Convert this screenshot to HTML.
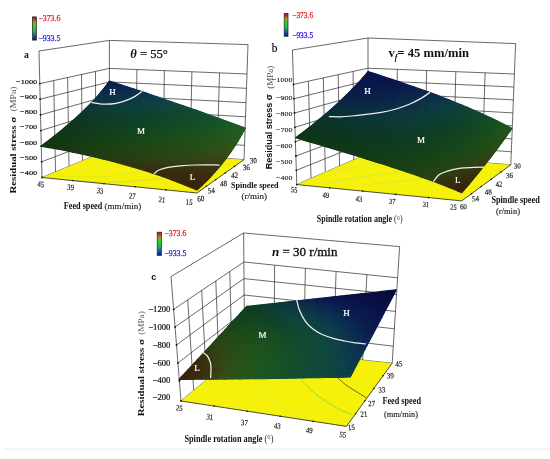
<!DOCTYPE html>
<html lang="en"><head><meta charset="utf-8"><title>Residual stress response surfaces</title>
<style>html,body{margin:0;padding:0;background:#fff}svg{display:block}text{font-family:'Liberation Serif','Noto Serif CJK SC',serif}</style>
</head><body>
<svg width="550" height="459" viewBox="0 0 550 459">
<rect width="550" height="459" fill="#fff"/>
<rect x="3.6" y="448.4" width="546.4" height="1.6" fill="#f2f2f2"/>
<g id="plot-a">
<polygon points="39,51 109.4,40.4 248,44.6 244,159.7 109.4,149.6 42,177.5" fill="#fff" stroke="none"/>
<line x1="39" y1="51" x2="109.4" y2="40.4" stroke="#2a2a2a" stroke-width="0.7"/>
<line x1="109.4" y1="40.4" x2="248" y2="44.6" stroke="#2a2a2a" stroke-width="0.7"/>
<line x1="39" y1="51" x2="42" y2="177.5" stroke="#2a2a2a" stroke-width="0.7"/>
<line x1="109.4" y1="40.4" x2="109.4" y2="149.6" stroke="#2a2a2a" stroke-width="0.7"/>
<line x1="248" y1="44.6" x2="244" y2="159.7" stroke="#2a2a2a" stroke-width="0.7"/>
<line x1="39.8" y1="83.6" x2="109.4" y2="68.4" stroke="#2a2a2a" stroke-width="0.7"/>
<line x1="109.4" y1="68.4" x2="247" y2="74" stroke="#2a2a2a" stroke-width="0.7"/>
<line x1="40.1" y1="99.2" x2="109.4" y2="81.9" stroke="#2a2a2a" stroke-width="0.7"/>
<line x1="109.4" y1="81.9" x2="246.5" y2="88.3" stroke="#2a2a2a" stroke-width="0.7"/>
<line x1="40.5" y1="114.9" x2="109.4" y2="95.5" stroke="#2a2a2a" stroke-width="0.7"/>
<line x1="109.4" y1="95.5" x2="246" y2="102.6" stroke="#2a2a2a" stroke-width="0.7"/>
<line x1="40.9" y1="130.6" x2="109.4" y2="109" stroke="#2a2a2a" stroke-width="0.7"/>
<line x1="109.4" y1="109" x2="245.5" y2="116.8" stroke="#2a2a2a" stroke-width="0.7"/>
<line x1="41.3" y1="146.2" x2="109.4" y2="122.5" stroke="#2a2a2a" stroke-width="0.7"/>
<line x1="109.4" y1="122.5" x2="245" y2="131.1" stroke="#2a2a2a" stroke-width="0.7"/>
<line x1="41.6" y1="161.8" x2="109.4" y2="136.1" stroke="#2a2a2a" stroke-width="0.7"/>
<line x1="109.4" y1="136.1" x2="244.5" y2="145.4" stroke="#2a2a2a" stroke-width="0.7"/>
<line x1="42" y1="177.5" x2="109.4" y2="149.6" stroke="#2a2a2a" stroke-width="0.7"/>
<line x1="109.4" y1="149.6" x2="244" y2="159.7" stroke="#2a2a2a" stroke-width="0.7"/>
<line x1="53.7" y1="80.6" x2="55.5" y2="171.9" stroke="#2a2a2a" stroke-width="0.7"/>
<line x1="136.9" y1="69.5" x2="136.3" y2="151.6" stroke="#2a2a2a" stroke-width="0.7"/>
<line x1="67.6" y1="77.5" x2="69" y2="166.3" stroke="#2a2a2a" stroke-width="0.7"/>
<line x1="164.4" y1="70.6" x2="163.2" y2="153.6" stroke="#2a2a2a" stroke-width="0.7"/>
<line x1="81.5" y1="74.5" x2="82.4" y2="160.8" stroke="#2a2a2a" stroke-width="0.7"/>
<line x1="191.9" y1="71.8" x2="190.2" y2="155.7" stroke="#2a2a2a" stroke-width="0.7"/>
<line x1="95.5" y1="71.4" x2="95.9" y2="155.2" stroke="#2a2a2a" stroke-width="0.7"/>
<line x1="219.5" y1="72.9" x2="217.1" y2="157.7" stroke="#2a2a2a" stroke-width="0.7"/>
<polygon points="42,177.5 197,193 244,159.7 109.4,149.6" fill="#f5f10a"/>
<path d="M60,176 C66.7,176.2 86.7,177.7 100,177 C113.3,176.3 128.3,173.8 140,172 C151.7,170.2 165,167 170,166" fill="none" stroke="#d8ea30" stroke-width="0.8" stroke-linecap="round"/>
<path d="M75,181 C82.5,181.2 105,182.5 120,182 C135,181.5 157.5,178.7 165,178" fill="none" stroke="#c6e23a" stroke-width="0.8" stroke-linecap="round"/>
<line x1="42" y1="177.5" x2="197" y2="193" stroke="#222" stroke-width="0.8"/>
<line x1="197" y1="193" x2="244" y2="159.7" stroke="#222" stroke-width="0.8"/>
<polygon points="109.4,81 115.5,83 121.7,85 127.9,87 134,89 140.2,91.1 146.3,93.1 152.5,95.2 158.7,97.3 164.8,99.4 171,101.5 177.2,103.7 183.4,105.8 189.6,108 195.8,110.1 202,112.3 208.2,114.5 214.4,116.7 220.6,118.9 226.8,121.2 233,123.4 239.2,125.7 245.4,128 243.7,131.2 241.9,134.4 240.1,137.5 238.3,140.6 236.4,143.6 234.4,146.7 232.4,149.6 230.4,152.6 228.3,155.5 226.2,158.4 224,161.2 221.8,164 219.5,166.8 217.2,169.5 214.8,172.2 212.4,174.8 210,177.5 207.5,180 204.9,182.6 202.3,185.1 199.7,187.6 197,190 190.8,187.4 184.6,184.9 178.2,182.4 171.8,180 165.3,177.6 158.7,175.3 152,173 145.2,170.8 138.4,168.7 131.4,166.6 124.3,164.6 117.2,162.6 110,160.7 102.7,158.9 95.3,157.1 87.8,155.4 80.2,153.7 72.5,152.1 64.8,150.5 57,149 49,147.6 41,146.2 45.2,143 49.3,139.9 53.3,136.8 57.2,133.7 61,130.6 64.7,127.5 68.3,124.5 71.8,121.5 75.2,118.5 78.4,115.5 81.6,112.5 84.7,109.5 87.6,106.6 90.5,103.7 93.2,100.8 95.8,97.9 98.4,95 100.8,92.2 103.1,89.4 105.3,86.6 107.4,83.8" fill="#17481e"/>
<g stroke-width="1.1" stroke-linejoin="round">
<polygon points="109.4,81 115.5,83 113.6,85.8 107.4,83.8" fill="#0c1e4f" stroke="#0c1e4f"/>
<polygon points="115.5,83 121.7,85 119.8,87.8 113.6,85.8" fill="#0c2250" stroke="#0c2250"/>
<polygon points="121.7,85 127.9,87 126,89.8 119.8,87.8" fill="#0c2550" stroke="#0c2550"/>
<polygon points="127.9,87 134,89 132.2,91.8 126,89.8" fill="#0c2951" stroke="#0c2951"/>
<polygon points="134,89 140.2,91.1 138.4,93.9 132.2,91.8" fill="#0d2e50" stroke="#0d2e50"/>
<polygon points="140.2,91.1 146.3,93.1 144.6,95.9 138.4,93.9" fill="#0d334e" stroke="#0d334e"/>
<polygon points="146.3,93.1 152.5,95.2 150.8,98 144.6,95.9" fill="#0e374d" stroke="#0e374d"/>
<polygon points="152.5,95.2 158.7,97.3 157,100.1 150.8,98" fill="#0e3b4b" stroke="#0e3b4b"/>
<polygon points="158.7,97.3 164.8,99.4 163.2,102.2 157,100.1" fill="#0f404a" stroke="#0f404a"/>
<polygon points="164.8,99.4 171,101.5 169.4,104.4 163.2,102.2" fill="#0f4246" stroke="#0f4246"/>
<polygon points="171,101.5 177.2,103.7 175.6,106.5 169.4,104.4" fill="#104542" stroke="#104542"/>
<polygon points="177.2,103.7 183.4,105.8 181.8,108.7 175.6,106.5" fill="#10483d" stroke="#10483d"/>
<polygon points="183.4,105.8 189.6,108 188,110.9 181.8,108.7" fill="#11493a" stroke="#11493a"/>
<polygon points="189.6,108 195.8,110.1 194.2,113.1 188,110.9" fill="#124b37" stroke="#124b37"/>
<polygon points="195.8,110.1 202,112.3 200.4,115.3 194.2,113.1" fill="#124c33" stroke="#124c33"/>
<polygon points="202,112.3 208.2,114.5 206.6,117.5 200.4,115.3" fill="#134d30" stroke="#134d30"/>
<polygon points="208.2,114.5 214.4,116.7 212.7,119.7 206.6,117.5" fill="#15502d" stroke="#15502d"/>
<polygon points="214.4,116.7 220.6,118.9 218.9,122 212.7,119.7" fill="#17532b" stroke="#17532b"/>
<polygon points="220.6,118.9 226.8,121.2 225.1,124.3 218.9,122" fill="#195629" stroke="#195629"/>
<polygon points="226.8,121.2 233,123.4 231.3,126.6 225.1,124.3" fill="#1b5926" stroke="#1b5926"/>
<polygon points="233,123.4 239.2,125.7 237.5,128.9 231.3,126.6" fill="#1d5b25" stroke="#1d5b25"/>
<polygon points="239.2,125.7 245.4,128 243.7,131.2 237.5,128.9" fill="#205d23" stroke="#205d23"/>
<polygon points="107.4,83.8 113.6,85.8 111.6,88.5 105.3,86.6" fill="#0c214f" stroke="#0c214f"/>
<polygon points="113.6,85.8 119.8,87.8 117.8,90.5 111.6,88.5" fill="#0c254f" stroke="#0c254f"/>
<polygon points="119.8,87.8 126,89.8 124.1,92.6 117.8,90.5" fill="#0c294f" stroke="#0c294f"/>
<polygon points="126,89.8 132.2,91.8 130.3,94.6 124.1,92.6" fill="#0c2d4e" stroke="#0c2d4e"/>
<polygon points="132.2,91.8 138.4,93.9 136.6,96.7 130.3,94.6" fill="#0d324d" stroke="#0d324d"/>
<polygon points="138.4,93.9 144.6,95.9 142.8,98.7 136.6,96.7" fill="#0d364c" stroke="#0d364c"/>
<polygon points="144.6,95.9 150.8,98 149,100.8 142.8,98.7" fill="#0e3a4a" stroke="#0e3a4a"/>
<polygon points="150.8,98 157,100.1 155.3,102.9 149,100.8" fill="#0e3e48" stroke="#0e3e48"/>
<polygon points="157,100.1 163.2,102.2 161.5,105.1 155.3,102.9" fill="#0f4145" stroke="#0f4145"/>
<polygon points="163.2,102.2 169.4,104.4 167.7,107.2 161.5,105.1" fill="#0f4441" stroke="#0f4441"/>
<polygon points="169.4,104.4 175.6,106.5 173.9,109.4 167.7,107.2" fill="#10463d" stroke="#10463d"/>
<polygon points="175.6,106.5 181.8,108.7 180.1,111.6 173.9,109.4" fill="#104839" stroke="#104839"/>
<polygon points="181.8,108.7 188,110.9 186.3,113.8 180.1,111.6" fill="#114936" stroke="#114936"/>
<polygon points="188,110.9 194.2,113.1 192.5,116 186.3,113.8" fill="#124a33" stroke="#124a33"/>
<polygon points="194.2,113.1 200.4,115.3 198.7,118.2 192.5,116" fill="#134b2f" stroke="#134b2f"/>
<polygon points="200.4,115.3 206.6,117.5 204.9,120.5 198.7,118.2" fill="#144e2d" stroke="#144e2d"/>
<polygon points="206.6,117.5 212.7,119.7 211.1,122.7 204.9,120.5" fill="#16502a" stroke="#16502a"/>
<polygon points="212.7,119.7 218.9,122 217.3,125 211.1,122.7" fill="#185328" stroke="#185328"/>
<polygon points="218.9,122 225.1,124.3 223.4,127.3 217.3,125" fill="#1a5626" stroke="#1a5626"/>
<polygon points="225.1,124.3 231.3,126.6 229.6,129.7 223.4,127.3" fill="#1c5824" stroke="#1c5824"/>
<polygon points="231.3,126.6 237.5,128.9 235.8,132 229.6,129.7" fill="#1f5a23" stroke="#1f5a23"/>
<polygon points="237.5,128.9 243.7,131.2 241.9,134.4 235.8,132" fill="#225c21" stroke="#225c21"/>
<polygon points="105.3,86.6 111.6,88.5 109.4,91.3 103.1,89.4" fill="#0c254e" stroke="#0c254e"/>
<polygon points="111.6,88.5 117.8,90.5 115.7,93.3 109.4,91.3" fill="#0c294e" stroke="#0c294e"/>
<polygon points="117.8,90.5 124.1,92.6 122,95.4 115.7,93.3" fill="#0c2d4d" stroke="#0c2d4d"/>
<polygon points="124.1,92.6 130.3,94.6 128.3,97.4 122,95.4" fill="#0d314c" stroke="#0d314c"/>
<polygon points="130.3,94.6 136.6,96.7 134.6,99.5 128.3,97.4" fill="#0d354a" stroke="#0d354a"/>
<polygon points="136.6,96.7 142.8,98.7 140.9,101.5 134.6,99.5" fill="#0e3949" stroke="#0e3949"/>
<polygon points="142.8,98.7 149,100.8 147.2,103.6 140.9,101.5" fill="#0e3d47" stroke="#0e3d47"/>
<polygon points="149,100.8 155.3,102.9 153.4,105.7 147.2,103.6" fill="#0f4043" stroke="#0f4043"/>
<polygon points="155.3,102.9 161.5,105.1 159.7,107.9 153.4,105.7" fill="#0f4240" stroke="#0f4240"/>
<polygon points="161.5,105.1 167.7,107.2 165.9,110 159.7,107.9" fill="#0f453c" stroke="#0f453c"/>
<polygon points="167.7,107.2 173.9,109.4 172.2,112.2 165.9,110" fill="#104638" stroke="#104638"/>
<polygon points="173.9,109.4 180.1,111.6 178.4,114.4 172.2,112.2" fill="#114735" stroke="#114735"/>
<polygon points="180.1,111.6 186.3,113.8 184.6,116.6 178.4,114.4" fill="#114832" stroke="#114832"/>
<polygon points="186.3,113.8 192.5,116 190.8,118.9 184.6,116.6" fill="#124a2f" stroke="#124a2f"/>
<polygon points="192.5,116 198.7,118.2 197,121.1 190.8,118.9" fill="#144c2c" stroke="#144c2c"/>
<polygon points="198.7,118.2 204.9,120.5 203.2,123.4 197,121.1" fill="#154e2a" stroke="#154e2a"/>
<polygon points="204.9,120.5 211.1,122.7 209.4,125.7 203.2,123.4" fill="#175127" stroke="#175127"/>
<polygon points="211.1,122.7 217.3,125 215.5,128 209.4,125.7" fill="#195425" stroke="#195425"/>
<polygon points="217.3,125 223.4,127.3 221.7,130.4 215.5,128" fill="#1b5624" stroke="#1b5624"/>
<polygon points="223.4,127.3 229.6,129.7 227.8,132.7 221.7,130.4" fill="#1e5822" stroke="#1e5822"/>
<polygon points="229.6,129.7 235.8,132 234,135.1 227.8,132.7" fill="#215921" stroke="#215921"/>
<polygon points="235.8,132 241.9,134.4 240.1,137.5 234,135.1" fill="#245b1f" stroke="#245b1f"/>
<polygon points="103.1,89.4 109.4,91.3 107.2,94.2 100.8,92.2" fill="#0c284c" stroke="#0c284c"/>
<polygon points="109.4,91.3 115.7,93.3 113.5,96.2 107.2,94.2" fill="#0c2c4b" stroke="#0c2c4b"/>
<polygon points="115.7,93.3 122,95.4 119.9,98.2 113.5,96.2" fill="#0d314a" stroke="#0d314a"/>
<polygon points="122,95.4 128.3,97.4 126.3,100.2 119.9,98.2" fill="#0d3449" stroke="#0d3449"/>
<polygon points="128.3,97.4 134.6,99.5 132.6,102.3 126.3,100.2" fill="#0d3847" stroke="#0d3847"/>
<polygon points="134.6,99.5 140.9,101.5 138.9,104.3 132.6,102.3" fill="#0e3c46" stroke="#0e3c46"/>
<polygon points="140.9,101.5 147.2,103.6 145.2,106.4 138.9,104.3" fill="#0e3f42" stroke="#0e3f42"/>
<polygon points="147.2,103.6 153.4,105.7 151.5,108.6 145.2,106.4" fill="#0f413e" stroke="#0f413e"/>
<polygon points="153.4,105.7 159.7,107.9 157.8,110.7 151.5,108.6" fill="#0f433b" stroke="#0f433b"/>
<polygon points="159.7,107.9 165.9,110 164.1,112.9 157.8,110.7" fill="#104537" stroke="#104537"/>
<polygon points="165.9,110 172.2,112.2 170.3,115.1 164.1,112.9" fill="#104634" stroke="#104634"/>
<polygon points="172.2,112.2 178.4,114.4 176.6,117.3 170.3,115.1" fill="#114731" stroke="#114731"/>
<polygon points="178.4,114.4 184.6,116.6 182.8,119.5 176.6,117.3" fill="#12482e" stroke="#12482e"/>
<polygon points="184.6,116.6 190.8,118.9 189,121.8 182.8,119.5" fill="#134a2b" stroke="#134a2b"/>
<polygon points="190.8,118.9 197,121.1 195.2,124 189,121.8" fill="#154c29" stroke="#154c29"/>
<polygon points="197,121.1 203.2,123.4 201.4,126.3 195.2,124" fill="#164f27" stroke="#164f27"/>
<polygon points="203.2,123.4 209.4,125.7 207.6,128.7 201.4,126.3" fill="#185225" stroke="#185225"/>
<polygon points="209.4,125.7 215.5,128 213.7,131 207.6,128.7" fill="#1a5423" stroke="#1a5423"/>
<polygon points="215.5,128 221.7,130.4 219.9,133.4 213.7,131" fill="#1d5522" stroke="#1d5522"/>
<polygon points="221.7,130.4 227.8,132.7 226,135.7 219.9,133.4" fill="#205720" stroke="#205720"/>
<polygon points="227.8,132.7 234,135.1 232.2,138.2 226,135.7" fill="#22591f" stroke="#22591f"/>
<polygon points="234,135.1 240.1,137.5 238.3,140.6 232.2,138.2" fill="#265a1e" stroke="#265a1e"/>
<polygon points="100.8,92.2 107.2,94.2 104.8,97 98.4,95" fill="#0c2c4a" stroke="#0c2c4a"/>
<polygon points="107.2,94.2 113.5,96.2 111.2,99 104.8,97" fill="#0c3049" stroke="#0c3049"/>
<polygon points="113.5,96.2 119.9,98.2 117.7,101 111.2,99" fill="#0d3447" stroke="#0d3447"/>
<polygon points="119.9,98.2 126.3,100.2 124.1,103 117.7,101" fill="#0d3746" stroke="#0d3746"/>
<polygon points="126.3,100.2 132.6,102.3 130.5,105.1 124.1,103" fill="#0e3b44" stroke="#0e3b44"/>
<polygon points="132.6,102.3 138.9,104.3 136.8,107.1 130.5,105.1" fill="#0e3d41" stroke="#0e3d41"/>
<polygon points="138.9,104.3 145.2,106.4 143.2,109.2 136.8,107.1" fill="#0e403d" stroke="#0e403d"/>
<polygon points="145.2,106.4 151.5,108.6 149.5,111.4 143.2,109.2" fill="#0f4239" stroke="#0f4239"/>
<polygon points="151.5,108.6 157.8,110.7 155.8,113.5 149.5,111.4" fill="#0f4436" stroke="#0f4436"/>
<polygon points="157.8,110.7 164.1,112.9 162.1,115.7 155.8,113.5" fill="#104533" stroke="#104533"/>
<polygon points="164.1,112.9 170.3,115.1 168.4,117.9 162.1,115.7" fill="#114530" stroke="#114530"/>
<polygon points="170.3,115.1 176.6,117.3 174.7,120.1 168.4,117.9" fill="#11462d" stroke="#11462d"/>
<polygon points="176.6,117.3 182.8,119.5 180.9,122.4 174.7,120.1" fill="#13482b" stroke="#13482b"/>
<polygon points="182.8,119.5 189,121.8 187.2,124.6 180.9,122.4" fill="#144b29" stroke="#144b29"/>
<polygon points="189,121.8 195.2,124 193.4,126.9 187.2,124.6" fill="#164d26" stroke="#164d26"/>
<polygon points="195.2,124 201.4,126.3 199.6,129.2 193.4,126.9" fill="#175024" stroke="#175024"/>
<polygon points="201.4,126.3 207.6,128.7 205.7,131.6 199.6,129.2" fill="#195222" stroke="#195222"/>
<polygon points="207.6,128.7 213.7,131 211.9,133.9 205.7,131.6" fill="#1c5321" stroke="#1c5321"/>
<polygon points="213.7,131 219.9,133.4 218,136.3 211.9,133.9" fill="#1f5520" stroke="#1f5520"/>
<polygon points="219.9,133.4 226,135.7 224.2,138.7 218,136.3" fill="#21571f" stroke="#21571f"/>
<polygon points="226,135.7 232.2,138.2 230.3,141.2 224.2,138.7" fill="#25581d" stroke="#25581d"/>
<polygon points="232.2,138.2 238.3,140.6 236.4,143.6 230.3,141.2" fill="#29581c" stroke="#29581c"/>
<polygon points="98.4,95 104.8,97 102.4,99.9 95.8,97.9" fill="#0c3047" stroke="#0c3047"/>
<polygon points="104.8,97 111.2,99 108.9,101.8 102.4,99.9" fill="#0d3345" stroke="#0d3345"/>
<polygon points="111.2,99 117.7,101 115.3,103.8 108.9,101.8" fill="#0d3744" stroke="#0d3744"/>
<polygon points="117.7,101 124.1,103 121.8,105.8 115.3,103.8" fill="#0d3a43" stroke="#0d3a43"/>
<polygon points="124.1,103 130.5,105.1 128.2,107.9 121.8,105.8" fill="#0e3c3f" stroke="#0e3c3f"/>
<polygon points="130.5,105.1 136.8,107.1 134.7,110 128.2,107.9" fill="#0e3f3c" stroke="#0e3f3c"/>
<polygon points="136.8,107.1 143.2,109.2 141.1,112.1 134.7,110" fill="#0f4138" stroke="#0f4138"/>
<polygon points="143.2,109.2 149.5,111.4 147.4,114.2 141.1,112.1" fill="#0f4235" stroke="#0f4235"/>
<polygon points="149.5,111.4 155.8,113.5 153.8,116.3 147.4,114.2" fill="#104332" stroke="#104332"/>
<polygon points="155.8,113.5 162.1,115.7 160.1,118.5 153.8,116.3" fill="#10442f" stroke="#10442f"/>
<polygon points="162.1,115.7 168.4,117.9 166.4,120.7 160.1,118.5" fill="#11452d" stroke="#11452d"/>
<polygon points="168.4,117.9 174.7,120.1 172.7,122.9 166.4,120.7" fill="#12472a" stroke="#12472a"/>
<polygon points="174.7,120.1 180.9,122.4 179,125.2 172.7,122.9" fill="#144928" stroke="#144928"/>
<polygon points="180.9,122.4 187.2,124.6 185.2,127.5 179,125.2" fill="#154b26" stroke="#154b26"/>
<polygon points="187.2,124.6 193.4,126.9 191.5,129.8 185.2,127.5" fill="#174e24" stroke="#174e24"/>
<polygon points="193.4,126.9 199.6,129.2 197.7,132.1 191.5,129.8" fill="#195022" stroke="#195022"/>
<polygon points="199.6,129.2 205.7,131.6 203.8,134.5 197.7,132.1" fill="#1b5121" stroke="#1b5121"/>
<polygon points="205.7,131.6 211.9,133.9 210,136.9 203.8,134.5" fill="#1d531f" stroke="#1d531f"/>
<polygon points="211.9,133.9 218,136.3 216.1,139.3 210,136.9" fill="#20541e" stroke="#20541e"/>
<polygon points="218,136.3 224.2,138.7 222.3,141.7 216.1,139.3" fill="#23561d" stroke="#23561d"/>
<polygon points="224.2,138.7 230.3,141.2 228.3,144.2 222.3,141.7" fill="#27561c" stroke="#27561c"/>
<polygon points="230.3,141.2 236.4,143.6 234.4,146.7 228.3,144.2" fill="#2c561b" stroke="#2c561b"/>
<polygon points="95.8,97.9 102.4,99.9 99.8,102.7 93.2,100.8" fill="#0c3344" stroke="#0c3344"/>
<polygon points="102.4,99.9 108.9,101.8 106.4,104.7 99.8,102.7" fill="#0d3642" stroke="#0d3642"/>
<polygon points="108.9,101.8 115.3,103.8 112.9,106.7 106.4,104.7" fill="#0d3941" stroke="#0d3941"/>
<polygon points="115.3,103.8 121.8,105.8 119.4,108.7 112.9,106.7" fill="#0e3b3d" stroke="#0e3b3d"/>
<polygon points="121.8,105.8 128.2,107.9 125.9,110.7 119.4,108.7" fill="#0e3e3a" stroke="#0e3e3a"/>
<polygon points="128.2,107.9 134.7,110 132.4,112.8 125.9,110.7" fill="#0e4037" stroke="#0e4037"/>
<polygon points="134.7,110 141.1,112.1 138.9,114.9 132.4,112.8" fill="#0f4134" stroke="#0f4134"/>
<polygon points="141.1,112.1 147.4,114.2 145.3,117 138.9,114.9" fill="#0f4231" stroke="#0f4231"/>
<polygon points="147.4,114.2 153.8,116.3 151.7,119.1 145.3,117" fill="#10432e" stroke="#10432e"/>
<polygon points="153.8,116.3 160.1,118.5 158,121.3 151.7,119.1" fill="#11442c" stroke="#11442c"/>
<polygon points="160.1,118.5 166.4,120.7 164.4,123.5 158,121.3" fill="#124529" stroke="#124529"/>
<polygon points="166.4,120.7 172.7,122.9 170.7,125.8 164.4,123.5" fill="#134727" stroke="#134727"/>
<polygon points="172.7,122.9 179,125.2 177,128 170.7,125.8" fill="#154a25" stroke="#154a25"/>
<polygon points="179,125.2 185.2,127.5 183.2,130.3 177,128" fill="#164c23" stroke="#164c23"/>
<polygon points="185.2,127.5 191.5,129.8 189.5,132.6 183.2,130.3" fill="#184e21" stroke="#184e21"/>
<polygon points="191.5,129.8 197.7,132.1 195.7,135 189.5,132.6" fill="#1a5020" stroke="#1a5020"/>
<polygon points="197.7,132.1 203.8,134.5 201.9,137.3 195.7,135" fill="#1d511f" stroke="#1d511f"/>
<polygon points="203.8,134.5 210,136.9 208,139.7 201.9,137.3" fill="#1f531e" stroke="#1f531e"/>
<polygon points="210,136.9 216.1,139.3 214.2,142.2 208,139.7" fill="#22541c" stroke="#22541c"/>
<polygon points="216.1,139.3 222.3,141.7 220.3,144.6 214.2,142.2" fill="#26541b" stroke="#26541b"/>
<polygon points="222.3,141.7 228.3,144.2 226.4,147.1 220.3,144.6" fill="#2a551a" stroke="#2a551a"/>
<polygon points="228.3,144.2 234.4,146.7 232.4,149.6 226.4,147.1" fill="#2e5519" stroke="#2e5519"/>
<polygon points="93.2,100.8 99.8,102.7 97.1,105.6 90.5,103.7" fill="#0d3640" stroke="#0d3640"/>
<polygon points="99.8,102.7 106.4,104.7 103.8,107.5 97.1,105.6" fill="#0d383e" stroke="#0d383e"/>
<polygon points="106.4,104.7 112.9,106.7 110.4,109.5 103.8,107.5" fill="#0d3a3b" stroke="#0d3a3b"/>
<polygon points="112.9,106.7 119.4,108.7 117,111.5 110.4,109.5" fill="#0e3c38" stroke="#0e3c38"/>
<polygon points="119.4,108.7 125.9,110.7 123.5,113.5 117,111.5" fill="#0e3f35" stroke="#0e3f35"/>
<polygon points="125.9,110.7 132.4,112.8 130.1,115.6 123.5,113.5" fill="#0f4033" stroke="#0f4033"/>
<polygon points="132.4,112.8 138.9,114.9 136.6,117.7 130.1,115.6" fill="#0f4130" stroke="#0f4130"/>
<polygon points="138.9,114.9 145.3,117 143,119.8 136.6,117.7" fill="#10412d" stroke="#10412d"/>
<polygon points="145.3,117 151.7,119.1 149.5,121.9 143,119.8" fill="#10422b" stroke="#10422b"/>
<polygon points="151.7,119.1 158,121.3 155.9,124.1 149.5,121.9" fill="#114428" stroke="#114428"/>
<polygon points="158,121.3 164.4,123.5 162.2,126.3 155.9,124.1" fill="#134626" stroke="#134626"/>
<polygon points="164.4,123.5 170.7,125.8 168.6,128.6 162.2,126.3" fill="#144825" stroke="#144825"/>
<polygon points="170.7,125.8 177,128 174.9,130.8 168.6,128.6" fill="#154a23" stroke="#154a23"/>
<polygon points="177,128 183.2,130.3 181.2,133.1 174.9,130.8" fill="#174c21" stroke="#174c21"/>
<polygon points="183.2,130.3 189.5,132.6 187.4,135.5 181.2,133.1" fill="#194e20" stroke="#194e20"/>
<polygon points="189.5,132.6 195.7,135 193.7,137.8 187.4,135.5" fill="#1c4f1e" stroke="#1c4f1e"/>
<polygon points="195.7,135 201.9,137.3 199.9,140.2 193.7,137.8" fill="#1e511d" stroke="#1e511d"/>
<polygon points="201.9,137.3 208,139.7 206,142.6 199.9,140.2" fill="#21521c" stroke="#21521c"/>
<polygon points="208,139.7 214.2,142.2 212.2,145.1 206,142.6" fill="#24521b" stroke="#24521b"/>
<polygon points="214.2,142.2 220.3,144.6 218.3,147.5 212.2,145.1" fill="#28531a" stroke="#28531a"/>
<polygon points="220.3,144.6 226.4,147.1 224.3,150 218.3,147.5" fill="#2c5319" stroke="#2c5319"/>
<polygon points="226.4,147.1 232.4,149.6 230.4,152.6 224.3,150" fill="#315119" stroke="#315119"/>
<polygon points="90.5,103.7 97.1,105.6 94.4,108.5 87.6,106.6" fill="#0d373c" stroke="#0d373c"/>
<polygon points="97.1,105.6 103.8,107.5 101.1,110.4 94.4,108.5" fill="#0d3939" stroke="#0d3939"/>
<polygon points="103.8,107.5 110.4,109.5 107.8,112.4 101.1,110.4" fill="#0d3b36" stroke="#0d3b36"/>
<polygon points="110.4,109.5 117,111.5 114.4,114.3 107.8,112.4" fill="#0e3d33" stroke="#0e3d33"/>
<polygon points="117,111.5 123.5,113.5 121,116.4 114.4,114.3" fill="#0e3e31" stroke="#0e3e31"/>
<polygon points="123.5,113.5 130.1,115.6 127.6,118.4 121,116.4" fill="#0f3f2f" stroke="#0f3f2f"/>
<polygon points="130.1,115.6 136.6,117.7 134.2,120.5 127.6,118.4" fill="#0f402c" stroke="#0f402c"/>
<polygon points="136.6,117.7 143,119.8 140.7,122.6 134.2,120.5" fill="#10412a" stroke="#10412a"/>
<polygon points="143,119.8 149.5,121.9 147.2,124.7 140.7,122.6" fill="#114227" stroke="#114227"/>
<polygon points="149.5,121.9 155.9,124.1 153.6,126.9 147.2,124.7" fill="#124426" stroke="#124426"/>
<polygon points="155.9,124.1 162.2,126.3 160,129.1 153.6,126.9" fill="#144724" stroke="#144724"/>
<polygon points="162.2,126.3 168.6,128.6 166.4,131.4 160,129.1" fill="#154922" stroke="#154922"/>
<polygon points="168.6,128.6 174.9,130.8 172.8,133.6 166.4,131.4" fill="#174b20" stroke="#174b20"/>
<polygon points="174.9,130.8 181.2,133.1 179.1,135.9 172.8,133.6" fill="#194c1f" stroke="#194c1f"/>
<polygon points="181.2,133.1 187.4,135.5 185.3,138.3 179.1,135.9" fill="#1b4e1e" stroke="#1b4e1e"/>
<polygon points="187.4,135.5 193.7,137.8 191.6,140.6 185.3,138.3" fill="#1d4f1d" stroke="#1d4f1d"/>
<polygon points="193.7,137.8 199.9,140.2 197.8,143 191.6,140.6" fill="#20501c" stroke="#20501c"/>
<polygon points="199.9,140.2 206,142.6 204,145.5 197.8,143" fill="#23511b" stroke="#23511b"/>
<polygon points="206,142.6 212.2,145.1 210.1,147.9 204,145.5" fill="#27511a" stroke="#27511a"/>
<polygon points="212.2,145.1 218.3,147.5 216.2,150.4 210.1,147.9" fill="#2b5119" stroke="#2b5119"/>
<polygon points="218.3,147.5 224.3,150 222.3,152.9 216.2,150.4" fill="#2f5018" stroke="#2f5018"/>
<polygon points="224.3,150 230.4,152.6 228.3,155.5 222.3,152.9" fill="#334e19" stroke="#334e19"/>
<polygon points="87.6,106.6 94.4,108.5 91.5,111.4 84.7,109.5" fill="#0d3837" stroke="#0d3837"/>
<polygon points="94.4,108.5 101.1,110.4 98.3,113.3 91.5,111.4" fill="#0d3a34" stroke="#0d3a34"/>
<polygon points="101.1,110.4 107.8,112.4 105,115.2 98.3,113.3" fill="#0e3c32" stroke="#0e3c32"/>
<polygon points="107.8,112.4 114.4,114.3 111.8,117.2 105,115.2" fill="#0e3d2f" stroke="#0e3d2f"/>
<polygon points="114.4,114.3 121,116.4 118.5,119.2 111.8,117.2" fill="#0f3e2d" stroke="#0f3e2d"/>
<polygon points="121,116.4 127.6,118.4 125.1,121.2 118.5,119.2" fill="#0f3f2b" stroke="#0f3f2b"/>
<polygon points="127.6,118.4 134.2,120.5 131.7,123.3 125.1,121.2" fill="#104028" stroke="#104028"/>
<polygon points="134.2,120.5 140.7,122.6 138.3,125.4 131.7,123.3" fill="#114126" stroke="#114126"/>
<polygon points="140.7,122.6 147.2,124.7 144.8,127.5 138.3,125.4" fill="#124325" stroke="#124325"/>
<polygon points="147.2,124.7 153.6,126.9 151.3,129.7 144.8,127.5" fill="#134523" stroke="#134523"/>
<polygon points="153.6,126.9 160,129.1 157.7,131.9 151.3,129.7" fill="#154721" stroke="#154721"/>
<polygon points="160,129.1 166.4,131.4 164.2,134.1 157.7,131.9" fill="#16491f" stroke="#16491f"/>
<polygon points="166.4,131.4 172.8,133.6 170.5,136.4 164.2,134.1" fill="#184b1e" stroke="#184b1e"/>
<polygon points="172.8,133.6 179.1,135.9 176.9,138.7 170.5,136.4" fill="#1a4c1d" stroke="#1a4c1d"/>
<polygon points="179.1,135.9 185.3,138.3 183.2,141 176.9,138.7" fill="#1c4d1c" stroke="#1c4d1c"/>
<polygon points="185.3,138.3 191.6,140.6 189.4,143.4 183.2,141" fill="#1f4f1b" stroke="#1f4f1b"/>
<polygon points="191.6,140.6 197.8,143 195.6,145.8 189.4,143.4" fill="#224f1a" stroke="#224f1a"/>
<polygon points="197.8,143 204,145.5 201.8,148.3 195.6,145.8" fill="#254f19" stroke="#254f19"/>
<polygon points="204,145.5 210.1,147.9 208,150.7 201.8,148.3" fill="#295018" stroke="#295018"/>
<polygon points="210.1,147.9 216.2,150.4 214.1,153.2 208,150.7" fill="#2d4f18" stroke="#2d4f18"/>
<polygon points="216.2,150.4 222.3,152.9 220.1,155.8 214.1,153.2" fill="#314d18" stroke="#314d18"/>
<polygon points="222.3,152.9 228.3,155.5 226.2,158.4 220.1,155.8" fill="#364b18" stroke="#364b18"/>
<polygon points="84.7,109.5 91.5,111.4 88.5,114.3 81.6,112.5" fill="#0d3932" stroke="#0d3932"/>
<polygon points="91.5,111.4 98.3,113.3 95.4,116.2 88.5,114.3" fill="#0d3b30" stroke="#0d3b30"/>
<polygon points="98.3,113.3 105,115.2 102.2,118.1 95.4,116.2" fill="#0e3b2e" stroke="#0e3b2e"/>
<polygon points="105,115.2 111.8,117.2 109,120.1 102.2,118.1" fill="#0e3c2b" stroke="#0e3c2b"/>
<polygon points="111.8,117.2 118.5,119.2 115.8,122 109,120.1" fill="#0f3d29" stroke="#0f3d29"/>
<polygon points="118.5,119.2 125.1,121.2 122.5,124.1 115.8,122" fill="#0f3e27" stroke="#0f3e27"/>
<polygon points="125.1,121.2 131.7,123.3 129.1,126.1 122.5,124.1" fill="#104025" stroke="#104025"/>
<polygon points="131.7,123.3 138.3,125.4 135.8,128.2 129.1,126.1" fill="#124224" stroke="#124224"/>
<polygon points="138.3,125.4 144.8,127.5 142.3,130.3 135.8,128.2" fill="#134422" stroke="#134422"/>
<polygon points="144.8,127.5 151.3,129.7 148.9,132.5 142.3,130.3" fill="#144620" stroke="#144620"/>
<polygon points="151.3,129.7 157.7,131.9 155.4,134.7 148.9,132.5" fill="#16481f" stroke="#16481f"/>
<polygon points="157.7,131.9 164.2,134.1 161.8,136.9 155.4,134.7" fill="#18491e" stroke="#18491e"/>
<polygon points="164.2,134.1 170.5,136.4 168.2,139.2 161.8,136.9" fill="#1a4a1d" stroke="#1a4a1d"/>
<polygon points="170.5,136.4 176.9,138.7 174.6,141.5 168.2,139.2" fill="#1c4c1c" stroke="#1c4c1c"/>
<polygon points="176.9,138.7 183.2,141 180.9,143.8 174.6,141.5" fill="#1e4d1b" stroke="#1e4d1b"/>
<polygon points="183.2,141 189.4,143.4 187.2,146.2 180.9,143.8" fill="#214e1a" stroke="#214e1a"/>
<polygon points="189.4,143.4 195.6,145.8 193.4,148.6 187.2,146.2" fill="#244e19" stroke="#244e19"/>
<polygon points="195.6,145.8 201.8,148.3 199.6,151.1 193.4,148.6" fill="#284e18" stroke="#284e18"/>
<polygon points="201.8,148.3 208,150.7 205.8,153.5 199.6,151.1" fill="#2c4e17" stroke="#2c4e17"/>
<polygon points="208,150.7 214.1,153.2 211.9,156.1 205.8,153.5" fill="#304c18" stroke="#304c18"/>
<polygon points="214.1,153.2 220.1,155.8 218,158.6 211.9,156.1" fill="#344a18" stroke="#344a18"/>
<polygon points="220.1,155.8 226.2,158.4 224,161.2 218,158.6" fill="#384618" stroke="#384618"/>
<polygon points="81.6,112.5 88.5,114.3 85.4,117.3 78.4,115.5" fill="#0d392d" stroke="#0d392d"/>
<polygon points="88.5,114.3 95.4,116.2 92.4,119.1 85.4,117.3" fill="#0e3a2c" stroke="#0e3a2c"/>
<polygon points="95.4,116.2 102.2,118.1 99.3,121 92.4,119.1" fill="#0e3b2a" stroke="#0e3b2a"/>
<polygon points="102.2,118.1 109,120.1 106.2,122.9 99.3,121" fill="#0f3c28" stroke="#0f3c28"/>
<polygon points="109,120.1 115.8,122 113,124.9 106.2,122.9" fill="#0f3d26" stroke="#0f3d26"/>
<polygon points="115.8,122 122.5,124.1 119.8,126.9 113,124.9" fill="#103e24" stroke="#103e24"/>
<polygon points="122.5,124.1 129.1,126.1 126.5,128.9 119.8,126.9" fill="#114023" stroke="#114023"/>
<polygon points="129.1,126.1 135.8,128.2 133.2,131 126.5,128.9" fill="#134221" stroke="#134221"/>
<polygon points="135.8,128.2 142.3,130.3 139.8,133.1 133.2,131" fill="#144420" stroke="#144420"/>
<polygon points="142.3,130.3 148.9,132.5 146.4,135.3 139.8,133.1" fill="#15461e" stroke="#15461e"/>
<polygon points="148.9,132.5 155.4,134.7 152.9,137.4 146.4,135.3" fill="#17481d" stroke="#17481d"/>
<polygon points="155.4,134.7 161.8,136.9 159.4,139.7 152.9,137.4" fill="#19491c" stroke="#19491c"/>
<polygon points="161.8,136.9 168.2,139.2 165.9,141.9 159.4,139.7" fill="#1b4a1b" stroke="#1b4a1b"/>
<polygon points="168.2,139.2 174.6,141.5 172.3,144.2 165.9,141.9" fill="#1d4b1a" stroke="#1d4b1a"/>
<polygon points="174.6,141.5 180.9,143.8 178.6,146.6 172.3,144.2" fill="#204c19" stroke="#204c19"/>
<polygon points="180.9,143.8 187.2,146.2 184.9,148.9 178.6,146.6" fill="#234c19" stroke="#234c19"/>
<polygon points="187.2,146.2 193.4,148.6 191.2,151.4 184.9,148.9" fill="#274d18" stroke="#274d18"/>
<polygon points="193.4,148.6 199.6,151.1 197.4,153.8 191.2,151.4" fill="#2a4d17" stroke="#2a4d17"/>
<polygon points="199.6,151.1 205.8,153.5 203.6,156.3 197.4,153.8" fill="#2e4b17" stroke="#2e4b17"/>
<polygon points="205.8,153.5 211.9,156.1 209.7,158.8 203.6,156.3" fill="#324917" stroke="#324917"/>
<polygon points="211.9,156.1 218,158.6 215.8,161.4 209.7,158.8" fill="#364617" stroke="#364617"/>
<polygon points="218,158.6 224,161.2 221.8,164 215.8,161.4" fill="#394116" stroke="#394116"/>
<polygon points="78.4,115.5 85.4,117.3 82.3,120.2 75.2,118.5" fill="#0d3829" stroke="#0d3829"/>
<polygon points="85.4,117.3 92.4,119.1 89.3,122.1 82.3,120.2" fill="#0e3928" stroke="#0e3928"/>
<polygon points="92.4,119.1 99.3,121 96.3,123.9 89.3,122.1" fill="#0e3a26" stroke="#0e3a26"/>
<polygon points="99.3,121 106.2,122.9 103.2,125.8 96.3,123.9" fill="#0f3b24" stroke="#0f3b24"/>
<polygon points="106.2,122.9 113,124.9 110.1,127.7 103.2,125.8" fill="#103d23" stroke="#103d23"/>
<polygon points="113,124.9 119.8,126.9 117,129.7 110.1,127.7" fill="#113f21" stroke="#113f21"/>
<polygon points="119.8,126.9 126.5,128.9 123.8,131.7 117,129.7" fill="#124120" stroke="#124120"/>
<polygon points="126.5,128.9 133.2,131 130.5,133.8 123.8,131.7" fill="#14431f" stroke="#14431f"/>
<polygon points="133.2,131 139.8,133.1 137.2,135.9 130.5,133.8" fill="#15451d" stroke="#15451d"/>
<polygon points="139.8,133.1 146.4,135.3 143.8,138 137.2,135.9" fill="#17461c" stroke="#17461c"/>
<polygon points="146.4,135.3 152.9,137.4 150.4,140.2 143.8,138" fill="#19471c" stroke="#19471c"/>
<polygon points="152.9,137.4 159.4,139.7 157,142.4 150.4,140.2" fill="#1b491b" stroke="#1b491b"/>
<polygon points="159.4,139.7 165.9,141.9 163.4,144.7 157,142.4" fill="#1d4a1a" stroke="#1d4a1a"/>
<polygon points="165.9,141.9 172.3,144.2 169.9,147 163.4,144.7" fill="#1f4b19" stroke="#1f4b19"/>
<polygon points="172.3,144.2 178.6,146.6 176.3,149.3 169.9,147" fill="#224b18" stroke="#224b18"/>
<polygon points="178.6,146.6 184.9,148.9 182.6,151.7 176.3,149.3" fill="#264b17" stroke="#264b17"/>
<polygon points="184.9,148.9 191.2,151.4 188.9,154.1 182.6,151.7" fill="#294b16" stroke="#294b16"/>
<polygon points="191.2,151.4 197.4,153.8 195.1,156.5 188.9,154.1" fill="#2d4a17" stroke="#2d4a17"/>
<polygon points="197.4,153.8 203.6,156.3 201.3,159 195.1,156.5" fill="#314817" stroke="#314817"/>
<polygon points="203.6,156.3 209.7,158.8 207.4,161.6 201.3,159" fill="#354617" stroke="#354617"/>
<polygon points="209.7,158.8 215.8,161.4 213.5,164.1 207.4,161.6" fill="#384116" stroke="#384116"/>
<polygon points="215.8,161.4 221.8,164 219.5,166.8 213.5,164.1" fill="#3b3c14" stroke="#3b3c14"/>
<polygon points="75.2,118.5 82.3,120.2 79,123.2 71.8,121.5" fill="#0d3725" stroke="#0d3725"/>
<polygon points="82.3,120.2 89.3,122.1 86.1,125 79,123.2" fill="#0e3824" stroke="#0e3824"/>
<polygon points="89.3,122.1 96.3,123.9 93.2,126.8 86.1,125" fill="#0f3a22" stroke="#0f3a22"/>
<polygon points="96.3,123.9 103.2,125.8 100.2,128.7 93.2,126.8" fill="#103c21" stroke="#103c21"/>
<polygon points="103.2,125.8 110.1,127.7 107.2,130.6 100.2,128.7" fill="#113e20" stroke="#113e20"/>
<polygon points="110.1,127.7 117,129.7 114.1,132.6 107.2,130.6" fill="#12401f" stroke="#12401f"/>
<polygon points="117,129.7 123.8,131.7 121,134.6 114.1,132.6" fill="#13421d" stroke="#13421d"/>
<polygon points="123.8,131.7 130.5,133.8 127.8,136.6 121,134.6" fill="#15431c" stroke="#15431c"/>
<polygon points="130.5,133.8 137.2,135.9 134.5,138.7 127.8,136.6" fill="#16441c" stroke="#16441c"/>
<polygon points="137.2,135.9 143.8,138 141.2,140.8 134.5,138.7" fill="#18461b" stroke="#18461b"/>
<polygon points="143.8,138 150.4,140.2 147.8,142.9 141.2,140.8" fill="#1a471a" stroke="#1a471a"/>
<polygon points="150.4,140.2 157,142.4 154.4,145.1 147.8,142.9" fill="#1c4819" stroke="#1c4819"/>
<polygon points="157,142.4 163.4,144.7 160.9,147.4 154.4,145.1" fill="#1f4918" stroke="#1f4918"/>
<polygon points="163.4,144.7 169.9,147 167.4,149.7 160.9,147.4" fill="#224918" stroke="#224918"/>
<polygon points="169.9,147 176.3,149.3 173.8,152 167.4,149.7" fill="#254a17" stroke="#254a17"/>
<polygon points="176.3,149.3 182.6,151.7 180.2,154.4 173.8,152" fill="#284a16" stroke="#284a16"/>
<polygon points="182.6,151.7 188.9,154.1 186.5,156.8 180.2,154.4" fill="#2b4816" stroke="#2b4816"/>
<polygon points="188.9,154.1 195.1,156.5 192.7,159.3 186.5,156.8" fill="#2f4717" stroke="#2f4717"/>
<polygon points="195.1,156.5 201.3,159 198.9,161.7 192.7,159.3" fill="#334517" stroke="#334517"/>
<polygon points="201.3,159 207.4,161.6 205.1,164.3 198.9,161.7" fill="#364116" stroke="#364116"/>
<polygon points="207.4,161.6 213.5,164.1 211.2,166.9 205.1,164.3" fill="#393c14" stroke="#393c14"/>
<polygon points="213.5,164.1 219.5,166.8 217.2,169.5 211.2,166.9" fill="#3c3713" stroke="#3c3713"/>
<polygon points="71.8,121.5 79,123.2 75.6,126.2 68.3,124.5" fill="#0e3722" stroke="#0e3722"/>
<polygon points="79,123.2 86.1,125 82.8,128 75.6,126.2" fill="#0f3821" stroke="#0f3821"/>
<polygon points="86.1,125 93.2,126.8 90,129.8 82.8,128" fill="#103a20" stroke="#103a20"/>
<polygon points="93.2,126.8 100.2,128.7 97.1,131.6 90,129.8" fill="#113c1f" stroke="#113c1f"/>
<polygon points="100.2,128.7 107.2,130.6 104.1,133.5 97.1,131.6" fill="#123e1d" stroke="#123e1d"/>
<polygon points="107.2,130.6 114.1,132.6 111.1,135.4 104.1,133.5" fill="#13401c" stroke="#13401c"/>
<polygon points="114.1,132.6 121,134.6 118,137.4 111.1,135.4" fill="#14421b" stroke="#14421b"/>
<polygon points="121,134.6 127.8,136.6 124.9,139.4 118,137.4" fill="#16431b" stroke="#16431b"/>
<polygon points="127.8,136.6 134.5,138.7 131.7,141.4 124.9,139.4" fill="#18441a" stroke="#18441a"/>
<polygon points="134.5,138.7 141.2,140.8 138.5,143.5 131.7,141.4" fill="#1a4519" stroke="#1a4519"/>
<polygon points="141.2,140.8 147.8,142.9 145.2,145.7 138.5,143.5" fill="#1c4719" stroke="#1c4719"/>
<polygon points="147.8,142.9 154.4,145.1 151.8,147.9 145.2,145.7" fill="#1e4718" stroke="#1e4718"/>
<polygon points="154.4,145.1 160.9,147.4 158.4,150.1 151.8,147.9" fill="#214817" stroke="#214817"/>
<polygon points="160.9,147.4 167.4,149.7 164.9,152.4 158.4,150.1" fill="#244816" stroke="#244816"/>
<polygon points="167.4,149.7 173.8,152 171.3,154.7 164.9,152.4" fill="#274916" stroke="#274916"/>
<polygon points="173.8,152 180.2,154.4 177.7,157.1 171.3,154.7" fill="#2a4716" stroke="#2a4716"/>
<polygon points="180.2,154.4 186.5,156.8 184,159.5 177.7,157.1" fill="#2e4616" stroke="#2e4616"/>
<polygon points="186.5,156.8 192.7,159.3 190.3,161.9 184,159.5" fill="#324416" stroke="#324416"/>
<polygon points="192.7,159.3 198.9,161.7 196.5,164.4 190.3,161.9" fill="#354016" stroke="#354016"/>
<polygon points="198.9,161.7 205.1,164.3 202.7,167 196.5,164.4" fill="#383c14" stroke="#383c14"/>
<polygon points="205.1,164.3 211.2,166.9 208.8,169.6 202.7,167" fill="#3b3713" stroke="#3b3713"/>
<polygon points="211.2,166.9 217.2,169.5 214.8,172.2 208.8,169.6" fill="#3c3312" stroke="#3c3312"/>
<polygon points="68.3,124.5 75.6,126.2 72.1,129.2 64.7,127.5" fill="#0e371f" stroke="#0e371f"/>
<polygon points="75.6,126.2 82.8,128 79.4,130.9 72.1,129.2" fill="#0f391e" stroke="#0f391e"/>
<polygon points="82.8,128 90,129.8 86.7,132.7 79.4,130.9" fill="#103b1d" stroke="#103b1d"/>
<polygon points="90,129.8 97.1,131.6 93.9,134.5 86.7,132.7" fill="#123d1c" stroke="#123d1c"/>
<polygon points="97.1,131.6 104.1,133.5 101,136.3 93.9,134.5" fill="#133e1b" stroke="#133e1b"/>
<polygon points="104.1,133.5 111.1,135.4 108.1,138.2 101,136.3" fill="#14401a" stroke="#14401a"/>
<polygon points="111.1,135.4 118,137.4 115.1,140.2 108.1,138.2" fill="#16411a" stroke="#16411a"/>
<polygon points="118,137.4 124.9,139.4 122,142.2 115.1,140.2" fill="#184319" stroke="#184319"/>
<polygon points="124.9,139.4 131.7,141.4 128.9,144.2 122,142.2" fill="#194419" stroke="#194419"/>
<polygon points="131.7,141.4 138.5,143.5 135.7,146.3 128.9,144.2" fill="#1b4518" stroke="#1b4518"/>
<polygon points="138.5,143.5 145.2,145.7 142.4,148.4 135.7,146.3" fill="#1e4617" stroke="#1e4617"/>
<polygon points="145.2,145.7 151.8,147.9 149.1,150.6 142.4,148.4" fill="#204617" stroke="#204617"/>
<polygon points="151.8,147.9 158.4,150.1 155.7,152.8 149.1,150.6" fill="#234716" stroke="#234716"/>
<polygon points="158.4,150.1 164.9,152.4 162.3,155.1 155.7,152.8" fill="#264715" stroke="#264715"/>
<polygon points="164.9,152.4 171.3,154.7 168.8,157.4 162.3,155.1" fill="#2a4615" stroke="#2a4615"/>
<polygon points="171.3,154.7 177.7,157.1 175.2,159.7 168.8,157.4" fill="#2d4416" stroke="#2d4416"/>
<polygon points="177.7,157.1 184,159.5 181.6,162.1 175.2,159.7" fill="#304316" stroke="#304316"/>
<polygon points="184,159.5 190.3,161.9 187.9,164.6 181.6,162.1" fill="#344015" stroke="#344015"/>
<polygon points="190.3,161.9 196.5,164.4 194.1,167.1 187.9,164.6" fill="#363b14" stroke="#363b14"/>
<polygon points="196.5,164.4 202.7,167 200.3,169.6 194.1,167.1" fill="#393713" stroke="#393713"/>
<polygon points="202.7,167 208.8,169.6 206.4,172.2 200.3,169.6" fill="#3b3312" stroke="#3b3312"/>
<polygon points="208.8,169.6 214.8,172.2 212.4,174.8 206.4,172.2" fill="#3c3011" stroke="#3c3011"/>
<polygon points="64.7,127.5 72.1,129.2 68.5,132.2 61,130.6" fill="#0f371c" stroke="#0f371c"/>
<polygon points="72.1,129.2 79.4,130.9 75.9,133.9 68.5,132.2" fill="#10391b" stroke="#10391b"/>
<polygon points="79.4,130.9 86.7,132.7 83.3,135.6 75.9,133.9" fill="#113b1a" stroke="#113b1a"/>
<polygon points="86.7,132.7 93.9,134.5 90.6,137.4 83.3,135.6" fill="#133d1a" stroke="#133d1a"/>
<polygon points="93.9,134.5 101,136.3 97.8,139.2 90.6,137.4" fill="#143e19" stroke="#143e19"/>
<polygon points="101,136.3 108.1,138.2 104.9,141.1 97.8,139.2" fill="#163f19" stroke="#163f19"/>
<polygon points="108.1,138.2 115.1,140.2 112,143 104.9,141.1" fill="#174118" stroke="#174118"/>
<polygon points="115.1,140.2 122,142.2 119,145 112,143" fill="#194218" stroke="#194218"/>
<polygon points="122,142.2 128.9,144.2 125.9,147 119,145" fill="#1b4417" stroke="#1b4417"/>
<polygon points="128.9,144.2 135.7,146.3 132.8,149 125.9,147" fill="#1d4417" stroke="#1d4417"/>
<polygon points="135.7,146.3 142.4,148.4 139.6,151.1 132.8,149" fill="#204516" stroke="#204516"/>
<polygon points="142.4,148.4 149.1,150.6 146.3,153.3 139.6,151.1" fill="#234515" stroke="#234515"/>
<polygon points="149.1,150.6 155.7,152.8 153,155.5 146.3,153.3" fill="#264615" stroke="#264615"/>
<polygon points="155.7,152.8 162.3,155.1 159.6,157.7 153,155.5" fill="#294515" stroke="#294515"/>
<polygon points="162.3,155.1 168.8,157.4 166.1,160 159.6,157.7" fill="#2c4315" stroke="#2c4315"/>
<polygon points="168.8,157.4 175.2,159.7 172.6,162.4 166.1,160" fill="#2f4215" stroke="#2f4215"/>
<polygon points="175.2,159.7 181.6,162.1 179,164.8 172.6,162.4" fill="#323f15" stroke="#323f15"/>
<polygon points="181.6,162.1 187.9,164.6 185.3,167.2 179,164.8" fill="#353b14" stroke="#353b14"/>
<polygon points="187.9,164.6 194.1,167.1 191.6,169.7 185.3,167.2" fill="#383613" stroke="#383613"/>
<polygon points="194.1,167.1 200.3,169.6 197.8,172.2 191.6,169.7" fill="#3a3312" stroke="#3a3312"/>
<polygon points="200.3,169.6 206.4,172.2 203.9,174.8 197.8,172.2" fill="#3b3011" stroke="#3b3011"/>
<polygon points="206.4,172.2 212.4,174.8 210,177.5 203.9,174.8" fill="#3c2d10" stroke="#3c2d10"/>
<polygon points="61,130.6 68.5,132.2 64.8,135.3 57.2,133.7" fill="#103719" stroke="#103719"/>
<polygon points="68.5,132.2 75.9,133.9 72.3,136.9 64.8,135.3" fill="#113919" stroke="#113919"/>
<polygon points="75.9,133.9 83.3,135.6 79.8,138.6 72.3,136.9" fill="#123a18" stroke="#123a18"/>
<polygon points="83.3,135.6 90.6,137.4 87.1,140.3 79.8,138.6" fill="#143c18" stroke="#143c18"/>
<polygon points="90.6,137.4 97.8,139.2 94.4,142.1 87.1,140.3" fill="#153d18" stroke="#153d18"/>
<polygon points="97.8,139.2 104.9,141.1 101.7,143.9 94.4,142.1" fill="#173f17" stroke="#173f17"/>
<polygon points="104.9,141.1 112,143 108.8,145.8 101.7,143.9" fill="#194017" stroke="#194017"/>
<polygon points="112,143 119,145 115.9,147.8 108.8,145.8" fill="#1b4216" stroke="#1b4216"/>
<polygon points="119,145 125.9,147 122.9,149.7 115.9,147.8" fill="#1d4216" stroke="#1d4216"/>
<polygon points="125.9,147 132.8,149 129.8,151.8 122.9,149.7" fill="#204315" stroke="#204315"/>
<polygon points="132.8,149 139.6,151.1 136.7,153.8 129.8,151.8" fill="#224415" stroke="#224415"/>
<polygon points="139.6,151.1 146.3,153.3 143.5,156 136.7,153.8" fill="#254414" stroke="#254414"/>
<polygon points="146.3,153.3 153,155.5 150.2,158.2 143.5,156" fill="#284315" stroke="#284315"/>
<polygon points="153,155.5 159.6,157.7 156.9,160.4 150.2,158.2" fill="#2b4215" stroke="#2b4215"/>
<polygon points="159.6,157.7 166.1,160 163.4,162.7 156.9,160.4" fill="#2e4015" stroke="#2e4015"/>
<polygon points="166.1,160 172.6,162.4 169.9,165 163.4,162.7" fill="#313e15" stroke="#313e15"/>
<polygon points="172.6,162.4 179,164.8 176.4,167.4 169.9,165" fill="#343a14" stroke="#343a14"/>
<polygon points="179,164.8 185.3,167.2 182.7,169.8 176.4,167.4" fill="#373613" stroke="#373613"/>
<polygon points="185.3,167.2 191.6,169.7 189,172.3 182.7,169.8" fill="#393212" stroke="#393212"/>
<polygon points="191.6,169.7 197.8,172.2 195.2,174.8 189,172.3" fill="#3a3011" stroke="#3a3011"/>
<polygon points="197.8,172.2 203.9,174.8 201.4,177.4 195.2,174.8" fill="#3b2d10" stroke="#3b2d10"/>
<polygon points="203.9,174.8 210,177.5 207.5,180 201.4,177.4" fill="#3c2b0f" stroke="#3c2b0f"/>
<polygon points="57.2,133.7 64.8,135.3 61,138.3 53.3,136.8" fill="#113717" stroke="#113717"/>
<polygon points="64.8,135.3 72.3,136.9 68.6,139.9 61,138.3" fill="#123817" stroke="#123817"/>
<polygon points="72.3,136.9 79.8,138.6 76.2,141.6 68.6,139.9" fill="#143a17" stroke="#143a17"/>
<polygon points="79.8,138.6 87.1,140.3 83.6,143.2 76.2,141.6" fill="#153b16" stroke="#153b16"/>
<polygon points="87.1,140.3 94.4,142.1 91,145 83.6,143.2" fill="#173d16" stroke="#173d16"/>
<polygon points="94.4,142.1 101.7,143.9 98.3,146.8 91,145" fill="#183e16" stroke="#183e16"/>
<polygon points="101.7,143.9 108.8,145.8 105.6,148.6 98.3,146.8" fill="#1b4015" stroke="#1b4015"/>
<polygon points="108.8,145.8 115.9,147.8 112.7,150.5 105.6,148.6" fill="#1d4015" stroke="#1d4015"/>
<polygon points="115.9,147.8 122.9,149.7 119.8,152.5 112.7,150.5" fill="#1f4115" stroke="#1f4115"/>
<polygon points="122.9,149.7 129.8,151.8 126.8,154.5 119.8,152.5" fill="#224214" stroke="#224214"/>
<polygon points="129.8,151.8 136.7,153.8 133.7,156.5 126.8,154.5" fill="#254214" stroke="#254214"/>
<polygon points="136.7,153.8 143.5,156 140.6,158.7 133.7,156.5" fill="#284114" stroke="#284114"/>
<polygon points="143.5,156 150.2,158.2 147.4,160.8 140.6,158.7" fill="#2b4014" stroke="#2b4014"/>
<polygon points="150.2,158.2 156.9,160.4 154.1,163 147.4,160.8" fill="#2e3f15" stroke="#2e3f15"/>
<polygon points="156.9,160.4 163.4,162.7 160.7,165.3 154.1,163" fill="#303d14" stroke="#303d14"/>
<polygon points="163.4,162.7 169.9,165 167.2,167.6 160.7,165.3" fill="#333913" stroke="#333913"/>
<polygon points="169.9,165 176.4,167.4 173.7,170 167.2,167.6" fill="#353512" stroke="#353512"/>
<polygon points="176.4,167.4 182.7,169.8 180.1,172.4 173.7,170" fill="#373211" stroke="#373211"/>
<polygon points="182.7,169.8 189,172.3 186.4,174.9 180.1,172.4" fill="#392f11" stroke="#392f11"/>
<polygon points="189,172.3 195.2,174.8 192.7,177.4 186.4,174.9" fill="#3a2c10" stroke="#3a2c10"/>
<polygon points="195.2,174.8 201.4,177.4 198.8,180 192.7,177.4" fill="#3b2b0f" stroke="#3b2b0f"/>
<polygon points="201.4,177.4 207.5,180 204.9,182.6 198.8,180" fill="#3b290e" stroke="#3b290e"/>
<polygon points="53.3,136.8 61,138.3 57.1,141.4 49.3,139.9" fill="#123615" stroke="#123615"/>
<polygon points="61,138.3 68.6,139.9 64.8,142.9 57.1,141.4" fill="#133715" stroke="#133715"/>
<polygon points="68.6,139.9 76.2,141.6 72.5,144.5 64.8,142.9" fill="#153915" stroke="#153915"/>
<polygon points="76.2,141.6 83.6,143.2 80,146.2 72.5,144.5" fill="#163b15" stroke="#163b15"/>
<polygon points="83.6,143.2 91,145 87.5,147.9 80,146.2" fill="#183c15" stroke="#183c15"/>
<polygon points="91,145 98.3,146.8 94.9,149.6 87.5,147.9" fill="#1a3d14" stroke="#1a3d14"/>
<polygon points="98.3,146.8 105.6,148.6 102.2,151.5 94.9,149.6" fill="#1d3e14" stroke="#1d3e14"/>
<polygon points="105.6,148.6 112.7,150.5 109.5,153.3 102.2,151.5" fill="#1f3f14" stroke="#1f3f14"/>
<polygon points="112.7,150.5 119.8,152.5 116.6,155.2 109.5,153.3" fill="#224013" stroke="#224013"/>
<polygon points="119.8,152.5 126.8,154.5 123.7,157.2 116.6,155.2" fill="#244013" stroke="#244013"/>
<polygon points="126.8,154.5 133.7,156.5 130.7,159.2 123.7,157.2" fill="#273f14" stroke="#273f14"/>
<polygon points="133.7,156.5 140.6,158.7 137.6,161.3 130.7,159.2" fill="#2a3e14" stroke="#2a3e14"/>
<polygon points="140.6,158.7 147.4,160.8 144.4,163.5 137.6,161.3" fill="#2d3d14" stroke="#2d3d14"/>
<polygon points="147.4,160.8 154.1,163 151.2,165.6 144.4,163.5" fill="#303b14" stroke="#303b14"/>
<polygon points="154.1,163 160.7,165.3 157.9,167.9 151.2,165.6" fill="#323813" stroke="#323813"/>
<polygon points="160.7,165.3 167.2,167.6 164.4,170.2 157.9,167.9" fill="#343412" stroke="#343412"/>
<polygon points="167.2,167.6 173.7,170 171,172.5 164.4,170.2" fill="#363111" stroke="#363111"/>
<polygon points="173.7,170 180.1,172.4 177.4,174.9 171,172.5" fill="#382f11" stroke="#382f11"/>
<polygon points="180.1,172.4 186.4,174.9 183.7,177.4 177.4,174.9" fill="#392c10" stroke="#392c10"/>
<polygon points="186.4,174.9 192.7,177.4 190,179.9 183.7,177.4" fill="#3a2a0f" stroke="#3a2a0f"/>
<polygon points="192.7,177.4 198.8,180 196.2,182.5 190,179.9" fill="#3a290e" stroke="#3a290e"/>
<polygon points="198.8,180 204.9,182.6 202.3,185.1 196.2,182.5" fill="#3b270d" stroke="#3b270d"/>
<polygon points="49.3,139.9 57.1,141.4 53.1,144.5 45.2,143" fill="#133514" stroke="#133514"/>
<polygon points="57.1,141.4 64.8,142.9 60.9,146 53.1,144.5" fill="#153714" stroke="#153714"/>
<polygon points="64.8,142.9 72.5,144.5 68.7,147.5 60.9,146" fill="#163813" stroke="#163813"/>
<polygon points="72.5,144.5 80,146.2 76.3,149.1 68.7,147.5" fill="#183a13" stroke="#183a13"/>
<polygon points="80,146.2 87.5,147.9 83.9,150.8 76.3,149.1" fill="#1a3b13" stroke="#1a3b13"/>
<polygon points="87.5,147.9 94.9,149.6 91.4,152.5 83.9,150.8" fill="#1c3c13" stroke="#1c3c13"/>
<polygon points="94.9,149.6 102.2,151.5 98.8,154.3 91.4,152.5" fill="#1f3d13" stroke="#1f3d13"/>
<polygon points="102.2,151.5 109.5,153.3 106.1,156.1 98.8,154.3" fill="#213e12" stroke="#213e12"/>
<polygon points="109.5,153.3 116.6,155.2 113.3,158 106.1,156.1" fill="#243e13" stroke="#243e13"/>
<polygon points="116.6,155.2 123.7,157.2 120.5,159.9 113.3,158" fill="#273d13" stroke="#273d13"/>
<polygon points="123.7,157.2 130.7,159.2 127.6,161.9 120.5,159.9" fill="#2a3c13" stroke="#2a3c13"/>
<polygon points="130.7,159.2 137.6,161.3 134.5,164 127.6,161.9" fill="#2c3c14" stroke="#2c3c14"/>
<polygon points="137.6,161.3 144.4,163.5 141.4,166.1 134.5,164" fill="#2f3913" stroke="#2f3913"/>
<polygon points="144.4,163.5 151.2,165.6 148.2,168.2 141.4,166.1" fill="#313612" stroke="#313612"/>
<polygon points="151.2,165.6 157.9,167.9 155,170.5 148.2,168.2" fill="#343312" stroke="#343312"/>
<polygon points="157.9,167.9 164.4,170.2 161.6,172.7 155,170.5" fill="#363011" stroke="#363011"/>
<polygon points="164.4,170.2 171,172.5 168.2,175.1 161.6,172.7" fill="#372e10" stroke="#372e10"/>
<polygon points="171,172.5 177.4,174.9 174.6,177.5 168.2,175.1" fill="#382c10" stroke="#382c10"/>
<polygon points="177.4,174.9 183.7,177.4 181,179.9 174.6,177.5" fill="#392a0f" stroke="#392a0f"/>
<polygon points="183.7,177.4 190,179.9 187.3,182.4 181,179.9" fill="#39280e" stroke="#39280e"/>
<polygon points="190,179.9 196.2,182.5 193.5,185 187.3,182.4" fill="#3a270d" stroke="#3a270d"/>
<polygon points="196.2,182.5 202.3,185.1 199.7,187.6 193.5,185" fill="#3a250d" stroke="#3a250d"/>
<polygon points="45.2,143 53.1,144.5 49,147.6 41,146.2" fill="#143412" stroke="#143412"/>
<polygon points="53.1,144.5 60.9,146 57,149 49,147.6" fill="#163512" stroke="#163512"/>
<polygon points="60.9,146 68.7,147.5 64.8,150.5 57,149" fill="#183712" stroke="#183712"/>
<polygon points="68.7,147.5 76.3,149.1 72.5,152.1 64.8,150.5" fill="#1a3812" stroke="#1a3812"/>
<polygon points="76.3,149.1 83.9,150.8 80.2,153.7 72.5,152.1" fill="#1c3912" stroke="#1c3912"/>
<polygon points="83.9,150.8 91.4,152.5 87.8,155.4 80.2,153.7" fill="#1f3b12" stroke="#1f3b12"/>
<polygon points="91.4,152.5 98.8,154.3 95.3,157.1 87.8,155.4" fill="#213b12" stroke="#213b12"/>
<polygon points="98.8,154.3 106.1,156.1 102.7,158.9 95.3,157.1" fill="#243b12" stroke="#243b12"/>
<polygon points="106.1,156.1 113.3,158 110,160.7 102.7,158.9" fill="#263b13" stroke="#263b13"/>
<polygon points="113.3,158 120.5,159.9 117.2,162.6 110,160.7" fill="#293a13" stroke="#293a13"/>
<polygon points="120.5,159.9 127.6,161.9 124.3,164.6 117.2,162.6" fill="#2c3a13" stroke="#2c3a13"/>
<polygon points="127.6,161.9 134.5,164 131.4,166.6 124.3,164.6" fill="#2e3713" stroke="#2e3713"/>
<polygon points="134.5,164 141.4,166.1 138.4,168.7 131.4,166.6" fill="#303412" stroke="#303412"/>
<polygon points="141.4,166.1 148.2,168.2 145.2,170.8 138.4,168.7" fill="#333211" stroke="#333211"/>
<polygon points="148.2,168.2 155,170.5 152,173 145.2,170.8" fill="#352f10" stroke="#352f10"/>
<polygon points="155,170.5 161.6,172.7 158.7,175.3 152,173" fill="#362d10" stroke="#362d10"/>
<polygon points="161.6,172.7 168.2,175.1 165.3,177.6 158.7,175.3" fill="#372b0f" stroke="#372b0f"/>
<polygon points="168.2,175.1 174.6,177.5 171.8,180 165.3,177.6" fill="#38290f" stroke="#38290f"/>
<polygon points="174.6,177.5 181,179.9 178.2,182.4 171.8,180" fill="#39280e" stroke="#39280e"/>
<polygon points="181,179.9 187.3,182.4 184.6,184.9 178.2,182.4" fill="#39260d" stroke="#39260d"/>
<polygon points="187.3,182.4 193.5,185 190.8,187.4 184.6,184.9" fill="#3a250c" stroke="#3a250c"/>
<polygon points="193.5,185 199.7,187.6 197,190 190.8,187.4" fill="#3a240c" stroke="#3a240c"/>
</g>
<path d="M92,102.6 C94,102.9 100,104.1 104,104.2 C108,104.3 112.2,104.1 116,103.4 C119.8,102.7 123.8,101.4 127,100.2 C130.2,99 132.6,97.8 135,96.4 C137.4,95 140.4,92.6 141.5,91.8" fill="none" stroke="#f0f0ea" stroke-width="1.25" stroke-linecap="round"/>
<path d="M154.4,173.4 C155.2,172.8 156.7,171 159,170 C161.3,169 164.5,168.1 168,167.4 C171.5,166.7 175.3,166.2 180,165.8 C184.7,165.4 189.5,165.1 196,165 C202.5,164.9 215.2,165 219,165" fill="none" stroke="#f0f0ea" stroke-width="1.25" stroke-linecap="round"/>
<text x="112.5" y="94.5" font-size="9" text-anchor="middle" font-weight="normal" font-style="normal" fill="#fff" stroke="#fff" stroke-width="0.2">H</text>
<text x="141" y="134" font-size="9" text-anchor="middle" font-weight="normal" font-style="normal" fill="#fff" stroke="#fff" stroke-width="0.2">M</text>
<text x="192.6" y="180" font-size="9" text-anchor="middle" font-weight="normal" font-style="normal" fill="#fff" stroke="#fff" stroke-width="0.2">L</text>
<circle cx="39.8" cy="83.6" r="0.9" fill="#111"/>
<circle cx="40.1" cy="99.2" r="0.9" fill="#111"/>
<circle cx="40.5" cy="114.9" r="0.9" fill="#111"/>
<circle cx="40.9" cy="130.6" r="0.9" fill="#111"/>
<circle cx="41.3" cy="146.2" r="0.9" fill="#111"/>
<circle cx="41.6" cy="161.8" r="0.9" fill="#111"/>
<circle cx="42" cy="177.5" r="0.9" fill="#111"/>
<text x="37.2" y="83.7" font-size="6.9" text-anchor="end" font-weight="normal" font-style="normal" fill="#111" textLength="21.2" lengthAdjust="spacingAndGlyphs" stroke="#111" stroke-width="0.2">&#8722;1000</text>
<text x="37.2" y="98.9" font-size="6.9" text-anchor="end" font-weight="normal" font-style="normal" fill="#111" textLength="17.1" lengthAdjust="spacingAndGlyphs" stroke="#111" stroke-width="0.2">&#8722;900</text>
<text x="37.2" y="114.2" font-size="6.9" text-anchor="end" font-weight="normal" font-style="normal" fill="#111" textLength="17.1" lengthAdjust="spacingAndGlyphs" stroke="#111" stroke-width="0.2">&#8722;800</text>
<text x="37.2" y="129.4" font-size="6.9" text-anchor="end" font-weight="normal" font-style="normal" fill="#111" textLength="17.1" lengthAdjust="spacingAndGlyphs" stroke="#111" stroke-width="0.2">&#8722;700</text>
<text x="37.2" y="144.7" font-size="6.9" text-anchor="end" font-weight="normal" font-style="normal" fill="#111" textLength="17.1" lengthAdjust="spacingAndGlyphs" stroke="#111" stroke-width="0.2">&#8722;600</text>
<text x="37.2" y="159.9" font-size="6.9" text-anchor="end" font-weight="normal" font-style="normal" fill="#111" textLength="17.1" lengthAdjust="spacingAndGlyphs" stroke="#111" stroke-width="0.2">&#8722;500</text>
<text x="37.2" y="175.2" font-size="6.9" text-anchor="end" font-weight="normal" font-style="normal" fill="#111" textLength="17.1" lengthAdjust="spacingAndGlyphs" stroke="#111" stroke-width="0.2">&#8722;400</text>
<circle cx="73" cy="180.6" r="0.8" fill="#111"/>
<circle cx="206.4" cy="186.3" r="0.8" fill="#111"/>
<circle cx="104" cy="183.7" r="0.8" fill="#111"/>
<circle cx="215.8" cy="179.7" r="0.8" fill="#111"/>
<circle cx="135" cy="186.8" r="0.8" fill="#111"/>
<circle cx="225.2" cy="173" r="0.8" fill="#111"/>
<circle cx="166" cy="189.9" r="0.8" fill="#111"/>
<circle cx="234.6" cy="166.4" r="0.8" fill="#111"/>
<text x="40.5" y="186.9" font-size="8.2" text-anchor="middle" font-weight="normal" font-style="normal" fill="#111" transform="rotate(5 40.5 186.9)" textLength="6.7" lengthAdjust="spacingAndGlyphs" stroke="#111" stroke-width="0.15">45</text>
<text x="70.4" y="189.9" font-size="8.2" text-anchor="middle" font-weight="normal" font-style="normal" fill="#111" transform="rotate(5 70.4 189.9)" textLength="6.7" lengthAdjust="spacingAndGlyphs" stroke="#111" stroke-width="0.15">39</text>
<text x="99.8" y="193.4" font-size="8.2" text-anchor="middle" font-weight="normal" font-style="normal" fill="#111" transform="rotate(5 99.8 193.4)" textLength="6.7" lengthAdjust="spacingAndGlyphs" stroke="#111" stroke-width="0.15">33</text>
<text x="132.1" y="198.7" font-size="8.2" text-anchor="middle" font-weight="normal" font-style="normal" fill="#111" transform="rotate(5 132.1 198.7)" textLength="6.7" lengthAdjust="spacingAndGlyphs" stroke="#111" stroke-width="0.15">27</text>
<text x="161.8" y="202.4" font-size="8.2" text-anchor="middle" font-weight="normal" font-style="normal" fill="#111" transform="rotate(5 161.8 202.4)" textLength="6.7" lengthAdjust="spacingAndGlyphs" stroke="#111" stroke-width="0.15">21</text>
<text x="188.9" y="204.8" font-size="8.2" text-anchor="middle" font-weight="normal" font-style="normal" fill="#111" transform="rotate(5 188.9 204.8)" textLength="6.7" lengthAdjust="spacingAndGlyphs" stroke="#111" stroke-width="0.15">15</text>
<text x="200.9" y="201.2" font-size="8" text-anchor="middle" font-weight="normal" font-style="normal" fill="#111" transform="rotate(-4 200.9 201.2)" textLength="7" lengthAdjust="spacingAndGlyphs" stroke="#111" stroke-width="0.15">60</text>
<text x="211.6" y="193.3" font-size="8" text-anchor="middle" font-weight="normal" font-style="normal" fill="#111" transform="rotate(-4 211.6 193.3)" textLength="7" lengthAdjust="spacingAndGlyphs" stroke="#111" stroke-width="0.15">54</text>
<text x="223.8" y="186.2" font-size="8" text-anchor="middle" font-weight="normal" font-style="normal" fill="#111" transform="rotate(-4 223.8 186.2)" textLength="7" lengthAdjust="spacingAndGlyphs" stroke="#111" stroke-width="0.15">48</text>
<text x="234.8" y="178.1" font-size="8" text-anchor="middle" font-weight="normal" font-style="normal" fill="#111" transform="rotate(-4 234.8 178.1)" textLength="7" lengthAdjust="spacingAndGlyphs" stroke="#111" stroke-width="0.15">42</text>
<text x="246.6" y="169.9" font-size="8" text-anchor="middle" font-weight="normal" font-style="normal" fill="#111" transform="rotate(-4 246.6 169.9)" textLength="7" lengthAdjust="spacingAndGlyphs" stroke="#111" stroke-width="0.15">36</text>
<text x="253.6" y="163.2" font-size="8" text-anchor="middle" font-weight="normal" font-style="normal" fill="#111" transform="rotate(-4 253.6 163.2)" textLength="7" lengthAdjust="spacingAndGlyphs" stroke="#111" stroke-width="0.15">30</text>
<text x="63.8" y="209" font-size="9.4" text-anchor="start" font-weight="bold" font-style="normal" fill="#111" textLength="38.4" lengthAdjust="spacingAndGlyphs">Feed speed</text>
<text x="104.6" y="209" font-size="9.2" text-anchor="start" font-weight="normal" font-style="normal" fill="#222" textLength="36.6" lengthAdjust="spacingAndGlyphs" stroke="#222" stroke-width="0.15">(mm/min)</text>
<text x="231" y="188.4" font-size="8.8" text-anchor="start" font-weight="bold" font-style="normal" fill="#111" textLength="47.6" lengthAdjust="spacingAndGlyphs">Spindle speed</text>
<text x="241.6" y="199.4" font-size="8.6" text-anchor="start" font-weight="normal" font-style="normal" fill="#222" textLength="25.4" lengthAdjust="spacingAndGlyphs" stroke="#222" stroke-width="0.15">(r/min)</text>
<text x="16.4" y="193.5" font-size="9.1" text-anchor="start" font-weight="bold" font-style="normal" fill="#111" transform="rotate(-90 16.4 193.5)" textLength="76.7" lengthAdjust="spacingAndGlyphs">Residual stress &#963;</text>
<text x="16.2" y="111.6" font-size="7.6" text-anchor="start" font-weight="normal" font-style="normal" fill="#555" transform="rotate(-90 16.2 111.6)" textLength="25.2" lengthAdjust="spacingAndGlyphs">(MPa)</text>
<text x="130.2" y="58.2" font-size="12.6" text-anchor="start" font-weight="normal" font-style="normal" fill="#111" stroke="#111" stroke-width="0.25"><tspan font-style="italic" font-weight="bold" stroke="none">&#952;</tspan> = 55&#176;</text>
<text x="24" y="57.6" font-size="9.6" text-anchor="start" font-weight="bold" font-style="normal" fill="#111">a</text>
<defs><linearGradient id="cba" x1="0" y1="0" x2="0" y2="1"><stop offset="0" stop-color="#8a1408"/><stop offset="0.1" stop-color="#d02c10"/><stop offset="0.24" stop-color="#8aa820"/><stop offset="0.4" stop-color="#28d028"/><stop offset="0.6" stop-color="#1cbc40"/><stop offset="0.78" stop-color="#106a98"/><stop offset="0.9" stop-color="#0e2cb8"/><stop offset="1" stop-color="#0c1670"/></linearGradient></defs>
<rect x="32.4" y="16.9" width="4" height="23.2" fill="url(#cba)" stroke="#333" stroke-width="0.8"/>
<text x="38.4" y="21.2" font-size="7.4" text-anchor="start" font-weight="normal" font-style="normal" fill="#e8202a" textLength="22" lengthAdjust="spacingAndGlyphs" stroke="#e8202a" stroke-width="0.25">&#8722;373.6</text>
<text x="38.4" y="41.3" font-size="7.4" text-anchor="start" font-weight="normal" font-style="normal" fill="#2a1ce0" textLength="22" lengthAdjust="spacingAndGlyphs" stroke="#2a1ce0" stroke-width="0.25">&#8722;933.5</text>
</g>
<g id="plot-b">
<polygon points="292.4,50 368,38 515.6,43.6 510.8,164.8 368,153.7 296.8,184.6" fill="#fff" stroke="none"/>
<line x1="292.4" y1="50" x2="368" y2="38" stroke="#2a2a2a" stroke-width="0.7"/>
<line x1="368" y1="38" x2="515.6" y2="43.6" stroke="#2a2a2a" stroke-width="0.7"/>
<line x1="292.4" y1="50" x2="296.8" y2="184.6" stroke="#2a2a2a" stroke-width="0.7"/>
<line x1="368" y1="38" x2="368" y2="153.7" stroke="#2a2a2a" stroke-width="0.7"/>
<line x1="515.6" y1="43.6" x2="510.8" y2="164.8" stroke="#2a2a2a" stroke-width="0.7"/>
<line x1="293.5" y1="84.4" x2="368" y2="68.2" stroke="#2a2a2a" stroke-width="0.7"/>
<line x1="368" y1="68.2" x2="514.4" y2="74" stroke="#2a2a2a" stroke-width="0.7"/>
<line x1="294" y1="98.7" x2="368" y2="80.4" stroke="#2a2a2a" stroke-width="0.7"/>
<line x1="368" y1="80.4" x2="513.9" y2="87" stroke="#2a2a2a" stroke-width="0.7"/>
<line x1="294.5" y1="113" x2="368" y2="92.6" stroke="#2a2a2a" stroke-width="0.7"/>
<line x1="368" y1="92.6" x2="513.4" y2="99.9" stroke="#2a2a2a" stroke-width="0.7"/>
<line x1="294.9" y1="127.3" x2="368" y2="104.8" stroke="#2a2a2a" stroke-width="0.7"/>
<line x1="368" y1="104.8" x2="512.9" y2="112.9" stroke="#2a2a2a" stroke-width="0.7"/>
<line x1="295.4" y1="141.7" x2="368" y2="117.1" stroke="#2a2a2a" stroke-width="0.7"/>
<line x1="368" y1="117.1" x2="512.3" y2="125.9" stroke="#2a2a2a" stroke-width="0.7"/>
<line x1="295.9" y1="156" x2="368" y2="129.3" stroke="#2a2a2a" stroke-width="0.7"/>
<line x1="368" y1="129.3" x2="511.8" y2="138.9" stroke="#2a2a2a" stroke-width="0.7"/>
<line x1="296.3" y1="170.3" x2="368" y2="141.5" stroke="#2a2a2a" stroke-width="0.7"/>
<line x1="368" y1="141.5" x2="511.3" y2="151.8" stroke="#2a2a2a" stroke-width="0.7"/>
<line x1="296.8" y1="184.6" x2="368" y2="153.7" stroke="#2a2a2a" stroke-width="0.7"/>
<line x1="368" y1="153.7" x2="510.8" y2="164.8" stroke="#2a2a2a" stroke-width="0.7"/>
<line x1="308.4" y1="81.2" x2="311" y2="178.4" stroke="#2a2a2a" stroke-width="0.7"/>
<line x1="397.3" y1="69.4" x2="396.6" y2="155.9" stroke="#2a2a2a" stroke-width="0.7"/>
<line x1="323.3" y1="77.9" x2="325.3" y2="172.2" stroke="#2a2a2a" stroke-width="0.7"/>
<line x1="426.6" y1="70.5" x2="425.1" y2="158.1" stroke="#2a2a2a" stroke-width="0.7"/>
<line x1="338.2" y1="74.7" x2="339.5" y2="166.1" stroke="#2a2a2a" stroke-width="0.7"/>
<line x1="455.8" y1="71.7" x2="453.7" y2="160.4" stroke="#2a2a2a" stroke-width="0.7"/>
<line x1="353.1" y1="71.4" x2="353.8" y2="159.9" stroke="#2a2a2a" stroke-width="0.7"/>
<line x1="485.1" y1="72.8" x2="482.2" y2="162.6" stroke="#2a2a2a" stroke-width="0.7"/>
<polygon points="296.8,184.6 461.7,200.9 510.8,164.8 368,153.7" fill="#f5f10a"/>
<path d="M322.7,172.5 C327.6,171.8 342.2,169.6 352,168 C361.8,166.4 376.7,163.6 381.6,162.7" fill="none" stroke="#d6ea40" stroke-width="0.8" stroke-linecap="round"/>
<path d="M330,182.4 C333.2,181.8 342,180.1 349,179 C356,177.9 363.8,176.8 372,175.6 C380.2,174.4 393.7,172.5 398,171.9" fill="none" stroke="#cfe63e" stroke-width="0.8" stroke-linecap="round"/>
<path d="M371.8,184 C375.8,183.6 387.8,182.4 396,181.6 C404.2,180.8 416.8,179.4 421,179" fill="none" stroke="#cfe63e" stroke-width="0.8" stroke-linecap="round"/>
<line x1="296.8" y1="184.6" x2="461.7" y2="200.9" stroke="#222" stroke-width="0.8"/>
<line x1="461.7" y1="200.9" x2="510.8" y2="164.8" stroke="#222" stroke-width="0.8"/>
<polygon points="368,71.6 376.1,74.1 384.1,76.7 391.9,79.3 399.5,81.8 407,84.4 414.4,86.9 421.6,89.5 428.7,92.1 435.6,94.6 442.4,97.2 449,99.8 455.5,102.4 461.8,105 468,107.6 474,110.2 479.9,112.8 485.6,115.4 491.2,118 496.6,120.6 501.9,123.2 507,125.8 512,128.4 509.9,131.4 507.7,134.5 505.6,137.5 503.4,140.5 501.2,143.5 499,146.4 496.8,149.4 494.5,152.4 492.3,155.3 490,158.3 487.7,161.2 485.4,164.1 483.1,167 480.8,169.9 478.5,172.8 476.1,175.7 473.7,178.6 471.4,181.4 469,184.3 466.6,187.1 464.1,190 461.7,192.8 457.8,191.1 453.6,189.3 449,187.4 444.1,185.4 438.9,183.4 433.2,181.3 427.3,179.2 420.9,176.9 414.3,174.6 407.2,172.2 399.9,169.8 392.1,167.2 384.1,164.6 375.6,161.9 366.9,159.2 357.7,156.3 348.3,153.4 338.4,150.4 328.2,147.4 317.7,144.3 306.8,141.1 295.6,137.8 299.7,134.7 303.7,131.7 307.6,128.6 311.5,125.6 315.3,122.5 319,119.5 322.6,116.4 326.2,113.4 329.7,110.4 333.1,107.4 336.4,104.3 339.7,101.3 342.8,98.3 345.9,95.3 349,92.4 351.9,89.4 354.8,86.4 357.6,83.4 360.3,80.5 362.9,77.5 365.5,74.5" fill="#0f3d26"/>
<g stroke-width="1.1" stroke-linejoin="round">
<polygon points="368,71.6 376.1,74.1 373.7,77.1 365.5,74.5" fill="#0a1349" stroke="#0a1349"/>
<polygon points="376.1,74.1 384.1,76.7 381.8,79.7 373.7,77.1" fill="#0a144b" stroke="#0a144b"/>
<polygon points="384.1,76.7 391.9,79.3 389.7,82.3 381.8,79.7" fill="#0b164c" stroke="#0b164c"/>
<polygon points="391.9,79.3 399.5,81.8 397.4,84.9 389.7,82.3" fill="#0b184d" stroke="#0b184d"/>
<polygon points="399.5,81.8 407,84.4 405,87.5 397.4,84.9" fill="#0b1b4d" stroke="#0b1b4d"/>
<polygon points="407,84.4 414.4,86.9 412.5,90.1 405,87.5" fill="#0c1e4e" stroke="#0c1e4e"/>
<polygon points="414.4,86.9 421.6,89.5 419.7,92.7 412.5,90.1" fill="#0c224e" stroke="#0c224e"/>
<polygon points="421.6,89.5 428.7,92.1 426.8,95.2 419.7,92.7" fill="#0c264e" stroke="#0c264e"/>
<polygon points="428.7,92.1 435.6,94.6 433.8,97.8 426.8,95.2" fill="#0c2b4d" stroke="#0c2b4d"/>
<polygon points="435.6,94.6 442.4,97.2 440.6,100.4 433.8,97.8" fill="#0d304c" stroke="#0d304c"/>
<polygon points="442.4,97.2 449,99.8 447.2,103 440.6,100.4" fill="#0d3649" stroke="#0d3649"/>
<polygon points="449,99.8 455.5,102.4 453.7,105.6 447.2,103" fill="#0e3b47" stroke="#0e3b47"/>
<polygon points="455.5,102.4 461.8,105 460,108.2 453.7,105.6" fill="#0e3f42" stroke="#0e3f42"/>
<polygon points="461.8,105 468,107.6 466.2,110.8 460,108.2" fill="#0f423d" stroke="#0f423d"/>
<polygon points="468,107.6 474,110.2 472.2,113.3 466.2,110.8" fill="#104537" stroke="#104537"/>
<polygon points="474,110.2 479.9,112.8 478.1,115.9 472.2,113.3" fill="#114632" stroke="#114632"/>
<polygon points="479.9,112.8 485.6,115.4 483.8,118.5 478.1,115.9" fill="#12472d" stroke="#12472d"/>
<polygon points="485.6,115.4 491.2,118 489.3,121.1 483.8,118.5" fill="#144a29" stroke="#144a29"/>
<polygon points="491.2,118 496.6,120.6 494.7,123.7 489.3,121.1" fill="#164e25" stroke="#164e25"/>
<polygon points="496.6,120.6 501.9,123.2 499.9,126.3 494.7,123.7" fill="#195122" stroke="#195122"/>
<polygon points="501.9,123.2 507,125.8 505,128.8 499.9,126.3" fill="#1e5420" stroke="#1e5420"/>
<polygon points="507,125.8 512,128.4 509.9,131.4 505,128.8" fill="#22561d" stroke="#22561d"/>
<polygon points="365.5,74.5 373.7,77.1 371.3,80.1 362.9,77.5" fill="#0a144a" stroke="#0a144a"/>
<polygon points="373.7,77.1 381.8,79.7 379.4,82.8 371.3,80.1" fill="#0b154b" stroke="#0b154b"/>
<polygon points="381.8,79.7 389.7,82.3 387.4,85.4 379.4,82.8" fill="#0b174c" stroke="#0b174c"/>
<polygon points="389.7,82.3 397.4,84.9 395.3,88 387.4,85.4" fill="#0b1a4c" stroke="#0b1a4c"/>
<polygon points="397.4,84.9 405,87.5 402.9,90.6 395.3,88" fill="#0b1c4d" stroke="#0b1c4d"/>
<polygon points="405,87.5 412.5,90.1 410.4,93.2 402.9,90.6" fill="#0c204d" stroke="#0c204d"/>
<polygon points="412.5,90.1 419.7,92.7 417.8,95.8 410.4,93.2" fill="#0c244d" stroke="#0c244d"/>
<polygon points="419.7,92.7 426.8,95.2 424.9,98.4 417.8,95.8" fill="#0c294d" stroke="#0c294d"/>
<polygon points="426.8,95.2 433.8,97.8 431.9,101 424.9,98.4" fill="#0c2e4b" stroke="#0c2e4b"/>
<polygon points="433.8,97.8 440.6,100.4 438.8,103.6 431.9,101" fill="#0d3349" stroke="#0d3349"/>
<polygon points="440.6,100.4 447.2,103 445.4,106.2 438.8,103.6" fill="#0d3847" stroke="#0d3847"/>
<polygon points="447.2,103 453.7,105.6 451.9,108.8 445.4,106.2" fill="#0e3d44" stroke="#0e3d44"/>
<polygon points="453.7,105.6 460,108.2 458.3,111.4 451.9,108.8" fill="#0e403e" stroke="#0e403e"/>
<polygon points="460,108.2 466.2,110.8 464.4,113.9 458.3,111.4" fill="#0f4339" stroke="#0f4339"/>
<polygon points="466.2,110.8 472.2,113.3 470.4,116.5 464.4,113.9" fill="#104434" stroke="#104434"/>
<polygon points="472.2,113.3 478.1,115.9 476.3,119.1 470.4,116.5" fill="#11452f" stroke="#11452f"/>
<polygon points="478.1,115.9 483.8,118.5 481.9,121.7 476.3,119.1" fill="#12472a" stroke="#12472a"/>
<polygon points="483.8,118.5 489.3,121.1 487.4,124.2 481.9,121.7" fill="#144a27" stroke="#144a27"/>
<polygon points="489.3,121.1 494.7,123.7 492.7,126.8 487.4,124.2" fill="#174e23" stroke="#174e23"/>
<polygon points="494.7,123.7 499.9,126.3 497.9,129.3 492.7,126.8" fill="#1a5021" stroke="#1a5021"/>
<polygon points="499.9,126.3 505,128.8 502.9,131.9 497.9,129.3" fill="#1e521e" stroke="#1e521e"/>
<polygon points="505,128.8 509.9,131.4 507.7,134.5 502.9,131.9" fill="#23541c" stroke="#23541c"/>
<polygon points="362.9,77.5 371.3,80.1 368.7,83.1 360.3,80.5" fill="#0a154a" stroke="#0a154a"/>
<polygon points="371.3,80.1 379.4,82.8 377,85.8 368.7,83.1" fill="#0b164b" stroke="#0b164b"/>
<polygon points="379.4,82.8 387.4,85.4 385.1,88.4 377,85.8" fill="#0b194b" stroke="#0b194b"/>
<polygon points="387.4,85.4 395.3,88 393.1,91.1 385.1,88.4" fill="#0b1b4c" stroke="#0b1b4c"/>
<polygon points="395.3,88 402.9,90.6 400.8,93.7 393.1,91.1" fill="#0b1e4c" stroke="#0b1e4c"/>
<polygon points="402.9,90.6 410.4,93.2 408.4,96.4 400.8,93.7" fill="#0b224c" stroke="#0b224c"/>
<polygon points="410.4,93.2 417.8,95.8 415.8,99 408.4,96.4" fill="#0b274c" stroke="#0b274c"/>
<polygon points="417.8,95.8 424.9,98.4 423,101.6 415.8,99" fill="#0c2b4b" stroke="#0c2b4b"/>
<polygon points="424.9,98.4 431.9,101 430,104.2 423,101.6" fill="#0c3149" stroke="#0c3149"/>
<polygon points="431.9,101 438.8,103.6 436.9,106.8 430,104.2" fill="#0d3547" stroke="#0d3547"/>
<polygon points="438.8,103.6 445.4,106.2 443.6,109.4 436.9,106.8" fill="#0d3a44" stroke="#0d3a44"/>
<polygon points="445.4,106.2 451.9,108.8 450.1,112 443.6,109.4" fill="#0e3e40" stroke="#0e3e40"/>
<polygon points="451.9,108.8 458.3,111.4 456.4,114.6 450.1,112" fill="#0f413a" stroke="#0f413a"/>
<polygon points="458.3,111.4 464.4,113.9 462.6,117.1 456.4,114.6" fill="#0f4335" stroke="#0f4335"/>
<polygon points="464.4,113.9 470.4,116.5 468.6,119.7 462.6,117.1" fill="#104431" stroke="#104431"/>
<polygon points="470.4,116.5 476.3,119.1 474.4,122.3 468.6,119.7" fill="#11452c" stroke="#11452c"/>
<polygon points="476.3,119.1 481.9,121.7 480,124.8 474.4,122.3" fill="#134728" stroke="#134728"/>
<polygon points="481.9,121.7 487.4,124.2 485.5,127.4 480,124.8" fill="#154a25" stroke="#154a25"/>
<polygon points="487.4,124.2 492.7,126.8 490.8,129.9 485.5,127.4" fill="#174e21" stroke="#174e21"/>
<polygon points="492.7,126.8 497.9,129.3 495.9,132.4 490.8,129.9" fill="#1b501f" stroke="#1b501f"/>
<polygon points="497.9,129.3 502.9,131.9 500.8,134.9 495.9,132.4" fill="#1f521d" stroke="#1f521d"/>
<polygon points="502.9,131.9 507.7,134.5 505.6,137.5 500.8,134.9" fill="#24531b" stroke="#24531b"/>
<polygon points="360.3,80.5 368.7,83.1 366.1,86.1 357.6,83.4" fill="#0a164a" stroke="#0a164a"/>
<polygon points="368.7,83.1 377,85.8 374.5,88.8 366.1,86.1" fill="#0b184a" stroke="#0b184a"/>
<polygon points="377,85.8 385.1,88.4 382.7,91.5 374.5,88.8" fill="#0b1a4b" stroke="#0b1a4b"/>
<polygon points="385.1,88.4 393.1,91.1 390.8,94.2 382.7,91.5" fill="#0b1d4b" stroke="#0b1d4b"/>
<polygon points="393.1,91.1 400.8,93.7 398.6,96.8 390.8,94.2" fill="#0b214b" stroke="#0b214b"/>
<polygon points="400.8,93.7 408.4,96.4 406.2,99.5 398.6,96.8" fill="#0b254b" stroke="#0b254b"/>
<polygon points="408.4,96.4 415.8,99 413.7,102.1 406.2,99.5" fill="#0c294b" stroke="#0c294b"/>
<polygon points="415.8,99 423,101.6 421,104.8 413.7,102.1" fill="#0c2e49" stroke="#0c2e49"/>
<polygon points="423,101.6 430,104.2 428.1,107.4 421,104.8" fill="#0d3347" stroke="#0d3347"/>
<polygon points="430,104.2 436.9,106.8 435,110 428.1,107.4" fill="#0d3844" stroke="#0d3844"/>
<polygon points="436.9,106.8 443.6,109.4 441.7,112.6 435,110" fill="#0e3c41" stroke="#0e3c41"/>
<polygon points="443.6,109.4 450.1,112 448.2,115.2 441.7,112.6" fill="#0e3e3c" stroke="#0e3e3c"/>
<polygon points="450.1,112 456.4,114.6 454.6,117.8 448.2,115.2" fill="#0f4136" stroke="#0f4136"/>
<polygon points="456.4,114.6 462.6,117.1 460.7,120.3 454.6,117.8" fill="#0f4232" stroke="#0f4232"/>
<polygon points="462.6,117.1 468.6,119.7 466.7,122.9 460.7,120.3" fill="#10432e" stroke="#10432e"/>
<polygon points="468.6,119.7 474.4,122.3 472.5,125.4 466.7,122.9" fill="#114429" stroke="#114429"/>
<polygon points="474.4,122.3 480,124.8 478.1,128 472.5,125.4" fill="#134726" stroke="#134726"/>
<polygon points="480,124.8 485.5,127.4 483.5,130.5 478.1,128" fill="#154a23" stroke="#154a23"/>
<polygon points="485.5,127.4 490.8,129.9 488.8,133 483.5,130.5" fill="#184d20" stroke="#184d20"/>
<polygon points="490.8,129.9 495.9,132.4 493.8,135.5 488.8,133" fill="#1c4f1e" stroke="#1c4f1e"/>
<polygon points="495.9,132.4 500.8,134.9 498.7,138 493.8,135.5" fill="#1f511c" stroke="#1f511c"/>
<polygon points="500.8,134.9 505.6,137.5 503.4,140.5 498.7,138" fill="#25511a" stroke="#25511a"/>
<polygon points="357.6,83.4 366.1,86.1 363.5,89.1 354.8,86.4" fill="#0b174a" stroke="#0b174a"/>
<polygon points="366.1,86.1 374.5,88.8 372,91.9 363.5,89.1" fill="#0b1a4a" stroke="#0b1a4a"/>
<polygon points="374.5,88.8 382.7,91.5 380.3,94.6 372,91.9" fill="#0b1c4a" stroke="#0b1c4a"/>
<polygon points="382.7,91.5 390.8,94.2 388.4,97.3 380.3,94.6" fill="#0b204b" stroke="#0b204b"/>
<polygon points="390.8,94.2 398.6,96.8 396.3,100 388.4,97.3" fill="#0b234b" stroke="#0b234b"/>
<polygon points="398.6,96.8 406.2,99.5 404.1,102.6 396.3,100" fill="#0b284a" stroke="#0b284a"/>
<polygon points="406.2,99.5 413.7,102.1 411.6,105.3 404.1,102.6" fill="#0c2c48" stroke="#0c2c48"/>
<polygon points="413.7,102.1 421,104.8 418.9,107.9 411.6,105.3" fill="#0c3147" stroke="#0c3147"/>
<polygon points="421,104.8 428.1,107.4 426.1,110.6 418.9,107.9" fill="#0d3544" stroke="#0d3544"/>
<polygon points="428.1,107.4 435,110 433,113.2 426.1,110.6" fill="#0d3a42" stroke="#0d3a42"/>
<polygon points="435,110 441.7,112.6 439.8,115.8 433,113.2" fill="#0e3c3d" stroke="#0e3c3d"/>
<polygon points="441.7,112.6 448.2,115.2 446.3,118.4 439.8,115.8" fill="#0e3f38" stroke="#0e3f38"/>
<polygon points="448.2,115.2 454.6,117.8 452.7,120.9 446.3,118.4" fill="#0f4133" stroke="#0f4133"/>
<polygon points="454.6,117.8 460.7,120.3 458.8,123.5 452.7,120.9" fill="#10422f" stroke="#10422f"/>
<polygon points="460.7,120.3 466.7,122.9 464.8,126 458.8,123.5" fill="#10422b" stroke="#10422b"/>
<polygon points="466.7,122.9 472.5,125.4 470.6,128.6 464.8,126" fill="#124527" stroke="#124527"/>
<polygon points="472.5,125.4 478.1,128 476.2,131.1 470.6,128.6" fill="#144724" stroke="#144724"/>
<polygon points="478.1,128 483.5,130.5 481.6,133.6 476.2,131.1" fill="#164a21" stroke="#164a21"/>
<polygon points="483.5,130.5 488.8,133 486.8,136.1 481.6,133.6" fill="#194c1f" stroke="#194c1f"/>
<polygon points="488.8,133 493.8,135.5 491.8,138.6 486.8,136.1" fill="#1c4e1d" stroke="#1c4e1d"/>
<polygon points="493.8,135.5 498.7,138 496.6,141 491.8,138.6" fill="#204f1b" stroke="#204f1b"/>
<polygon points="498.7,138 503.4,140.5 501.2,143.5 496.6,141" fill="#265019" stroke="#265019"/>
<polygon points="354.8,86.4 363.5,89.1 360.7,92.2 351.9,89.4" fill="#0b1949" stroke="#0b1949"/>
<polygon points="363.5,89.1 372,91.9 369.4,94.9 360.7,92.2" fill="#0b1b49" stroke="#0b1b49"/>
<polygon points="372,91.9 380.3,94.6 377.8,97.7 369.4,94.9" fill="#0b1f4a" stroke="#0b1f4a"/>
<polygon points="380.3,94.6 388.4,97.3 386,100.4 377.8,97.7" fill="#0b224a" stroke="#0b224a"/>
<polygon points="388.4,97.3 396.3,100 394,103.1 386,100.4" fill="#0b264a" stroke="#0b264a"/>
<polygon points="396.3,100 404.1,102.6 401.8,105.8 394,103.1" fill="#0c2b48" stroke="#0c2b48"/>
<polygon points="404.1,102.6 411.6,105.3 409.4,108.5 401.8,105.8" fill="#0c2f46" stroke="#0c2f46"/>
<polygon points="411.6,105.3 418.9,107.9 416.8,111.1 409.4,108.5" fill="#0c3344" stroke="#0c3344"/>
<polygon points="418.9,107.9 426.1,110.6 424,113.8 416.8,111.1" fill="#0d3842" stroke="#0d3842"/>
<polygon points="426.1,110.6 433,113.2 431,116.4 424,113.8" fill="#0d3b3e" stroke="#0d3b3e"/>
<polygon points="433,113.2 439.8,115.8 437.8,119 431,116.4" fill="#0e3d39" stroke="#0e3d39"/>
<polygon points="439.8,115.8 446.3,118.4 444.4,121.6 437.8,119" fill="#0e3f34" stroke="#0e3f34"/>
<polygon points="446.3,118.4 452.7,120.9 450.7,124.1 444.4,121.6" fill="#0f4030" stroke="#0f4030"/>
<polygon points="452.7,120.9 458.8,123.5 456.9,126.7 450.7,124.1" fill="#10412c" stroke="#10412c"/>
<polygon points="458.8,123.5 464.8,126 462.9,129.2 456.9,126.7" fill="#114228" stroke="#114228"/>
<polygon points="464.8,126 470.6,128.6 468.7,131.7 462.9,129.2" fill="#134525" stroke="#134525"/>
<polygon points="470.6,128.6 476.2,131.1 474.2,134.2 468.7,131.7" fill="#154822" stroke="#154822"/>
<polygon points="476.2,131.1 481.6,133.6 479.6,136.7 474.2,134.2" fill="#174a1f" stroke="#174a1f"/>
<polygon points="481.6,133.6 486.8,136.1 484.7,139.2 479.6,136.7" fill="#1a4c1d" stroke="#1a4c1d"/>
<polygon points="486.8,136.1 491.8,138.6 489.7,141.6 484.7,139.2" fill="#1d4d1c" stroke="#1d4d1c"/>
<polygon points="491.8,138.6 496.6,141 494.4,144 489.7,141.6" fill="#224e1a" stroke="#224e1a"/>
<polygon points="496.6,141 501.2,143.5 499,146.4 494.4,144" fill="#274e18" stroke="#274e18"/>
<polygon points="351.9,89.4 360.7,92.2 357.9,95.2 349,92.4" fill="#0b1b49" stroke="#0b1b49"/>
<polygon points="360.7,92.2 369.4,94.9 366.7,98 357.9,95.2" fill="#0b1e49" stroke="#0b1e49"/>
<polygon points="369.4,94.9 377.8,97.7 375.2,100.7 366.7,98" fill="#0b2149" stroke="#0b2149"/>
<polygon points="377.8,97.7 386,100.4 383.5,103.5 375.2,100.7" fill="#0b2549" stroke="#0b2549"/>
<polygon points="386,100.4 394,103.1 391.6,106.2 383.5,103.5" fill="#0b2947" stroke="#0b2947"/>
<polygon points="394,103.1 401.8,105.8 399.5,108.9 391.6,106.2" fill="#0c2e46" stroke="#0c2e46"/>
<polygon points="401.8,105.8 409.4,108.5 407.2,111.6 399.5,108.9" fill="#0c3244" stroke="#0c3244"/>
<polygon points="409.4,108.5 416.8,111.1 414.6,114.3 407.2,111.6" fill="#0d3642" stroke="#0d3642"/>
<polygon points="416.8,111.1 424,113.8 421.9,116.9 414.6,114.3" fill="#0d393f" stroke="#0d393f"/>
<polygon points="424,113.8 431,116.4 428.9,119.6 421.9,116.9" fill="#0d3c3a" stroke="#0d3c3a"/>
<polygon points="431,116.4 437.8,119 435.7,122.2 428.9,119.6" fill="#0e3e35" stroke="#0e3e35"/>
<polygon points="437.8,119 444.4,121.6 442.4,124.7 435.7,122.2" fill="#0f3f31" stroke="#0f3f31"/>
<polygon points="444.4,121.6 450.7,124.1 448.8,127.3 442.4,124.7" fill="#0f402d" stroke="#0f402d"/>
<polygon points="450.7,124.1 456.9,126.7 454.9,129.8 448.8,127.3" fill="#104129" stroke="#104129"/>
<polygon points="456.9,126.7 462.9,129.2 460.9,132.4 454.9,129.8" fill="#114326" stroke="#114326"/>
<polygon points="462.9,129.2 468.7,131.7 466.7,134.9 460.9,132.4" fill="#134523" stroke="#134523"/>
<polygon points="468.7,131.7 474.2,134.2 472.2,137.3 466.7,134.9" fill="#154820" stroke="#154820"/>
<polygon points="474.2,134.2 479.6,136.7 477.6,139.8 472.2,137.3" fill="#184a1e" stroke="#184a1e"/>
<polygon points="479.6,136.7 484.7,139.2 482.7,142.2 477.6,139.8" fill="#1b4b1c" stroke="#1b4b1c"/>
<polygon points="484.7,139.2 489.7,141.6 487.6,144.6 482.7,142.2" fill="#1e4d1a" stroke="#1e4d1a"/>
<polygon points="489.7,141.6 494.4,144 492.3,147 487.6,144.6" fill="#234d19" stroke="#234d19"/>
<polygon points="494.4,144 499,146.4 496.8,149.4 492.3,147" fill="#284d17" stroke="#284d17"/>
<polygon points="349,92.4 357.9,95.2 355,98.2 345.9,95.3" fill="#0b1d48" stroke="#0b1d48"/>
<polygon points="357.9,95.2 366.7,98 363.9,101 355,98.2" fill="#0b2148" stroke="#0b2148"/>
<polygon points="366.7,98 375.2,100.7 372.5,103.8 363.9,101" fill="#0b2448" stroke="#0b2448"/>
<polygon points="375.2,100.7 383.5,103.5 380.9,106.6 372.5,103.8" fill="#0b2847" stroke="#0b2847"/>
<polygon points="383.5,103.5 391.6,106.2 389.1,109.4 380.9,106.6" fill="#0c2c45" stroke="#0c2c45"/>
<polygon points="391.6,106.2 399.5,108.9 397.1,112.1 389.1,109.4" fill="#0c3043" stroke="#0c3043"/>
<polygon points="399.5,108.9 407.2,111.6 404.9,114.8 397.1,112.1" fill="#0c3441" stroke="#0c3441"/>
<polygon points="407.2,111.6 414.6,114.3 412.4,117.5 404.9,114.8" fill="#0d383f" stroke="#0d383f"/>
<polygon points="414.6,114.3 421.9,116.9 419.7,120.1 412.4,117.5" fill="#0d3a3b" stroke="#0d3a3b"/>
<polygon points="421.9,116.9 428.9,119.6 426.8,122.7 419.7,120.1" fill="#0e3c36" stroke="#0e3c36"/>
<polygon points="428.9,119.6 435.7,122.2 433.7,125.4 426.8,122.7" fill="#0e3e32" stroke="#0e3e32"/>
<polygon points="435.7,122.2 442.4,124.7 440.3,127.9 433.7,125.4" fill="#0f3f2e" stroke="#0f3f2e"/>
<polygon points="442.4,124.7 448.8,127.3 446.7,130.5 440.3,127.9" fill="#0f3f2a" stroke="#0f3f2a"/>
<polygon points="448.8,127.3 454.9,129.8 452.9,133 446.7,130.5" fill="#104127" stroke="#104127"/>
<polygon points="454.9,129.8 460.9,132.4 458.9,135.5 452.9,133" fill="#124324" stroke="#124324"/>
<polygon points="460.9,132.4 466.7,134.9 464.7,138 458.9,135.5" fill="#144621" stroke="#144621"/>
<polygon points="466.7,134.9 472.2,137.3 470.2,140.5 464.7,138" fill="#16481e" stroke="#16481e"/>
<polygon points="472.2,137.3 477.6,139.8 475.5,142.9 470.2,140.5" fill="#19491d" stroke="#19491d"/>
<polygon points="477.6,139.8 482.7,142.2 480.6,145.3 475.5,142.9" fill="#1c4b1b" stroke="#1c4b1b"/>
<polygon points="482.7,142.2 487.6,144.6 485.5,147.7 480.6,145.3" fill="#204c19" stroke="#204c19"/>
<polygon points="487.6,144.6 492.3,147 490.1,150 485.5,147.7" fill="#254c18" stroke="#254c18"/>
<polygon points="492.3,147 496.8,149.4 494.5,152.4 490.1,150" fill="#2a4b17" stroke="#2a4b17"/>
<polygon points="345.9,95.3 355,98.2 352.1,101.2 342.8,98.3" fill="#0b2047" stroke="#0b2047"/>
<polygon points="355,98.2 363.9,101 361,104.1 352.1,101.2" fill="#0b2347" stroke="#0b2347"/>
<polygon points="363.9,101 372.5,103.8 369.8,106.9 361,104.1" fill="#0b2746" stroke="#0b2746"/>
<polygon points="372.5,103.8 380.9,106.6 378.3,109.7 369.8,106.9" fill="#0b2b44" stroke="#0b2b44"/>
<polygon points="380.9,106.6 389.1,109.4 386.6,112.5 378.3,109.7" fill="#0c2f43" stroke="#0c2f43"/>
<polygon points="389.1,109.4 397.1,112.1 394.7,115.2 386.6,112.5" fill="#0c3341" stroke="#0c3341"/>
<polygon points="397.1,112.1 404.9,114.8 402.5,118 394.7,115.2" fill="#0d363f" stroke="#0d363f"/>
<polygon points="404.9,114.8 412.4,117.5 410.1,120.6 402.5,118" fill="#0d393b" stroke="#0d393b"/>
<polygon points="412.4,117.5 419.7,120.1 417.5,123.3 410.1,120.6" fill="#0d3b37" stroke="#0d3b37"/>
<polygon points="419.7,120.1 426.8,122.7 424.6,125.9 417.5,123.3" fill="#0e3d32" stroke="#0e3d32"/>
<polygon points="426.8,122.7 433.7,125.4 431.6,128.5 424.6,125.9" fill="#0e3e2f" stroke="#0e3e2f"/>
<polygon points="433.7,125.4 440.3,127.9 438.2,131.1 431.6,128.5" fill="#0f3e2b" stroke="#0f3e2b"/>
<polygon points="440.3,127.9 446.7,130.5 444.7,133.7 438.2,131.1" fill="#103f27" stroke="#103f27"/>
<polygon points="446.7,130.5 452.9,133 450.9,136.2 444.7,133.7" fill="#114125" stroke="#114125"/>
<polygon points="452.9,133 458.9,135.5 456.9,138.7 450.9,136.2" fill="#134422" stroke="#134422"/>
<polygon points="458.9,135.5 464.7,138 462.6,141.1 456.9,138.7" fill="#15461f" stroke="#15461f"/>
<polygon points="464.7,138 470.2,140.5 468.1,143.6 462.6,141.1" fill="#17481d" stroke="#17481d"/>
<polygon points="470.2,140.5 475.5,142.9 473.4,146 468.1,143.6" fill="#1a491c" stroke="#1a491c"/>
<polygon points="475.5,142.9 480.6,145.3 478.5,148.4 473.4,146" fill="#1d4a1a" stroke="#1d4a1a"/>
<polygon points="480.6,145.3 485.5,147.7 483.3,150.7 478.5,148.4" fill="#214b18" stroke="#214b18"/>
<polygon points="485.5,147.7 490.1,150 487.9,153 483.3,150.7" fill="#264b17" stroke="#264b17"/>
<polygon points="490.1,150 494.5,152.4 492.3,155.3 487.9,153" fill="#2c4916" stroke="#2c4916"/>
<polygon points="342.8,98.3 352.1,101.2 349,104.3 339.7,101.3" fill="#0a2346" stroke="#0a2346"/>
<polygon points="352.1,101.2 361,104.1 358.1,107.2 349,104.3" fill="#0b2745" stroke="#0b2745"/>
<polygon points="361,104.1 369.8,106.9 367,110 358.1,107.2" fill="#0b2a43" stroke="#0b2a43"/>
<polygon points="369.8,106.9 378.3,109.7 375.7,112.8 367,110" fill="#0c2e42" stroke="#0c2e42"/>
<polygon points="378.3,109.7 386.6,112.5 384,115.6 375.7,112.8" fill="#0c3240" stroke="#0c3240"/>
<polygon points="386.6,112.5 394.7,115.2 392.2,118.4 384,115.6" fill="#0c353e" stroke="#0c353e"/>
<polygon points="394.7,115.2 402.5,118 400.1,121.1 392.2,118.4" fill="#0d373b" stroke="#0d373b"/>
<polygon points="402.5,118 410.1,120.6 407.8,123.8 400.1,121.1" fill="#0d3a37" stroke="#0d3a37"/>
<polygon points="410.1,120.6 417.5,123.3 415.2,126.5 407.8,123.8" fill="#0d3c33" stroke="#0d3c33"/>
<polygon points="417.5,123.3 424.6,125.9 422.4,129.1 415.2,126.5" fill="#0e3d2f" stroke="#0e3d2f"/>
<polygon points="424.6,125.9 431.6,128.5 429.4,131.7 422.4,129.1" fill="#0f3d2c" stroke="#0f3d2c"/>
<polygon points="431.6,128.5 438.2,131.1 436.1,134.3 429.4,131.7" fill="#0f3e28" stroke="#0f3e28"/>
<polygon points="438.2,131.1 444.7,133.7 442.6,136.8 436.1,134.3" fill="#103f25" stroke="#103f25"/>
<polygon points="444.7,133.7 450.9,136.2 448.8,139.3 442.6,136.8" fill="#124223" stroke="#124223"/>
<polygon points="450.9,136.2 456.9,138.7 454.8,141.8 448.8,139.3" fill="#144420" stroke="#144420"/>
<polygon points="456.9,138.7 462.6,141.1 460.5,144.3 454.8,141.8" fill="#16461e" stroke="#16461e"/>
<polygon points="462.6,141.1 468.1,143.6 466.1,146.7 460.5,144.3" fill="#18471c" stroke="#18471c"/>
<polygon points="468.1,143.6 473.4,146 471.3,149.1 466.1,146.7" fill="#1b491a" stroke="#1b491a"/>
<polygon points="473.4,146 478.5,148.4 476.4,151.4 471.3,149.1" fill="#1f4a19" stroke="#1f4a19"/>
<polygon points="478.5,148.4 483.3,150.7 481.1,153.7 476.4,151.4" fill="#234a17" stroke="#234a17"/>
<polygon points="483.3,150.7 487.9,153 485.7,156 481.1,153.7" fill="#284916" stroke="#284916"/>
<polygon points="487.9,153 492.3,155.3 490,158.3 485.7,156" fill="#2e4616" stroke="#2e4616"/>
<polygon points="339.7,101.3 349,104.3 345.9,107.3 336.4,104.3" fill="#0b2743" stroke="#0b2743"/>
<polygon points="349,104.3 358.1,107.2 355.2,110.2 345.9,107.3" fill="#0b2a42" stroke="#0b2a42"/>
<polygon points="358.1,107.2 367,110 364.2,113.1 355.2,110.2" fill="#0b2e41" stroke="#0b2e41"/>
<polygon points="367,110 375.7,112.8 372.9,116 364.2,113.1" fill="#0c313f" stroke="#0c313f"/>
<polygon points="375.7,112.8 384,115.6 381.4,118.8 372.9,116" fill="#0c343d" stroke="#0c343d"/>
<polygon points="384,115.6 392.2,118.4 389.7,121.5 381.4,118.8" fill="#0c363a" stroke="#0c363a"/>
<polygon points="392.2,118.4 400.1,121.1 397.7,124.3 389.7,121.5" fill="#0d3837" stroke="#0d3837"/>
<polygon points="400.1,121.1 407.8,123.8 405.4,127 397.7,124.3" fill="#0d3b33" stroke="#0d3b33"/>
<polygon points="407.8,123.8 415.2,126.5 412.9,129.7 405.4,127" fill="#0e3c2f" stroke="#0e3c2f"/>
<polygon points="415.2,126.5 422.4,129.1 420.2,132.3 412.9,129.7" fill="#0e3c2c" stroke="#0e3c2c"/>
<polygon points="422.4,129.1 429.4,131.7 427.2,134.9 420.2,132.3" fill="#0f3d29" stroke="#0f3d29"/>
<polygon points="429.4,131.7 436.1,134.3 433.9,137.5 427.2,134.9" fill="#103e26" stroke="#103e26"/>
<polygon points="436.1,134.3 442.6,136.8 440.4,140 433.9,137.5" fill="#114023" stroke="#114023"/>
<polygon points="442.6,136.8 448.8,139.3 446.7,142.5 440.4,140" fill="#134221" stroke="#134221"/>
<polygon points="448.8,139.3 454.8,141.8 452.7,145 446.7,142.5" fill="#14451e" stroke="#14451e"/>
<polygon points="454.8,141.8 460.5,144.3 458.4,147.4 452.7,145" fill="#17461c" stroke="#17461c"/>
<polygon points="460.5,144.3 466.1,146.7 463.9,149.8 458.4,147.4" fill="#19471b" stroke="#19471b"/>
<polygon points="466.1,146.7 471.3,149.1 469.2,152.1 463.9,149.8" fill="#1c4919" stroke="#1c4919"/>
<polygon points="471.3,149.1 476.4,151.4 474.2,154.4 469.2,152.1" fill="#204918" stroke="#204918"/>
<polygon points="476.4,151.4 481.1,153.7 479,156.7 474.2,154.4" fill="#254916" stroke="#254916"/>
<polygon points="481.1,153.7 485.7,156 483.5,159 479,156.7" fill="#2a4716" stroke="#2a4716"/>
<polygon points="485.7,156 490,158.3 487.7,161.2 483.5,159" fill="#304416" stroke="#304416"/>
<polygon points="336.4,104.3 345.9,107.3 342.7,110.3 333.1,107.4" fill="#0b2b40" stroke="#0b2b40"/>
<polygon points="345.9,107.3 355.2,110.2 352.1,113.3 342.7,110.3" fill="#0b2d3f" stroke="#0b2d3f"/>
<polygon points="355.2,110.2 364.2,113.1 361.2,116.2 352.1,113.3" fill="#0c303e" stroke="#0c303e"/>
<polygon points="364.2,113.1 372.9,116 370.1,119.1 361.2,116.2" fill="#0c333c" stroke="#0c333c"/>
<polygon points="372.9,116 381.4,118.8 378.7,121.9 370.1,119.1" fill="#0c3639" stroke="#0c3639"/>
<polygon points="381.4,118.8 389.7,121.5 387.1,124.7 378.7,121.9" fill="#0d3736" stroke="#0d3736"/>
<polygon points="389.7,121.5 397.7,124.3 395.1,127.4 387.1,124.7" fill="#0d3933" stroke="#0d3933"/>
<polygon points="397.7,124.3 405.4,127 403,130.2 395.1,127.4" fill="#0d3b2f" stroke="#0d3b2f"/>
<polygon points="405.4,127 412.9,129.7 410.6,132.8 403,130.2" fill="#0e3b2c" stroke="#0e3b2c"/>
<polygon points="412.9,129.7 420.2,132.3 417.9,135.5 410.6,132.8" fill="#0e3c29" stroke="#0e3c29"/>
<polygon points="420.2,132.3 427.2,134.9 424.9,138.1 417.9,135.5" fill="#0f3d26" stroke="#0f3d26"/>
<polygon points="427.2,134.9 433.9,137.5 431.7,140.6 424.9,138.1" fill="#103f24" stroke="#103f24"/>
<polygon points="433.9,137.5 440.4,140 438.3,143.2 431.7,140.6" fill="#124121" stroke="#124121"/>
<polygon points="440.4,140 446.7,142.5 444.5,145.6 438.3,143.2" fill="#13431f" stroke="#13431f"/>
<polygon points="446.7,142.5 452.7,145 450.5,148.1 444.5,145.6" fill="#15451d" stroke="#15451d"/>
<polygon points="452.7,145 458.4,147.4 456.3,150.5 450.5,148.1" fill="#18461b" stroke="#18461b"/>
<polygon points="458.4,147.4 463.9,149.8 461.8,152.9 456.3,150.5" fill="#1b471a" stroke="#1b471a"/>
<polygon points="463.9,149.8 469.2,152.1 467.1,155.2 461.8,152.9" fill="#1e4818" stroke="#1e4818"/>
<polygon points="469.2,152.1 474.2,154.4 472,157.5 467.1,155.2" fill="#224817" stroke="#224817"/>
<polygon points="474.2,154.4 479,156.7 476.8,159.7 472,157.5" fill="#274815" stroke="#274815"/>
<polygon points="479,156.7 483.5,159 481.2,161.9 476.8,159.7" fill="#2c4516" stroke="#2c4516"/>
<polygon points="483.5,159 487.7,161.2 485.4,164.1 481.2,161.9" fill="#324116" stroke="#324116"/>
<polygon points="333.1,107.4 342.7,110.3 339.5,113.4 329.7,110.4" fill="#0b2e3d" stroke="#0b2e3d"/>
<polygon points="342.7,110.3 352.1,113.3 349,116.4 339.5,113.4" fill="#0b303c" stroke="#0b303c"/>
<polygon points="352.1,113.3 361.2,116.2 358.2,119.3 349,116.4" fill="#0c333b" stroke="#0c333b"/>
<polygon points="361.2,116.2 370.1,119.1 367.2,122.2 358.2,119.3" fill="#0c3538" stroke="#0c3538"/>
<polygon points="370.1,119.1 378.7,121.9 375.9,125 367.2,122.2" fill="#0c3735" stroke="#0c3735"/>
<polygon points="378.7,121.9 387.1,124.7 384.4,127.9 375.9,125" fill="#0d3832" stroke="#0d3832"/>
<polygon points="387.1,124.7 395.1,127.4 392.6,130.6 384.4,127.9" fill="#0d3a2f" stroke="#0d3a2f"/>
<polygon points="395.1,127.4 403,130.2 400.5,133.3 392.6,130.6" fill="#0e3a2c" stroke="#0e3a2c"/>
<polygon points="403,130.2 410.6,132.8 408.1,136 400.5,133.3" fill="#0e3b29" stroke="#0e3b29"/>
<polygon points="410.6,132.8 417.9,135.5 415.5,138.7 408.1,136" fill="#0f3c26" stroke="#0f3c26"/>
<polygon points="417.9,135.5 424.9,138.1 422.6,141.3 415.5,138.7" fill="#103d24" stroke="#103d24"/>
<polygon points="424.9,138.1 431.7,140.6 429.5,143.8 422.6,141.3" fill="#113f22" stroke="#113f22"/>
<polygon points="431.7,140.6 438.3,143.2 436,146.3 429.5,143.8" fill="#13411f" stroke="#13411f"/>
<polygon points="438.3,143.2 444.5,145.6 442.3,148.8 436,146.3" fill="#14431d" stroke="#14431d"/>
<polygon points="444.5,145.6 450.5,148.1 448.4,151.2 442.3,148.8" fill="#17451c" stroke="#17451c"/>
<polygon points="450.5,148.1 456.3,150.5 454.1,153.6 448.4,151.2" fill="#19461a" stroke="#19461a"/>
<polygon points="456.3,150.5 461.8,152.9 459.6,155.9 454.1,153.6" fill="#1c4719" stroke="#1c4719"/>
<polygon points="461.8,152.9 467.1,155.2 464.9,158.2 459.6,155.9" fill="#204717" stroke="#204717"/>
<polygon points="467.1,155.2 472,157.5 469.8,160.5 464.9,158.2" fill="#244716" stroke="#244716"/>
<polygon points="472,157.5 476.8,159.7 474.5,162.7 469.8,160.5" fill="#294515" stroke="#294515"/>
<polygon points="476.8,159.7 481.2,161.9 479,164.9 474.5,162.7" fill="#2e4215" stroke="#2e4215"/>
<polygon points="481.2,161.9 485.4,164.1 483.1,167 479,164.9" fill="#333d14" stroke="#333d14"/>
<polygon points="329.7,110.4 339.5,113.4 336.1,116.5 326.2,113.4" fill="#0b313a" stroke="#0b313a"/>
<polygon points="339.5,113.4 349,116.4 345.8,119.5 336.1,116.5" fill="#0c3338" stroke="#0c3338"/>
<polygon points="349,116.4 358.2,119.3 355.2,122.4 345.8,119.5" fill="#0c3436" stroke="#0c3436"/>
<polygon points="358.2,119.3 367.2,122.2 364.3,125.3 355.2,122.4" fill="#0c3633" stroke="#0c3633"/>
<polygon points="367.2,122.2 375.9,125 373.1,128.2 364.3,125.3" fill="#0c3830" stroke="#0c3830"/>
<polygon points="375.9,125 384.4,127.9 381.7,131 373.1,128.2" fill="#0d392e" stroke="#0d392e"/>
<polygon points="384.4,127.9 392.6,130.6 389.9,133.8 381.7,131" fill="#0d392b" stroke="#0d392b"/>
<polygon points="392.6,130.6 400.5,133.3 397.9,136.5 389.9,133.8" fill="#0e3a29" stroke="#0e3a29"/>
<polygon points="400.5,133.3 408.1,136 405.7,139.2 397.9,136.5" fill="#0e3b26" stroke="#0e3b26"/>
<polygon points="408.1,136 415.5,138.7 413.1,141.8 405.7,139.2" fill="#0f3c24" stroke="#0f3c24"/>
<polygon points="415.5,138.7 422.6,141.3 420.3,144.4 413.1,141.8" fill="#113e22" stroke="#113e22"/>
<polygon points="422.6,141.3 429.5,143.8 427.2,147 420.3,144.4" fill="#124020" stroke="#124020"/>
<polygon points="429.5,143.8 436,146.3 433.8,149.5 427.2,147" fill="#13421d" stroke="#13421d"/>
<polygon points="436,146.3 442.3,148.8 440.1,151.9 433.8,149.5" fill="#15431c" stroke="#15431c"/>
<polygon points="442.3,148.8 448.4,151.2 446.2,154.3 440.1,151.9" fill="#18451a" stroke="#18451a"/>
<polygon points="448.4,151.2 454.1,153.6 451.9,156.7 446.2,154.3" fill="#1a4619" stroke="#1a4619"/>
<polygon points="454.1,153.6 459.6,155.9 457.4,159 451.9,156.7" fill="#1e4618" stroke="#1e4618"/>
<polygon points="459.6,155.9 464.9,158.2 462.7,161.3 457.4,159" fill="#224616" stroke="#224616"/>
<polygon points="464.9,158.2 469.8,160.5 467.6,163.5 462.7,161.3" fill="#264615" stroke="#264615"/>
<polygon points="469.8,160.5 474.5,162.7 472.3,165.7 467.6,163.5" fill="#2b4315" stroke="#2b4315"/>
<polygon points="474.5,162.7 479,164.9 476.7,167.8 472.3,165.7" fill="#314015" stroke="#314015"/>
<polygon points="479,164.9 483.1,167 480.8,169.9 476.7,167.8" fill="#353813" stroke="#353813"/>
<polygon points="326.2,113.4 336.1,116.5 332.7,119.5 322.6,116.4" fill="#0c3335" stroke="#0c3335"/>
<polygon points="336.1,116.5 345.8,119.5 342.5,122.5 332.7,119.5" fill="#0c3433" stroke="#0c3433"/>
<polygon points="345.8,119.5 355.2,122.4 352,125.5 342.5,122.5" fill="#0c3631" stroke="#0c3631"/>
<polygon points="355.2,122.4 364.3,125.3 361.3,128.5 352,125.5" fill="#0c372e" stroke="#0c372e"/>
<polygon points="364.3,125.3 373.1,128.2 370.2,131.3 361.3,128.5" fill="#0d382c" stroke="#0d382c"/>
<polygon points="373.1,128.2 381.7,131 378.9,134.2 370.2,131.3" fill="#0d382a" stroke="#0d382a"/>
<polygon points="381.7,131 389.9,133.8 387.3,137 378.9,134.2" fill="#0e3928" stroke="#0e3928"/>
<polygon points="389.9,133.8 397.9,136.5 395.3,139.7 387.3,137" fill="#0e3a26" stroke="#0e3a26"/>
<polygon points="397.9,136.5 405.7,139.2 403.1,142.4 395.3,139.7" fill="#0f3b24" stroke="#0f3b24"/>
<polygon points="405.7,139.2 413.1,141.8 410.7,145 403.1,142.4" fill="#103d22" stroke="#103d22"/>
<polygon points="413.1,141.8 420.3,144.4 417.9,147.6 410.7,145" fill="#113e20" stroke="#113e20"/>
<polygon points="420.3,144.4 427.2,147 424.8,150.1 417.9,147.6" fill="#13401e" stroke="#13401e"/>
<polygon points="427.2,147 433.8,149.5 431.5,152.6 424.8,150.1" fill="#14421c" stroke="#14421c"/>
<polygon points="433.8,149.5 440.1,151.9 437.8,155.1 431.5,152.6" fill="#17431b" stroke="#17431b"/>
<polygon points="440.1,151.9 446.2,154.3 443.9,157.5 437.8,155.1" fill="#194519" stroke="#194519"/>
<polygon points="446.2,154.3 451.9,156.7 449.7,159.8 443.9,157.5" fill="#1c4618" stroke="#1c4618"/>
<polygon points="451.9,156.7 457.4,159 455.2,162.1 449.7,159.8" fill="#204617" stroke="#204617"/>
<polygon points="457.4,159 462.7,161.3 460.4,164.3 455.2,162.1" fill="#244615" stroke="#244615"/>
<polygon points="462.7,161.3 467.6,163.5 465.4,166.5 460.4,164.3" fill="#284415" stroke="#284415"/>
<polygon points="467.6,163.5 472.3,165.7 470,168.7 465.4,166.5" fill="#2e4115" stroke="#2e4115"/>
<polygon points="472.3,165.7 476.7,167.8 474.4,170.8 470,168.7" fill="#323b14" stroke="#323b14"/>
<polygon points="476.7,167.8 480.8,169.9 478.5,172.8 474.4,170.8" fill="#363412" stroke="#363412"/>
<polygon points="322.6,116.4 332.7,119.5 329.2,122.6 319,119.5" fill="#0c342f" stroke="#0c342f"/>
<polygon points="332.7,119.5 342.5,122.5 339.2,125.6 329.2,122.6" fill="#0c352d" stroke="#0c352d"/>
<polygon points="342.5,122.5 352,125.5 348.8,128.6 339.2,125.6" fill="#0c362c" stroke="#0c362c"/>
<polygon points="352,125.5 361.3,128.5 358.2,131.6 348.8,128.6" fill="#0d372a" stroke="#0d372a"/>
<polygon points="361.3,128.5 370.2,131.3 367.3,134.5 358.2,131.6" fill="#0d3729" stroke="#0d3729"/>
<polygon points="370.2,131.3 378.9,134.2 376,137.3 367.3,134.5" fill="#0d3827" stroke="#0d3827"/>
<polygon points="378.9,134.2 387.3,137 384.5,140.1 376,137.3" fill="#0e3925" stroke="#0e3925"/>
<polygon points="387.3,137 395.3,139.7 392.7,142.9 384.5,140.1" fill="#0f3a23" stroke="#0f3a23"/>
<polygon points="395.3,139.7 403.1,142.4 400.6,145.6 392.7,142.9" fill="#103b21" stroke="#103b21"/>
<polygon points="403.1,142.4 410.7,145 408.2,148.2 400.6,145.6" fill="#113d20" stroke="#113d20"/>
<polygon points="410.7,145 417.9,147.6 415.4,150.8 408.2,148.2" fill="#123f1e" stroke="#123f1e"/>
<polygon points="417.9,147.6 424.8,150.1 422.4,153.3 415.4,150.8" fill="#14411c" stroke="#14411c"/>
<polygon points="424.8,150.1 431.5,152.6 429.1,155.8 422.4,153.3" fill="#16421b" stroke="#16421b"/>
<polygon points="431.5,152.6 437.8,155.1 435.5,158.2 429.1,155.8" fill="#18431a" stroke="#18431a"/>
<polygon points="437.8,155.1 443.9,157.5 441.6,160.6 435.5,158.2" fill="#1a4518" stroke="#1a4518"/>
<polygon points="443.9,157.5 449.7,159.8 447.5,162.9 441.6,160.6" fill="#1e4517" stroke="#1e4517"/>
<polygon points="449.7,159.8 455.2,162.1 453,165.2 447.5,162.9" fill="#224516" stroke="#224516"/>
<polygon points="455.2,162.1 460.4,164.3 458.2,167.4 453,165.2" fill="#264515" stroke="#264515"/>
<polygon points="460.4,164.3 465.4,166.5 463.1,169.5 458.2,167.4" fill="#2b4215" stroke="#2b4215"/>
<polygon points="465.4,166.5 470,168.7 467.7,171.7 463.1,169.5" fill="#303e15" stroke="#303e15"/>
<polygon points="470,168.7 474.4,170.8 472.1,173.7 467.7,171.7" fill="#343713" stroke="#343713"/>
<polygon points="474.4,170.8 478.5,172.8 476.1,175.7 472.1,173.7" fill="#373011" stroke="#373011"/>
<polygon points="319,119.5 329.2,122.6 325.7,125.6 315.3,122.5" fill="#0c342a" stroke="#0c342a"/>
<polygon points="329.2,122.6 339.2,125.6 335.8,128.7 325.7,125.6" fill="#0c3529" stroke="#0c3529"/>
<polygon points="339.2,125.6 348.8,128.6 345.6,131.8 335.8,128.7" fill="#0d3628" stroke="#0d3628"/>
<polygon points="348.8,128.6 358.2,131.6 355.1,134.7 345.6,131.8" fill="#0d3626" stroke="#0d3626"/>
<polygon points="358.2,131.6 367.3,134.5 364.3,137.6 355.1,134.7" fill="#0d3725" stroke="#0d3725"/>
<polygon points="367.3,134.5 376,137.3 373.1,140.5 364.3,137.6" fill="#0e3823" stroke="#0e3823"/>
<polygon points="376,137.3 384.5,140.1 381.7,143.3 373.1,140.5" fill="#0e3922" stroke="#0e3922"/>
<polygon points="384.5,140.1 392.7,142.9 390,146 381.7,143.3" fill="#0f3a21" stroke="#0f3a21"/>
<polygon points="392.7,142.9 400.6,145.6 397.9,148.7 390,146" fill="#113c1f" stroke="#113c1f"/>
<polygon points="400.6,145.6 408.2,148.2 405.6,151.4 397.9,148.7" fill="#123e1e" stroke="#123e1e"/>
<polygon points="408.2,148.2 415.4,150.8 413,153.9 405.6,151.4" fill="#13401c" stroke="#13401c"/>
<polygon points="415.4,150.8 422.4,153.3 420,156.5 413,153.9" fill="#15411b" stroke="#15411b"/>
<polygon points="422.4,153.3 429.1,155.8 426.8,158.9 420,156.5" fill="#17421a" stroke="#17421a"/>
<polygon points="429.1,155.8 435.5,158.2 433.2,161.3 426.8,158.9" fill="#194318" stroke="#194318"/>
<polygon points="435.5,158.2 441.6,160.6 439.3,163.7 433.2,161.3" fill="#1c4417" stroke="#1c4417"/>
<polygon points="441.6,160.6 447.5,162.9 445.2,166 439.3,163.7" fill="#204516" stroke="#204516"/>
<polygon points="447.5,162.9 453,165.2 450.7,168.2 445.2,166" fill="#244515" stroke="#244515"/>
<polygon points="453,165.2 458.2,167.4 455.9,170.4 450.7,168.2" fill="#284315" stroke="#284315"/>
<polygon points="458.2,167.4 463.1,169.5 460.8,172.5 455.9,170.4" fill="#2d4015" stroke="#2d4015"/>
<polygon points="463.1,169.5 467.7,171.7 465.4,174.6 460.8,172.5" fill="#323a14" stroke="#323a14"/>
<polygon points="467.7,171.7 472.1,173.7 469.7,176.6 465.4,174.6" fill="#363211" stroke="#363211"/>
<polygon points="472.1,173.7 476.1,175.7 473.7,178.6 469.7,176.6" fill="#382d10" stroke="#382d10"/>
<polygon points="315.3,122.5 325.7,125.6 322.1,128.7 311.5,125.6" fill="#0c3425" stroke="#0c3425"/>
<polygon points="325.7,125.6 335.8,128.7 332.3,131.8 322.1,128.7" fill="#0d3424" stroke="#0d3424"/>
<polygon points="335.8,128.7 345.6,131.8 342.3,134.9 332.3,131.8" fill="#0d3523" stroke="#0d3523"/>
<polygon points="345.6,131.8 355.1,134.7 351.9,137.9 342.3,134.9" fill="#0d3623" stroke="#0d3623"/>
<polygon points="355.1,134.7 364.3,137.6 361.2,140.8 351.9,137.9" fill="#0e3721" stroke="#0e3721"/>
<polygon points="364.3,137.6 373.1,140.5 370.2,143.7 361.2,140.8" fill="#0f3821" stroke="#0f3821"/>
<polygon points="373.1,140.5 381.7,143.3 378.9,146.5 370.2,143.7" fill="#0f3a20" stroke="#0f3a20"/>
<polygon points="381.7,143.3 390,146 387.2,149.2 378.9,146.5" fill="#103b1e" stroke="#103b1e"/>
<polygon points="390,146 397.9,148.7 395.3,151.9 387.2,149.2" fill="#113d1d" stroke="#113d1d"/>
<polygon points="397.9,148.7 405.6,151.4 403,154.5 395.3,151.9" fill="#123f1c" stroke="#123f1c"/>
<polygon points="405.6,151.4 413,153.9 410.4,157.1 403,154.5" fill="#14401b" stroke="#14401b"/>
<polygon points="413,153.9 420,156.5 417.5,159.6 410.4,157.1" fill="#16411a" stroke="#16411a"/>
<polygon points="420,156.5 426.8,158.9 424.3,162.1 417.5,159.6" fill="#184219" stroke="#184219"/>
<polygon points="426.8,158.9 433.2,161.3 430.8,164.5 424.3,162.1" fill="#1a4417" stroke="#1a4417"/>
<polygon points="433.2,161.3 439.3,163.7 437,166.8 430.8,164.5" fill="#1e4416" stroke="#1e4416"/>
<polygon points="439.3,163.7 445.2,166 442.8,169.1 437,166.8" fill="#224415" stroke="#224415"/>
<polygon points="445.2,166 450.7,168.2 448.4,171.3 442.8,169.1" fill="#264314" stroke="#264314"/>
<polygon points="450.7,168.2 455.9,170.4 453.6,173.4 448.4,171.3" fill="#2b4115" stroke="#2b4115"/>
<polygon points="455.9,170.4 460.8,172.5 458.5,175.5 453.6,173.4" fill="#303d14" stroke="#303d14"/>
<polygon points="460.8,172.5 465.4,174.6 463.1,177.6 458.5,175.5" fill="#343612" stroke="#343612"/>
<polygon points="465.4,174.6 469.7,176.6 467.4,179.5 463.1,177.6" fill="#372f11" stroke="#372f11"/>
<polygon points="469.7,176.6 473.7,178.6 471.4,181.4 467.4,179.5" fill="#392a0f" stroke="#392a0f"/>
<polygon points="311.5,125.6 322.1,128.7 318.4,131.8 307.6,128.6" fill="#0d3320" stroke="#0d3320"/>
<polygon points="322.1,128.7 332.3,131.8 328.8,134.9 318.4,131.8" fill="#0d3420" stroke="#0d3420"/>
<polygon points="332.3,131.8 342.3,134.9 338.9,138 328.8,134.9" fill="#0e3520" stroke="#0e3520"/>
<polygon points="342.3,134.9 351.9,137.9 348.6,141 338.9,138" fill="#0e361f" stroke="#0e361f"/>
<polygon points="351.9,137.9 361.2,140.8 358,143.9 348.6,141" fill="#0f371f" stroke="#0f371f"/>
<polygon points="361.2,140.8 370.2,143.7 367.2,146.8 358,143.9" fill="#0f391e" stroke="#0f391e"/>
<polygon points="370.2,143.7 378.9,146.5 375.9,149.6 367.2,146.8" fill="#103a1d" stroke="#103a1d"/>
<polygon points="378.9,146.5 387.2,149.2 384.4,152.4 375.9,149.6" fill="#113c1c" stroke="#113c1c"/>
<polygon points="387.2,149.2 395.3,151.9 392.6,155.1 384.4,152.4" fill="#123e1b" stroke="#123e1b"/>
<polygon points="395.3,151.9 403,154.5 400.4,157.7 392.6,155.1" fill="#143f1a" stroke="#143f1a"/>
<polygon points="403,154.5 410.4,157.1 407.9,160.3 400.4,157.7" fill="#154019" stroke="#154019"/>
<polygon points="410.4,157.1 417.5,159.6 415,162.8 407.9,160.3" fill="#174118" stroke="#174118"/>
<polygon points="417.5,159.6 424.3,162.1 421.9,165.2 415,162.8" fill="#194217" stroke="#194217"/>
<polygon points="424.3,162.1 430.8,164.5 428.4,167.6 421.9,165.2" fill="#1c4316" stroke="#1c4316"/>
<polygon points="430.8,164.5 437,166.8 434.6,169.9 428.4,167.6" fill="#204315" stroke="#204315"/>
<polygon points="437,166.8 442.8,169.1 440.5,172.1 434.6,169.9" fill="#244314" stroke="#244314"/>
<polygon points="442.8,169.1 448.4,171.3 446,174.3 440.5,172.1" fill="#284114" stroke="#284114"/>
<polygon points="448.4,171.3 453.6,173.4 451.3,176.4 446,174.3" fill="#2d3f15" stroke="#2d3f15"/>
<polygon points="453.6,173.4 458.5,175.5 456.2,178.5 451.3,176.4" fill="#323913" stroke="#323913"/>
<polygon points="458.5,175.5 463.1,177.6 460.8,180.5 456.2,178.5" fill="#363111" stroke="#363111"/>
<polygon points="463.1,177.6 467.4,179.5 465,182.4 460.8,180.5" fill="#382c10" stroke="#382c10"/>
<polygon points="467.4,179.5 471.4,181.4 469,184.3 465,182.4" fill="#39280e" stroke="#39280e"/>
<polygon points="307.6,128.6 318.4,131.8 314.6,134.9 303.7,131.7" fill="#0e341c" stroke="#0e341c"/>
<polygon points="318.4,131.8 328.8,134.9 325.2,138 314.6,134.9" fill="#0e351d" stroke="#0e351d"/>
<polygon points="328.8,134.9 338.9,138 335.4,141.1 325.2,138" fill="#0f361d" stroke="#0f361d"/>
<polygon points="338.9,138 348.6,141 345.3,144.1 335.4,141.1" fill="#0f371c" stroke="#0f371c"/>
<polygon points="348.6,141 358,143.9 354.8,147.1 345.3,144.1" fill="#10381c" stroke="#10381c"/>
<polygon points="358,143.9 367.2,146.8 364.1,150 354.8,147.1" fill="#103a1c" stroke="#103a1c"/>
<polygon points="367.2,146.8 375.9,149.6 373,152.8 364.1,150" fill="#113b1b" stroke="#113b1b"/>
<polygon points="375.9,149.6 384.4,152.4 381.5,155.6 373,152.8" fill="#123c1a" stroke="#123c1a"/>
<polygon points="384.4,152.4 392.6,155.1 389.8,158.3 381.5,155.6" fill="#133e1a" stroke="#133e1a"/>
<polygon points="392.6,155.1 400.4,157.7 397.7,160.9 389.8,158.3" fill="#153f19" stroke="#153f19"/>
<polygon points="400.4,157.7 407.9,160.3 405.2,163.4 397.7,160.9" fill="#174018" stroke="#174018"/>
<polygon points="407.9,160.3 415,162.8 412.5,165.9 405.2,163.4" fill="#194117" stroke="#194117"/>
<polygon points="415,162.8 421.9,165.2 419.4,168.3 412.5,165.9" fill="#1b4216" stroke="#1b4216"/>
<polygon points="421.9,165.2 428.4,167.6 426,170.7 419.4,168.3" fill="#1e4316" stroke="#1e4316"/>
<polygon points="428.4,167.6 434.6,169.9 432.2,173 426,170.7" fill="#224315" stroke="#224315"/>
<polygon points="434.6,169.9 440.5,172.1 438.1,175.2 432.2,173" fill="#264214" stroke="#264214"/>
<polygon points="440.5,172.1 446,174.3 443.7,177.4 438.1,175.2" fill="#2b3f14" stroke="#2b3f14"/>
<polygon points="446,174.3 451.3,176.4 448.9,179.5 443.7,177.4" fill="#2f3c14" stroke="#2f3c14"/>
<polygon points="451.3,176.4 456.2,178.5 453.8,181.5 448.9,179.5" fill="#333412" stroke="#333412"/>
<polygon points="456.2,178.5 460.8,180.5 458.4,183.4 453.8,181.5" fill="#362e10" stroke="#362e10"/>
<polygon points="460.8,180.5 465,182.4 462.7,185.3 458.4,183.4" fill="#38290f" stroke="#38290f"/>
<polygon points="465,182.4 469,184.3 466.6,187.1 462.7,185.3" fill="#39260d" stroke="#39260d"/>
<polygon points="303.7,131.7 314.6,134.9 310.8,138 299.7,134.7" fill="#0f3519" stroke="#0f3519"/>
<polygon points="314.6,134.9 325.2,138 321.5,141.2 310.8,138" fill="#0f3619" stroke="#0f3619"/>
<polygon points="325.2,138 335.4,141.1 331.9,144.3 321.5,141.2" fill="#103719" stroke="#103719"/>
<polygon points="335.4,141.1 345.3,144.1 341.9,147.3 331.9,144.3" fill="#103819" stroke="#103819"/>
<polygon points="345.3,144.1 354.8,147.1 351.6,150.3 341.9,147.3" fill="#113919" stroke="#113919"/>
<polygon points="354.8,147.1 364.1,150 360.9,153.2 351.6,150.3" fill="#113a19" stroke="#113a19"/>
<polygon points="364.1,150 373,152.8 370,156 360.9,153.2" fill="#123b19" stroke="#123b19"/>
<polygon points="373,152.8 381.5,155.6 378.6,158.7 370,156" fill="#143c19" stroke="#143c19"/>
<polygon points="381.5,155.6 389.8,158.3 386.9,161.4 378.6,158.7" fill="#153e18" stroke="#153e18"/>
<polygon points="389.8,158.3 397.7,160.9 394.9,164 386.9,161.4" fill="#163f18" stroke="#163f18"/>
<polygon points="397.7,160.9 405.2,163.4 402.6,166.6 394.9,164" fill="#184017" stroke="#184017"/>
<polygon points="405.2,163.4 412.5,165.9 409.9,169.1 402.6,166.6" fill="#1a4116" stroke="#1a4116"/>
<polygon points="412.5,165.9 419.4,168.3 416.8,171.5 409.9,169.1" fill="#1d4216" stroke="#1d4216"/>
<polygon points="419.4,168.3 426,170.7 423.5,173.8 416.8,171.5" fill="#204215" stroke="#204215"/>
<polygon points="426,170.7 432.2,173 429.7,176.1 423.5,173.8" fill="#244214" stroke="#244214"/>
<polygon points="432.2,173 438.1,175.2 435.7,178.3 429.7,176.1" fill="#284014" stroke="#284014"/>
<polygon points="438.1,175.2 443.7,177.4 441.3,180.4 435.7,178.3" fill="#2d3e14" stroke="#2d3e14"/>
<polygon points="443.7,177.4 448.9,179.5 446.5,182.5 441.3,180.4" fill="#313813" stroke="#313813"/>
<polygon points="448.9,179.5 453.8,181.5 451.5,184.4 446.5,182.5" fill="#353011" stroke="#353011"/>
<polygon points="453.8,181.5 458.4,183.4 456,186.4 451.5,184.4" fill="#372b10" stroke="#372b10"/>
<polygon points="458.4,183.4 462.7,185.3 460.3,188.2 456,186.4" fill="#38270e" stroke="#38270e"/>
<polygon points="462.7,185.3 466.6,187.1 464.1,190 460.3,188.2" fill="#39240c" stroke="#39240c"/>
<polygon points="299.7,134.7 310.8,138 306.8,141.1 295.6,137.8" fill="#113516" stroke="#113516"/>
<polygon points="310.8,138 321.5,141.2 317.7,144.3 306.8,141.1" fill="#113616" stroke="#113616"/>
<polygon points="321.5,141.2 331.9,144.3 328.2,147.4 317.7,144.3" fill="#113717" stroke="#113717"/>
<polygon points="331.9,144.3 341.9,147.3 338.4,150.4 328.2,147.4" fill="#123817" stroke="#123817"/>
<polygon points="341.9,147.3 351.6,150.3 348.3,153.4 338.4,150.4" fill="#123917" stroke="#123917"/>
<polygon points="351.6,150.3 360.9,153.2 357.7,156.3 348.3,153.4" fill="#133a18" stroke="#133a18"/>
<polygon points="360.9,153.2 370,156 366.9,159.2 357.7,156.3" fill="#143b17" stroke="#143b17"/>
<polygon points="370,156 378.6,158.7 375.6,161.9 366.9,159.2" fill="#153c17" stroke="#153c17"/>
<polygon points="378.6,158.7 386.9,161.4 384.1,164.6 375.6,161.9" fill="#163e17" stroke="#163e17"/>
<polygon points="386.9,161.4 394.9,164 392.1,167.2 384.1,164.6" fill="#183f17" stroke="#183f17"/>
<polygon points="394.9,164 402.6,166.6 399.9,169.8 392.1,167.2" fill="#194016" stroke="#194016"/>
<polygon points="402.6,166.6 409.9,169.1 407.2,172.2 399.9,169.8" fill="#1c4115" stroke="#1c4115"/>
<polygon points="409.9,169.1 416.8,171.5 414.3,174.6 407.2,172.2" fill="#1f4115" stroke="#1f4115"/>
<polygon points="416.8,171.5 423.5,173.8 420.9,176.9 414.3,174.6" fill="#224214" stroke="#224214"/>
<polygon points="423.5,173.8 429.7,176.1 427.3,179.2 420.9,176.9" fill="#264114" stroke="#264114"/>
<polygon points="429.7,176.1 435.7,178.3 433.2,181.3 427.3,179.2" fill="#2b3e14" stroke="#2b3e14"/>
<polygon points="435.7,178.3 441.3,180.4 438.9,183.4 433.2,181.3" fill="#2f3a14" stroke="#2f3a14"/>
<polygon points="441.3,180.4 446.5,182.5 444.1,185.4 438.9,183.4" fill="#333312" stroke="#333312"/>
<polygon points="446.5,182.5 451.5,184.4 449,187.4 444.1,185.4" fill="#362e10" stroke="#362e10"/>
<polygon points="451.5,184.4 456,186.4 453.6,189.3 449,187.4" fill="#38290f" stroke="#38290f"/>
<polygon points="456,186.4 460.3,188.2 457.8,191.1 453.6,189.3" fill="#39250d" stroke="#39250d"/>
<polygon points="460.3,188.2 464.1,190 461.7,192.8 457.8,191.1" fill="#39220b" stroke="#39220b"/>
</g>
<path d="M329.4,116.6 C331.2,116.6 336.2,116.9 340,116.8 C343.8,116.7 347.7,116.4 352,116 C356.3,115.6 361.3,115 366,114.4 C370.7,113.8 375,113.5 380,112.6 C385,111.7 391,110.4 396,109 C401,107.6 405.8,105.8 410,104 C414.2,102.2 417.7,100.3 421,98.4 C424.3,96.5 428.2,93.6 429.6,92.6" fill="none" stroke="#f0f0ea" stroke-width="1.25" stroke-linecap="round"/>
<path d="M433.8,181 C434.7,179.9 436.9,176.3 439.3,174.6 C441.7,172.9 444.6,171.9 448.2,170.8 C451.8,169.7 456.7,168.8 460.9,168.2 C465.1,167.6 469.8,167.6 473.6,167.4 C477.4,167.2 482.1,167.2 483.8,167.2" fill="none" stroke="#f0f0ea" stroke-width="1.25" stroke-linecap="round"/>
<text x="367.4" y="94" font-size="9" text-anchor="middle" font-weight="normal" font-style="normal" fill="#fff" stroke="#fff" stroke-width="0.2">H</text>
<text x="421" y="142.6" font-size="9" text-anchor="middle" font-weight="normal" font-style="normal" fill="#fff" stroke="#fff" stroke-width="0.2">M</text>
<text x="457.8" y="183" font-size="9" text-anchor="middle" font-weight="normal" font-style="normal" fill="#fff" stroke="#fff" stroke-width="0.2">L</text>
<circle cx="293.5" cy="84.4" r="0.9" fill="#111"/>
<circle cx="294" cy="98.7" r="0.9" fill="#111"/>
<circle cx="294.5" cy="113" r="0.9" fill="#111"/>
<circle cx="294.9" cy="127.3" r="0.9" fill="#111"/>
<circle cx="295.4" cy="141.7" r="0.9" fill="#111"/>
<circle cx="295.9" cy="156" r="0.9" fill="#111"/>
<circle cx="296.3" cy="170.3" r="0.9" fill="#111"/>
<circle cx="296.8" cy="184.6" r="0.9" fill="#111"/>
<text x="292.4" y="81.8" font-size="6.9" text-anchor="end" font-weight="normal" font-style="normal" fill="#111" textLength="20.3" lengthAdjust="spacingAndGlyphs" stroke="#111" stroke-width="0.1">&#8722;1000</text>
<text x="292.4" y="99.8" font-size="6.9" text-anchor="end" font-weight="normal" font-style="normal" fill="#111" textLength="16.4" lengthAdjust="spacingAndGlyphs" stroke="#111" stroke-width="0.1">&#8722;900</text>
<text x="292.4" y="116.3" font-size="6.9" text-anchor="end" font-weight="normal" font-style="normal" fill="#111" textLength="16.4" lengthAdjust="spacingAndGlyphs" stroke="#111" stroke-width="0.1">&#8722;800</text>
<text x="292.4" y="131.8" font-size="6.9" text-anchor="end" font-weight="normal" font-style="normal" fill="#111" textLength="16.4" lengthAdjust="spacingAndGlyphs" stroke="#111" stroke-width="0.1">&#8722;700</text>
<text x="292.4" y="147.5" font-size="6.9" text-anchor="end" font-weight="normal" font-style="normal" fill="#111" textLength="16.4" lengthAdjust="spacingAndGlyphs" stroke="#111" stroke-width="0.1">&#8722;600</text>
<text x="292.4" y="163.5" font-size="6.9" text-anchor="end" font-weight="normal" font-style="normal" fill="#111" textLength="16.4" lengthAdjust="spacingAndGlyphs" stroke="#111" stroke-width="0.1">&#8722;500</text>
<text x="292.4" y="179.9" font-size="6.9" text-anchor="end" font-weight="normal" font-style="normal" fill="#111" textLength="16.4" lengthAdjust="spacingAndGlyphs" stroke="#111" stroke-width="0.1">&#8722;400</text>
<circle cx="329.8" cy="187.9" r="0.8" fill="#111"/>
<circle cx="471.5" cy="193.7" r="0.8" fill="#111"/>
<circle cx="362.8" cy="191.1" r="0.8" fill="#111"/>
<circle cx="481.3" cy="186.5" r="0.8" fill="#111"/>
<circle cx="395.7" cy="194.4" r="0.8" fill="#111"/>
<circle cx="491.2" cy="179.2" r="0.8" fill="#111"/>
<circle cx="428.7" cy="197.6" r="0.8" fill="#111"/>
<circle cx="501" cy="172" r="0.8" fill="#111"/>
<text x="293.9" y="192.4" font-size="7.8" text-anchor="middle" font-weight="normal" font-style="normal" fill="#111" transform="rotate(5 293.9 192.4)" textLength="6.4" lengthAdjust="spacingAndGlyphs" stroke="#111" stroke-width="0.15">55</text>
<text x="325.7" y="197.8" font-size="7.8" text-anchor="middle" font-weight="normal" font-style="normal" fill="#111" transform="rotate(5 325.7 197.8)" textLength="6.4" lengthAdjust="spacingAndGlyphs" stroke="#111" stroke-width="0.15">49</text>
<text x="358.8" y="201.6" font-size="7.8" text-anchor="middle" font-weight="normal" font-style="normal" fill="#111" transform="rotate(5 358.8 201.6)" textLength="6.4" lengthAdjust="spacingAndGlyphs" stroke="#111" stroke-width="0.15">43</text>
<text x="391.9" y="204" font-size="7.8" text-anchor="middle" font-weight="normal" font-style="normal" fill="#111" transform="rotate(5 391.9 204)" textLength="6.4" lengthAdjust="spacingAndGlyphs" stroke="#111" stroke-width="0.15">37</text>
<text x="425.8" y="207.1" font-size="7.8" text-anchor="middle" font-weight="normal" font-style="normal" fill="#111" transform="rotate(5 425.8 207.1)" textLength="6.4" lengthAdjust="spacingAndGlyphs" stroke="#111" stroke-width="0.15">31</text>
<text x="453.3" y="209.7" font-size="7.8" text-anchor="middle" font-weight="normal" font-style="normal" fill="#111" transform="rotate(5 453.3 209.7)" textLength="6.4" lengthAdjust="spacingAndGlyphs" stroke="#111" stroke-width="0.15">25</text>
<text x="463.6" y="209.2" font-size="7.8" text-anchor="middle" font-weight="normal" font-style="normal" fill="#111" transform="rotate(-4 463.6 209.2)" textLength="6.9" lengthAdjust="spacingAndGlyphs" stroke="#111" stroke-width="0.15">60</text>
<text x="475.7" y="201.3" font-size="7.8" text-anchor="middle" font-weight="normal" font-style="normal" fill="#111" transform="rotate(-4 475.7 201.3)" textLength="6.9" lengthAdjust="spacingAndGlyphs" stroke="#111" stroke-width="0.15">54</text>
<text x="488.4" y="194.4" font-size="7.8" text-anchor="middle" font-weight="normal" font-style="normal" fill="#111" transform="rotate(-4 488.4 194.4)" textLength="6.9" lengthAdjust="spacingAndGlyphs" stroke="#111" stroke-width="0.15">48</text>
<text x="499.1" y="186.8" font-size="7.8" text-anchor="middle" font-weight="normal" font-style="normal" fill="#111" transform="rotate(-4 499.1 186.8)" textLength="6.9" lengthAdjust="spacingAndGlyphs" stroke="#111" stroke-width="0.15">42</text>
<text x="509.8" y="177.9" font-size="7.8" text-anchor="middle" font-weight="normal" font-style="normal" fill="#111" transform="rotate(-4 509.8 177.9)" textLength="6.9" lengthAdjust="spacingAndGlyphs" stroke="#111" stroke-width="0.15">36</text>
<text x="517.4" y="168.4" font-size="7.8" text-anchor="middle" font-weight="normal" font-style="normal" fill="#111" transform="rotate(-4 517.4 168.4)" textLength="6.9" lengthAdjust="spacingAndGlyphs" stroke="#111" stroke-width="0.15">30</text>
<text x="491.4" y="202.6" font-size="9.4" text-anchor="start" font-weight="bold" font-style="normal" fill="#111" textLength="48.4" lengthAdjust="spacingAndGlyphs">Spindle speed</text>
<text x="496" y="213.6" font-size="8.6" text-anchor="start" font-weight="normal" font-style="normal" fill="#222" textLength="24" lengthAdjust="spacingAndGlyphs" stroke="#222" stroke-width="0.15">(r/min)</text>
<text x="316.8" y="222.4" font-size="9.4" text-anchor="start" font-weight="bold" font-style="normal" fill="#111" textLength="85.8" lengthAdjust="spacingAndGlyphs">Spindle rotation angle<tspan font-weight="normal" fill="#222"> (<tspan dy="1.4">&#176;</tspan><tspan dy="-1.4">)</tspan></tspan></text>
<text x="272" y="169.3" font-size="8.2" font-weight="bold" fill="#111" transform="rotate(-90 272 169.3)" textLength="75.3" lengthAdjust="spacingAndGlyphs" style="font-family:'Liberation Sans',sans-serif">Residual stress &#963;</text>
<text x="272.6" y="88.8" font-size="7.6" text-anchor="start" font-weight="normal" font-style="normal" fill="#444" transform="rotate(-90 272.6 88.8)" textLength="23" lengthAdjust="spacingAndGlyphs">(MPa)</text>
<text x="388.4" y="56.8" font-size="12.6" text-anchor="start" font-weight="bold" font-style="normal" fill="#111">v<tspan font-style="italic" font-size="8" dy="2.8">f</tspan><tspan dy="-2.8">= 45 mm/min</tspan></text>
<text x="271.8" y="52" font-size="11.5" text-anchor="start" font-weight="normal" font-style="normal" fill="#111" stroke="#111" stroke-width="0.2">b</text>
<defs><linearGradient id="cbb" x1="0" y1="0" x2="0" y2="1"><stop offset="0" stop-color="#8a1408"/><stop offset="0.1" stop-color="#d02c10"/><stop offset="0.24" stop-color="#8aa820"/><stop offset="0.4" stop-color="#28d028"/><stop offset="0.6" stop-color="#1cbc40"/><stop offset="0.78" stop-color="#106a98"/><stop offset="0.9" stop-color="#0e2cb8"/><stop offset="1" stop-color="#0c1670"/></linearGradient></defs>
<rect x="284.2" y="13.5" width="3.8" height="22.8" fill="url(#cbb)" stroke="#333" stroke-width="0.8"/>
<text x="292.2" y="18.3" font-size="7.3" text-anchor="start" font-weight="normal" font-style="normal" fill="#e8202a" textLength="21" lengthAdjust="spacingAndGlyphs" stroke="#e8202a" stroke-width="0.25">&#8722;373.6</text>
<text x="292.2" y="37.6" font-size="7.3" text-anchor="start" font-weight="normal" font-style="normal" fill="#2a1ce0" textLength="21" lengthAdjust="spacingAndGlyphs" stroke="#2a1ce0" stroke-width="0.25">&#8722;933.5</text>
</g>
<g id="plot-c">
<polygon points="171,276.6 243.6,233 399.6,246.6 392.2,363.2 244.6,347.6 181,401" fill="#fff" stroke="none"/>
<line x1="171" y1="276.6" x2="243.6" y2="233" stroke="#2a2a2a" stroke-width="0.7"/>
<line x1="243.6" y1="233" x2="399.6" y2="246.6" stroke="#2a2a2a" stroke-width="0.7"/>
<line x1="171" y1="276.6" x2="181" y2="401" stroke="#2a2a2a" stroke-width="0.7"/>
<line x1="243.6" y1="233" x2="244.6" y2="347.6" stroke="#2a2a2a" stroke-width="0.7"/>
<line x1="399.6" y1="246.6" x2="392.2" y2="363.2" stroke="#2a2a2a" stroke-width="0.7"/>
<line x1="173.6" y1="309.4" x2="243.9" y2="262" stroke="#2a2a2a" stroke-width="0.7"/>
<line x1="243.9" y1="262" x2="397.6" y2="277.8" stroke="#2a2a2a" stroke-width="0.7"/>
<line x1="175.1" y1="327" x2="244" y2="278.6" stroke="#2a2a2a" stroke-width="0.7"/>
<line x1="244" y1="278.6" x2="396.6" y2="294.6" stroke="#2a2a2a" stroke-width="0.7"/>
<line x1="176.5" y1="345" x2="244.1" y2="295" stroke="#2a2a2a" stroke-width="0.7"/>
<line x1="244.1" y1="295" x2="395.5" y2="311.4" stroke="#2a2a2a" stroke-width="0.7"/>
<line x1="177.9" y1="363" x2="244.3" y2="311.6" stroke="#2a2a2a" stroke-width="0.7"/>
<line x1="244.3" y1="311.6" x2="394.4" y2="328.8" stroke="#2a2a2a" stroke-width="0.7"/>
<line x1="179.4" y1="381" x2="244.4" y2="328.4" stroke="#2a2a2a" stroke-width="0.7"/>
<line x1="244.4" y1="328.4" x2="393.3" y2="346.2" stroke="#2a2a2a" stroke-width="0.7"/>
<line x1="181" y1="401" x2="244.6" y2="347.6" stroke="#2a2a2a" stroke-width="0.7"/>
<line x1="244.6" y1="347.6" x2="392.2" y2="363.2" stroke="#2a2a2a" stroke-width="0.7"/>
<line x1="187.7" y1="299.9" x2="193.7" y2="390.3" stroke="#2a2a2a" stroke-width="0.7"/>
<line x1="274.6" y1="265.2" x2="274.1" y2="350.7" stroke="#2a2a2a" stroke-width="0.7"/>
<line x1="201.7" y1="290.4" x2="206.4" y2="379.6" stroke="#2a2a2a" stroke-width="0.7"/>
<line x1="305.4" y1="268.3" x2="303.6" y2="353.8" stroke="#2a2a2a" stroke-width="0.7"/>
<line x1="215.8" y1="281" x2="219.2" y2="369" stroke="#2a2a2a" stroke-width="0.7"/>
<line x1="336.1" y1="271.5" x2="333.2" y2="357" stroke="#2a2a2a" stroke-width="0.7"/>
<line x1="229.8" y1="271.5" x2="231.9" y2="358.3" stroke="#2a2a2a" stroke-width="0.7"/>
<line x1="366.9" y1="274.6" x2="362.7" y2="360.1" stroke="#2a2a2a" stroke-width="0.7"/>
<polygon points="181,401 346.4,426.4 392.2,363.2 244.6,347.6" fill="#f5f10a"/>
<path d="M214,379.6 C215.7,381.7 220.3,387.5 224,392 C227.7,396.5 233.3,403.6 236,406.6 C238.7,409.6 239.3,409.4 240,410" fill="none" stroke="#e4ee50" stroke-width="0.7" stroke-linecap="round"/>
<path d="M257,379.6 C258.8,382 264.3,389.5 268,394 C271.7,398.5 274.3,402.9 279,406.6 C283.7,410.3 290.2,413.5 296,416 C301.8,418.5 311,420.7 314,421.6" fill="none" stroke="#d4e84a" stroke-width="0.8" stroke-linecap="round"/>
<path d="M301,379.6 C302.8,381.5 307.7,387.3 312,391 C316.3,394.7 322.3,398.9 327,402 C331.7,405.1 335.8,407.5 340,409.6 C344.2,411.7 350,413.8 352,414.6" fill="none" stroke="#7fd05a" stroke-width="0.8" stroke-linecap="round"/>
<path d="M338,378 C339.3,379.2 343,382.8 346,385 C349,387.2 352.7,389.3 356,391.4 C359.3,393.5 364.3,396.6 366,397.6" fill="none" stroke="#4a4a20" stroke-width="0.8" stroke-linecap="round"/>
<line x1="181" y1="401" x2="346.4" y2="426.4" stroke="#222" stroke-width="0.8"/>
<line x1="346.4" y1="426.4" x2="392.2" y2="363.2" stroke="#222" stroke-width="0.8"/>
<polygon points="246.6,306.4 253.1,305.7 259.6,305 266.2,304.3 272.8,303.5 279.4,302.8 286.1,302.1 292.7,301.3 299.5,300.6 306.2,299.9 313,299.1 319.8,298.4 326.6,297.6 333.4,296.8 340.3,296.1 347.2,295.3 354.2,294.5 361.1,293.7 368.1,293 375.1,292.2 382.2,291.4 389.3,290.6 396.4,289.8 394.3,293.8 392.2,297.7 390.1,301.7 388,305.7 385.9,309.6 383.8,313.6 381.8,317.5 379.7,321.5 377.6,325.5 375.5,329.4 373.4,333.4 371.3,337.4 369.2,341.3 367.1,345.3 365,349.3 362.9,353.2 360.8,357.2 358.7,361.1 356.6,365.1 354.5,369.1 352.4,373 350.3,377 342.3,377.2 334.3,377.4 326.3,377.5 318.4,377.7 310.4,377.8 302.5,378 294.6,378.1 286.8,378.2 278.9,378.4 271.1,378.5 263.3,378.6 255.5,378.7 247.8,378.8 240.1,378.9 232.4,379 224.7,379.1 217,379.1 209.4,379.2 201.7,379.3 194.1,379.3 186.6,379.4 179,379.4 182,376.1 185.1,372.8 188.1,369.6 191.2,366.3 194.3,363 197.3,359.7 200.4,356.4 203.4,353.1 206.5,349.8 209.6,346.5 212.7,343.1 215.7,339.8 218.8,336.5 221.9,333.2 225,329.8 228,326.5 231.1,323.2 234.2,319.8 237.3,316.5 240.4,313.1 243.5,309.8" fill="#134a2c"/>
<g stroke-width="1.1" stroke-linejoin="round">
<polygon points="246.6,306.4 253.1,305.7 250.1,309.1 243.5,309.8" fill="#103c22" stroke="#103c22"/>
<polygon points="253.1,305.7 259.6,305 256.6,308.4 250.1,309.1" fill="#0f3c26" stroke="#0f3c26"/>
<polygon points="259.6,305 266.2,304.3 263.3,307.7 256.6,308.4" fill="#0e3c2c" stroke="#0e3c2c"/>
<polygon points="266.2,304.3 272.8,303.5 269.9,307 263.3,307.7" fill="#0e3d32" stroke="#0e3d32"/>
<polygon points="272.8,303.5 279.4,302.8 276.6,306.3 269.9,307" fill="#0d3b39" stroke="#0d3b39"/>
<polygon points="279.4,302.8 286.1,302.1 283.3,305.6 276.6,306.3" fill="#0d3940" stroke="#0d3940"/>
<polygon points="286.1,302.1 292.7,301.3 290,304.9 283.3,305.6" fill="#0d3544" stroke="#0d3544"/>
<polygon points="292.7,301.3 299.5,300.6 296.7,304.2 290,304.9" fill="#0c3048" stroke="#0c3048"/>
<polygon points="299.5,300.6 306.2,299.9 303.5,303.5 296.7,304.2" fill="#0c2b4a" stroke="#0c2b4a"/>
<polygon points="306.2,299.9 313,299.1 310.3,302.7 303.5,303.5" fill="#0b254c" stroke="#0b254c"/>
<polygon points="313,299.1 319.8,298.4 317.2,302 310.3,302.7" fill="#0b214c" stroke="#0b214c"/>
<polygon points="319.8,298.4 326.6,297.6 324,301.3 317.2,302" fill="#0b1d4c" stroke="#0b1d4c"/>
<polygon points="326.6,297.6 333.4,296.8 330.9,300.6 324,301.3" fill="#0b194c" stroke="#0b194c"/>
<polygon points="333.4,296.8 340.3,296.1 337.9,299.8 330.9,300.6" fill="#0b164b" stroke="#0b164b"/>
<polygon points="340.3,296.1 347.2,295.3 344.8,299.1 337.9,299.8" fill="#0a1449" stroke="#0a1449"/>
<polygon points="347.2,295.3 354.2,294.5 351.8,298.3 344.8,299.1" fill="#0a1247" stroke="#0a1247"/>
<polygon points="354.2,294.5 361.1,293.7 358.8,297.6 351.8,298.3" fill="#0a1145" stroke="#0a1145"/>
<polygon points="361.1,293.7 368.1,293 365.9,296.8 358.8,297.6" fill="#091043" stroke="#091043"/>
<polygon points="368.1,293 375.1,292.2 372.9,296.1 365.9,296.8" fill="#090f41" stroke="#090f41"/>
<polygon points="375.1,292.2 382.2,291.4 380,295.3 372.9,296.1" fill="#090e40" stroke="#090e40"/>
<polygon points="382.2,291.4 389.3,290.6 387.2,294.5 380,295.3" fill="#090e3e" stroke="#090e3e"/>
<polygon points="389.3,290.6 396.4,289.8 394.3,293.8 387.2,294.5" fill="#090d3c" stroke="#090d3c"/>
<polygon points="243.5,309.8 250.1,309.1 247,312.5 240.4,313.1" fill="#113e20" stroke="#113e20"/>
<polygon points="250.1,309.1 256.6,308.4 253.6,311.8 247,312.5" fill="#103e24" stroke="#103e24"/>
<polygon points="256.6,308.4 263.3,307.7 260.3,311.1 253.6,311.8" fill="#0f3d28" stroke="#0f3d28"/>
<polygon points="263.3,307.7 269.9,307 267,310.5 260.3,311.1" fill="#0f3e2e" stroke="#0f3e2e"/>
<polygon points="269.9,307 276.6,306.3 273.7,309.8 267,310.5" fill="#0e3e33" stroke="#0e3e33"/>
<polygon points="276.6,306.3 283.3,305.6 280.5,309.1 273.7,309.8" fill="#0e3d3a" stroke="#0e3d3a"/>
<polygon points="283.3,305.6 290,304.9 287.2,308.5 280.5,309.1" fill="#0d3b40" stroke="#0d3b40"/>
<polygon points="290,304.9 296.7,304.2 294,307.8 287.2,308.5" fill="#0d3745" stroke="#0d3745"/>
<polygon points="296.7,304.2 303.5,303.5 300.9,307.1 294,307.8" fill="#0d3248" stroke="#0d3248"/>
<polygon points="303.5,303.5 310.3,302.7 307.7,306.4 300.9,307.1" fill="#0c2d4b" stroke="#0c2d4b"/>
<polygon points="310.3,302.7 317.2,302 314.6,305.7 307.7,306.4" fill="#0c284e" stroke="#0c284e"/>
<polygon points="317.2,302 324,301.3 321.5,305 314.6,305.7" fill="#0c234e" stroke="#0c234e"/>
<polygon points="324,301.3 330.9,300.6 328.5,304.3 321.5,305" fill="#0c1f4e" stroke="#0c1f4e"/>
<polygon points="330.9,300.6 337.9,299.8 335.4,303.6 328.5,304.3" fill="#0b1b4d" stroke="#0b1b4d"/>
<polygon points="337.9,299.8 344.8,299.1 342.4,302.9 335.4,303.6" fill="#0b184c" stroke="#0b184c"/>
<polygon points="344.8,299.1 351.8,298.3 349.5,302.1 342.4,302.9" fill="#0b154b" stroke="#0b154b"/>
<polygon points="351.8,298.3 358.8,297.6 356.5,301.4 349.5,302.1" fill="#0a1449" stroke="#0a1449"/>
<polygon points="358.8,297.6 365.9,296.8 363.6,300.7 356.5,301.4" fill="#0a1246" stroke="#0a1246"/>
<polygon points="365.9,296.8 372.9,296.1 370.7,300 363.6,300.7" fill="#0a1044" stroke="#0a1044"/>
<polygon points="372.9,296.1 380,295.3 377.9,299.2 370.7,300" fill="#090f42" stroke="#090f42"/>
<polygon points="380,295.3 387.2,294.5 385,298.5 377.9,299.2" fill="#090f40" stroke="#090f40"/>
<polygon points="387.2,294.5 394.3,293.8 392.2,297.7 385,298.5" fill="#090e3e" stroke="#090e3e"/>
<polygon points="240.4,313.1 247,312.5 244,315.8 237.3,316.5" fill="#13411e" stroke="#13411e"/>
<polygon points="247,312.5 253.6,311.8 250.6,315.2 244,315.8" fill="#114021" stroke="#114021"/>
<polygon points="253.6,311.8 260.3,311.1 257.4,314.6 250.6,315.2" fill="#103f25" stroke="#103f25"/>
<polygon points="260.3,311.1 267,310.5 264.1,313.9 257.4,314.6" fill="#0f3f2a" stroke="#0f3f2a"/>
<polygon points="267,310.5 273.7,309.8 270.9,313.3 264.1,313.9" fill="#0f3f2f" stroke="#0f3f2f"/>
<polygon points="273.7,309.8 280.5,309.1 277.6,312.7 270.9,313.3" fill="#0e4034" stroke="#0e4034"/>
<polygon points="280.5,309.1 287.2,308.5 284.5,312 277.6,312.7" fill="#0e3e3a" stroke="#0e3e3a"/>
<polygon points="287.2,308.5 294,307.8 291.3,311.3 284.5,312" fill="#0e3c41" stroke="#0e3c41"/>
<polygon points="294,307.8 300.9,307.1 298.2,310.7 291.3,311.3" fill="#0d3946" stroke="#0d3946"/>
<polygon points="300.9,307.1 307.7,306.4 305.1,310 298.2,310.7" fill="#0d3549" stroke="#0d3549"/>
<polygon points="307.7,306.4 314.6,305.7 312,309.4 305.1,310" fill="#0d304c" stroke="#0d304c"/>
<polygon points="314.6,305.7 321.5,305 319,308.7 312,309.4" fill="#0c2b4e" stroke="#0c2b4e"/>
<polygon points="321.5,305 328.5,304.3 326,308 319,308.7" fill="#0c264f" stroke="#0c264f"/>
<polygon points="328.5,304.3 335.4,303.6 333,307.3 326,308" fill="#0c214f" stroke="#0c214f"/>
<polygon points="335.4,303.6 342.4,302.9 340,306.6 333,307.3" fill="#0c1d4e" stroke="#0c1d4e"/>
<polygon points="342.4,302.9 349.5,302.1 347.1,305.9 340,306.6" fill="#0b1a4d" stroke="#0b1a4d"/>
<polygon points="349.5,302.1 356.5,301.4 354.2,305.2 347.1,305.9" fill="#0b164c" stroke="#0b164c"/>
<polygon points="356.5,301.4 363.6,300.7 361.3,304.5 354.2,305.2" fill="#0a144a" stroke="#0a144a"/>
<polygon points="363.6,300.7 370.7,300 368.5,303.8 361.3,304.5" fill="#0a1247" stroke="#0a1247"/>
<polygon points="370.7,300 377.9,299.2 375.7,303.1 368.5,303.8" fill="#0a1045" stroke="#0a1045"/>
<polygon points="377.9,299.2 385,298.5 382.9,302.4 375.7,303.1" fill="#090f43" stroke="#090f43"/>
<polygon points="385,298.5 392.2,297.7 390.1,301.7 382.9,302.4" fill="#090f41" stroke="#090f41"/>
<polygon points="237.3,316.5 244,315.8 240.9,319.2 234.2,319.8" fill="#14421c" stroke="#14421c"/>
<polygon points="244,315.8 250.6,315.2 247.6,318.6 240.9,319.2" fill="#13421f" stroke="#13421f"/>
<polygon points="250.6,315.2 257.4,314.6 254.4,318 247.6,318.6" fill="#124223" stroke="#124223"/>
<polygon points="257.4,314.6 264.1,313.9 261.2,317.4 254.4,318" fill="#114126" stroke="#114126"/>
<polygon points="264.1,313.9 270.9,313.3 268,316.8 261.2,317.4" fill="#10412b" stroke="#10412b"/>
<polygon points="270.9,313.3 277.6,312.7 274.8,316.2 268,316.8" fill="#0f4130" stroke="#0f4130"/>
<polygon points="277.6,312.7 284.5,312 281.7,315.6 274.8,316.2" fill="#0f4135" stroke="#0f4135"/>
<polygon points="284.5,312 291.3,311.3 288.6,314.9 281.7,315.6" fill="#0e403a" stroke="#0e403a"/>
<polygon points="291.3,311.3 298.2,310.7 295.5,314.3 288.6,314.9" fill="#0e3e41" stroke="#0e3e41"/>
<polygon points="298.2,310.7 305.1,310 302.5,313.7 295.5,314.3" fill="#0e3c46" stroke="#0e3c46"/>
<polygon points="305.1,310 312,309.4 309.5,313 302.5,313.7" fill="#0d3749" stroke="#0d3749"/>
<polygon points="312,309.4 319,308.7 316.5,312.4 309.5,313" fill="#0d324c" stroke="#0d324c"/>
<polygon points="319,308.7 326,308 323.5,311.7 316.5,312.4" fill="#0c2d4e" stroke="#0c2d4e"/>
<polygon points="326,308 333,307.3 330.6,311.1 323.5,311.7" fill="#0c2750" stroke="#0c2750"/>
<polygon points="333,307.3 340,306.6 337.6,310.4 330.6,311.1" fill="#0c2350" stroke="#0c2350"/>
<polygon points="340,306.6 347.1,305.9 344.8,309.7 337.6,310.4" fill="#0c1e4f" stroke="#0c1e4f"/>
<polygon points="347.1,305.9 354.2,305.2 351.9,309.1 344.8,309.7" fill="#0b1b4e" stroke="#0b1b4e"/>
<polygon points="354.2,305.2 361.3,304.5 359.1,308.4 351.9,309.1" fill="#0b174d" stroke="#0b174d"/>
<polygon points="361.3,304.5 368.5,303.8 366.3,307.7 359.1,308.4" fill="#0a154b" stroke="#0a154b"/>
<polygon points="368.5,303.8 375.7,303.1 373.5,307 366.3,307.7" fill="#0a1348" stroke="#0a1348"/>
<polygon points="375.7,303.1 382.9,302.4 380.8,306.3 373.5,307" fill="#0a1045" stroke="#0a1045"/>
<polygon points="382.9,302.4 390.1,301.7 388,305.7 380.8,306.3" fill="#091043" stroke="#091043"/>
<polygon points="234.2,319.8 240.9,319.2 237.9,322.6 231.1,323.2" fill="#17441b" stroke="#17441b"/>
<polygon points="240.9,319.2 247.6,318.6 244.7,322 237.9,322.6" fill="#15441d" stroke="#15441d"/>
<polygon points="247.6,318.6 254.4,318 251.5,321.5 244.7,322" fill="#144420" stroke="#144420"/>
<polygon points="254.4,318 261.2,317.4 258.3,320.9 251.5,321.5" fill="#124324" stroke="#124324"/>
<polygon points="261.2,317.4 268,316.8 265.2,320.3 258.3,320.9" fill="#114227" stroke="#114227"/>
<polygon points="268,316.8 274.8,316.2 272,319.7 265.2,320.3" fill="#10422b" stroke="#10422b"/>
<polygon points="274.8,316.2 281.7,315.6 279,319.1 272,319.7" fill="#104230" stroke="#104230"/>
<polygon points="281.7,315.6 288.6,314.9 285.9,318.5 279,319.1" fill="#0f4335" stroke="#0f4335"/>
<polygon points="288.6,314.9 295.5,314.3 292.9,317.9 285.9,318.5" fill="#0f423a" stroke="#0f423a"/>
<polygon points="295.5,314.3 302.5,313.7 299.9,317.3 292.9,317.9" fill="#0e4040" stroke="#0e4040"/>
<polygon points="302.5,313.7 309.5,313 306.9,316.7 299.9,317.3" fill="#0e3e47" stroke="#0e3e47"/>
<polygon points="309.5,313 316.5,312.4 313.9,316.1 306.9,316.7" fill="#0e394a" stroke="#0e394a"/>
<polygon points="316.5,312.4 323.5,311.7 321,315.4 313.9,316.1" fill="#0d344d" stroke="#0d344d"/>
<polygon points="323.5,311.7 330.6,311.1 328.1,314.8 321,315.4" fill="#0d2f4f" stroke="#0d2f4f"/>
<polygon points="330.6,311.1 337.6,310.4 335.2,314.2 328.1,314.8" fill="#0c2951" stroke="#0c2951"/>
<polygon points="337.6,310.4 344.8,309.7 342.4,313.5 335.2,314.2" fill="#0c2451" stroke="#0c2451"/>
<polygon points="344.8,309.7 351.9,309.1 349.6,312.9 342.4,313.5" fill="#0c1f50" stroke="#0c1f50"/>
<polygon points="351.9,309.1 359.1,308.4 356.8,312.3 349.6,312.9" fill="#0b1b4f" stroke="#0b1b4f"/>
<polygon points="359.1,308.4 366.3,307.7 364.1,311.6 356.8,312.3" fill="#0b174d" stroke="#0b174d"/>
<polygon points="366.3,307.7 373.5,307 371.3,310.9 364.1,311.6" fill="#0b154b" stroke="#0b154b"/>
<polygon points="373.5,307 380.8,306.3 378.6,310.3 371.3,310.9" fill="#0a1348" stroke="#0a1348"/>
<polygon points="380.8,306.3 388,305.7 385.9,309.6 378.6,310.3" fill="#0a1045" stroke="#0a1045"/>
<polygon points="231.1,323.2 237.9,322.6 234.8,326 228,326.5" fill="#19451a" stroke="#19451a"/>
<polygon points="237.9,322.6 244.7,322 241.7,325.4 234.8,326" fill="#17461c" stroke="#17461c"/>
<polygon points="244.7,322 251.5,321.5 248.5,324.9 241.7,325.4" fill="#15461e" stroke="#15461e"/>
<polygon points="251.5,321.5 258.3,320.9 255.4,324.3 248.5,324.9" fill="#144621" stroke="#144621"/>
<polygon points="258.3,320.9 265.2,320.3 262.3,323.8 255.4,324.3" fill="#134524" stroke="#134524"/>
<polygon points="265.2,320.3 272,319.7 269.2,323.2 262.3,323.8" fill="#124428" stroke="#124428"/>
<polygon points="272,319.7 279,319.1 276.2,322.6 269.2,323.2" fill="#11442c" stroke="#11442c"/>
<polygon points="279,319.1 285.9,318.5 283.2,322.1 276.2,322.6" fill="#104430" stroke="#104430"/>
<polygon points="285.9,318.5 292.9,317.9 290.2,321.5 283.2,322.1" fill="#104435" stroke="#104435"/>
<polygon points="292.9,317.9 299.9,317.3 297.2,320.9 290.2,321.5" fill="#0f433a" stroke="#0f433a"/>
<polygon points="299.9,317.3 306.9,316.7 304.3,320.3 297.2,320.9" fill="#0f4141" stroke="#0f4141"/>
<polygon points="306.9,316.7 313.9,316.1 311.4,319.7 304.3,320.3" fill="#0e3f47" stroke="#0e3f47"/>
<polygon points="313.9,316.1 321,315.4 318.5,319.2 311.4,319.7" fill="#0e3a4a" stroke="#0e3a4a"/>
<polygon points="321,315.4 328.1,314.8 325.7,318.6 318.5,319.2" fill="#0d354d" stroke="#0d354d"/>
<polygon points="328.1,314.8 335.2,314.2 332.9,317.9 325.7,318.6" fill="#0d304f" stroke="#0d304f"/>
<polygon points="335.2,314.2 342.4,313.5 340.1,317.3 332.9,317.9" fill="#0c2a52" stroke="#0c2a52"/>
<polygon points="342.4,313.5 349.6,312.9 347.3,316.7 340.1,317.3" fill="#0c2451" stroke="#0c2451"/>
<polygon points="349.6,312.9 356.8,312.3 354.5,316.1 347.3,316.7" fill="#0c1f51" stroke="#0c1f51"/>
<polygon points="356.8,312.3 364.1,311.6 361.8,315.5 354.5,316.1" fill="#0c1b4f" stroke="#0c1b4f"/>
<polygon points="364.1,311.6 371.3,310.9 369.1,314.9 361.8,315.5" fill="#0b174d" stroke="#0b174d"/>
<polygon points="371.3,310.9 378.6,310.3 376.5,314.2 369.1,314.9" fill="#0a154b" stroke="#0a154b"/>
<polygon points="378.6,310.3 385.9,309.6 383.8,313.6 376.5,314.2" fill="#0a1248" stroke="#0a1248"/>
<polygon points="228,326.5 234.8,326 231.8,329.3 225,329.8" fill="#1b4619" stroke="#1b4619"/>
<polygon points="234.8,326 241.7,325.4 238.7,328.8 231.8,329.3" fill="#19471b" stroke="#19471b"/>
<polygon points="241.7,325.4 248.5,324.9 245.6,328.3 238.7,328.8" fill="#18481d" stroke="#18481d"/>
<polygon points="248.5,324.9 255.4,324.3 252.5,327.8 245.6,328.3" fill="#16481f" stroke="#16481f"/>
<polygon points="255.4,324.3 262.3,323.8 259.5,327.3 252.5,327.8" fill="#154822" stroke="#154822"/>
<polygon points="262.3,323.8 269.2,323.2 266.4,326.7 259.5,327.3" fill="#134725" stroke="#134725"/>
<polygon points="269.2,323.2 276.2,322.6 273.4,326.2 266.4,326.7" fill="#124628" stroke="#124628"/>
<polygon points="276.2,322.6 283.2,322.1 280.5,325.6 273.4,326.2" fill="#11452c" stroke="#11452c"/>
<polygon points="283.2,322.1 290.2,321.5 287.5,325.1 280.5,325.6" fill="#114531" stroke="#114531"/>
<polygon points="290.2,321.5 297.2,320.9 294.6,324.5 287.5,325.1" fill="#104536" stroke="#104536"/>
<polygon points="297.2,320.9 304.3,320.3 301.7,324 294.6,324.5" fill="#0f453b" stroke="#0f453b"/>
<polygon points="304.3,320.3 311.4,319.7 308.9,323.4 301.7,324" fill="#0f4241" stroke="#0f4241"/>
<polygon points="311.4,319.7 318.5,319.2 316,322.9 308.9,323.4" fill="#0f4047" stroke="#0f4047"/>
<polygon points="318.5,319.2 325.7,318.6 323.2,322.3 316,322.9" fill="#0e3b4b" stroke="#0e3b4b"/>
<polygon points="325.7,318.6 332.9,317.9 330.5,321.7 323.2,322.3" fill="#0e364e" stroke="#0e364e"/>
<polygon points="332.9,317.9 340.1,317.3 337.7,321.1 330.5,321.7" fill="#0d3050" stroke="#0d3050"/>
<polygon points="340.1,317.3 347.3,316.7 345,320.5 337.7,321.1" fill="#0c2a52" stroke="#0c2a52"/>
<polygon points="347.3,316.7 354.5,316.1 352.3,320 345,320.5" fill="#0c2452" stroke="#0c2452"/>
<polygon points="354.5,316.1 361.8,315.5 359.6,319.4 352.3,320" fill="#0c1f51" stroke="#0c1f51"/>
<polygon points="361.8,315.5 369.1,314.9 367,318.8 359.6,319.4" fill="#0b1b4f" stroke="#0b1b4f"/>
<polygon points="369.1,314.9 376.5,314.2 374.3,318.2 367,318.8" fill="#0b174d" stroke="#0b174d"/>
<polygon points="376.5,314.2 383.8,313.6 381.8,317.5 374.3,318.2" fill="#0a144a" stroke="#0a144a"/>
<polygon points="225,329.8 231.8,329.3 228.8,332.7 221.9,333.2" fill="#1e4718" stroke="#1e4718"/>
<polygon points="231.8,329.3 238.7,328.8 235.7,332.2 228.8,332.7" fill="#1c4819" stroke="#1c4819"/>
<polygon points="238.7,328.8 245.6,328.3 242.6,331.7 235.7,332.2" fill="#1a491b" stroke="#1a491b"/>
<polygon points="245.6,328.3 252.5,327.8 249.6,331.2 242.6,331.7" fill="#19491d" stroke="#19491d"/>
<polygon points="252.5,327.8 259.5,327.3 256.6,330.7 249.6,331.2" fill="#174a1f" stroke="#174a1f"/>
<polygon points="259.5,327.3 266.4,326.7 263.6,330.2 256.6,330.7" fill="#154922" stroke="#154922"/>
<polygon points="266.4,326.7 273.4,326.2 270.7,329.7 263.6,330.2" fill="#144825" stroke="#144825"/>
<polygon points="273.4,326.2 280.5,325.6 277.8,329.2 270.7,329.7" fill="#134729" stroke="#134729"/>
<polygon points="280.5,325.6 287.5,325.1 284.9,328.7 277.8,329.2" fill="#11462d" stroke="#11462d"/>
<polygon points="287.5,325.1 294.6,324.5 292,328.2 284.9,328.7" fill="#114631" stroke="#114631"/>
<polygon points="294.6,324.5 301.7,324 299.2,327.6 292,328.2" fill="#104636" stroke="#104636"/>
<polygon points="301.7,324 308.9,323.4 306.4,327.1 299.2,327.6" fill="#10463b" stroke="#10463b"/>
<polygon points="308.9,323.4 316,322.9 313.6,326.6 306.4,327.1" fill="#0f4342" stroke="#0f4342"/>
<polygon points="316,322.9 323.2,322.3 320.8,326 313.6,326.6" fill="#0f4048" stroke="#0f4048"/>
<polygon points="323.2,322.3 330.5,321.7 328.1,325.5 320.8,326" fill="#0e3c4c" stroke="#0e3c4c"/>
<polygon points="330.5,321.7 337.7,321.1 335.4,324.9 328.1,325.5" fill="#0e364e" stroke="#0e364e"/>
<polygon points="337.7,321.1 345,320.5 342.7,324.4 335.4,324.9" fill="#0d3051" stroke="#0d3051"/>
<polygon points="345,320.5 352.3,320 350,323.8 342.7,324.4" fill="#0c2952" stroke="#0c2952"/>
<polygon points="352.3,320 359.6,319.4 357.4,323.2 350,323.8" fill="#0c2352" stroke="#0c2352"/>
<polygon points="359.6,319.4 367,318.8 364.8,322.7 357.4,323.2" fill="#0c1e51" stroke="#0c1e51"/>
<polygon points="367,318.8 374.3,318.2 372.2,322.1 364.8,322.7" fill="#0b1a4f" stroke="#0b1a4f"/>
<polygon points="374.3,318.2 381.8,317.5 379.7,321.5 372.2,322.1" fill="#0b164c" stroke="#0b164c"/>
<polygon points="221.9,333.2 228.8,332.7 225.7,336.1 218.8,336.5" fill="#214716" stroke="#214716"/>
<polygon points="228.8,332.7 235.7,332.2 232.7,335.6 225.7,336.1" fill="#1f4918" stroke="#1f4918"/>
<polygon points="235.7,332.2 242.6,331.7 239.7,335.1 232.7,335.6" fill="#1d4a1a" stroke="#1d4a1a"/>
<polygon points="242.6,331.7 249.6,331.2 246.7,334.7 239.7,335.1" fill="#1b4b1c" stroke="#1b4b1c"/>
<polygon points="249.6,331.2 256.6,330.7 253.8,334.2 246.7,334.7" fill="#194b1e" stroke="#194b1e"/>
<polygon points="256.6,330.7 263.6,330.2 260.8,333.7 253.8,334.2" fill="#174c20" stroke="#174c20"/>
<polygon points="263.6,330.2 270.7,329.7 267.9,333.3 260.8,333.7" fill="#164b23" stroke="#164b23"/>
<polygon points="270.7,329.7 277.8,329.2 275.1,332.8 267.9,333.3" fill="#144a26" stroke="#144a26"/>
<polygon points="277.8,329.2 284.9,328.7 282.2,332.3 275.1,332.8" fill="#13482a" stroke="#13482a"/>
<polygon points="284.9,328.7 292,328.2 289.4,331.8 282.2,332.3" fill="#12472d" stroke="#12472d"/>
<polygon points="292,328.2 299.2,327.6 296.6,331.3 289.4,331.8" fill="#114732" stroke="#114732"/>
<polygon points="299.2,327.6 306.4,327.1 303.8,330.8 296.6,331.3" fill="#104737" stroke="#104737"/>
<polygon points="306.4,327.1 313.6,326.6 311.1,330.3 303.8,330.8" fill="#10463c" stroke="#10463c"/>
<polygon points="313.6,326.6 320.8,326 318.4,329.8 311.1,330.3" fill="#0f4443" stroke="#0f4443"/>
<polygon points="320.8,326 328.1,325.5 325.7,329.3 318.4,329.8" fill="#0f4149" stroke="#0f4149"/>
<polygon points="328.1,325.5 335.4,324.9 333,328.7 325.7,329.3" fill="#0e3b4c" stroke="#0e3b4c"/>
<polygon points="335.4,324.9 342.7,324.4 340.4,328.2 333,328.7" fill="#0e354f" stroke="#0e354f"/>
<polygon points="342.7,324.4 350,323.8 347.8,327.7 340.4,328.2" fill="#0d2f51" stroke="#0d2f51"/>
<polygon points="350,323.8 357.4,323.2 355.2,327.1 347.8,327.7" fill="#0c2852" stroke="#0c2852"/>
<polygon points="357.4,323.2 364.8,322.7 362.6,326.6 355.2,327.1" fill="#0c2252" stroke="#0c2252"/>
<polygon points="364.8,322.7 372.2,322.1 370.1,326 362.6,326.6" fill="#0c1d50" stroke="#0c1d50"/>
<polygon points="372.2,322.1 379.7,321.5 377.6,325.5 370.1,326" fill="#0b184e" stroke="#0b184e"/>
<polygon points="218.8,336.5 225.7,336.1 222.7,339.4 215.7,339.8" fill="#254715" stroke="#254715"/>
<polygon points="225.7,336.1 232.7,335.6 229.7,339 222.7,339.4" fill="#224917" stroke="#224917"/>
<polygon points="232.7,335.6 239.7,335.1 236.8,338.6 229.7,339" fill="#204a19" stroke="#204a19"/>
<polygon points="239.7,335.1 246.7,334.7 243.8,338.1 236.8,338.6" fill="#1e4c1a" stroke="#1e4c1a"/>
<polygon points="246.7,334.7 253.8,334.2 250.9,337.7 243.8,338.1" fill="#1c4c1c" stroke="#1c4c1c"/>
<polygon points="253.8,334.2 260.8,333.7 258.1,337.2 250.9,337.7" fill="#1a4d1e" stroke="#1a4d1e"/>
<polygon points="260.8,333.7 267.9,333.3 265.2,336.8 258.1,337.2" fill="#184d21" stroke="#184d21"/>
<polygon points="267.9,333.3 275.1,332.8 272.4,336.3 265.2,336.8" fill="#164c23" stroke="#164c23"/>
<polygon points="275.1,332.8 282.2,332.3 279.6,335.9 272.4,336.3" fill="#154b27" stroke="#154b27"/>
<polygon points="282.2,332.3 289.4,331.8 286.8,335.4 279.6,335.9" fill="#13492a" stroke="#13492a"/>
<polygon points="289.4,331.8 296.6,331.3 294,335 286.8,335.4" fill="#12482e" stroke="#12482e"/>
<polygon points="296.6,331.3 303.8,330.8 301.3,334.5 294,335" fill="#114833" stroke="#114833"/>
<polygon points="303.8,330.8 311.1,330.3 308.6,334 301.3,334.5" fill="#104839" stroke="#104839"/>
<polygon points="311.1,330.3 318.4,329.8 315.9,333.5 308.6,334" fill="#10463e" stroke="#10463e"/>
<polygon points="318.4,329.8 325.7,329.3 323.3,333 315.9,333.5" fill="#0f4344" stroke="#0f4344"/>
<polygon points="325.7,329.3 333,328.7 330.7,332.5 323.3,333" fill="#0f404b" stroke="#0f404b"/>
<polygon points="333,328.7 340.4,328.2 338.1,332 330.7,332.5" fill="#0e3a4d" stroke="#0e3a4d"/>
<polygon points="340.4,328.2 347.8,327.7 345.5,331.5 338.1,332" fill="#0d3450" stroke="#0d3450"/>
<polygon points="347.8,327.7 355.2,327.1 353,331 345.5,331.5" fill="#0d2d52" stroke="#0d2d52"/>
<polygon points="355.2,327.1 362.6,326.6 360.4,330.5 353,331" fill="#0c2652" stroke="#0c2652"/>
<polygon points="362.6,326.6 370.1,326 367.9,330 360.4,330.5" fill="#0c2051" stroke="#0c2051"/>
<polygon points="370.1,326 377.6,325.5 375.5,329.4 367.9,330" fill="#0c1b4f" stroke="#0c1b4f"/>
<polygon points="215.7,339.8 222.7,339.4 219.7,342.8 212.7,343.1" fill="#284515" stroke="#284515"/>
<polygon points="222.7,339.4 229.7,339 226.8,342.4 219.7,342.8" fill="#264816" stroke="#264816"/>
<polygon points="229.7,339 236.8,338.6 233.8,342 226.8,342.4" fill="#234a18" stroke="#234a18"/>
<polygon points="236.8,338.6 243.8,338.1 241,341.6 233.8,342" fill="#214c19" stroke="#214c19"/>
<polygon points="243.8,338.1 250.9,337.7 248.1,341.2 241,341.6" fill="#1e4e1b" stroke="#1e4e1b"/>
<polygon points="250.9,337.7 258.1,337.2 255.3,340.7 248.1,341.2" fill="#1c4e1d" stroke="#1c4e1d"/>
<polygon points="258.1,337.2 265.2,336.8 262.5,340.3 255.3,340.7" fill="#1a4e1f" stroke="#1a4e1f"/>
<polygon points="265.2,336.8 272.4,336.3 269.7,339.9 262.5,340.3" fill="#184e21" stroke="#184e21"/>
<polygon points="272.4,336.3 279.6,335.9 276.9,339.5 269.7,339.9" fill="#164d25" stroke="#164d25"/>
<polygon points="279.6,335.9 286.8,335.4 284.2,339 276.9,339.5" fill="#154c28" stroke="#154c28"/>
<polygon points="286.8,335.4 294,335 291.5,338.6 284.2,339" fill="#134a2c" stroke="#134a2c"/>
<polygon points="294,335 301.3,334.5 298.8,338.2 291.5,338.6" fill="#124930" stroke="#124930"/>
<polygon points="301.3,334.5 308.6,334 306.1,337.7 298.8,338.2" fill="#114935" stroke="#114935"/>
<polygon points="308.6,334 315.9,333.5 313.5,337.2 306.1,337.7" fill="#10483a" stroke="#10483a"/>
<polygon points="315.9,333.5 323.3,333 320.9,336.8 313.5,337.2" fill="#104640" stroke="#104640"/>
<polygon points="323.3,333 330.7,332.5 328.3,336.3 320.9,336.8" fill="#0f4347" stroke="#0f4347"/>
<polygon points="330.7,332.5 338.1,332 335.8,335.8 328.3,336.3" fill="#0f3f4c" stroke="#0f3f4c"/>
<polygon points="338.1,332 345.5,331.5 343.2,335.4 335.8,335.8" fill="#0e384f" stroke="#0e384f"/>
<polygon points="345.5,331.5 353,331 350.7,334.9 343.2,335.4" fill="#0d3251" stroke="#0d3251"/>
<polygon points="353,331 360.4,330.5 358.3,334.4 350.7,334.9" fill="#0c2a53" stroke="#0c2a53"/>
<polygon points="360.4,330.5 367.9,330 365.8,333.9 358.3,334.4" fill="#0c2452" stroke="#0c2452"/>
<polygon points="367.9,330 375.5,329.4 373.4,333.4 365.8,333.9" fill="#0c1e50" stroke="#0c1e50"/>
<polygon points="212.7,343.1 219.7,342.8 216.7,346.1 209.6,346.5" fill="#2c4315" stroke="#2c4315"/>
<polygon points="219.7,342.8 226.8,342.4 223.8,345.7 216.7,346.1" fill="#2a4716" stroke="#2a4716"/>
<polygon points="226.8,342.4 233.8,342 230.9,345.4 223.8,345.7" fill="#274a16" stroke="#274a16"/>
<polygon points="233.8,342 241,341.6 238.1,345 230.9,345.4" fill="#244c18" stroke="#244c18"/>
<polygon points="241,341.6 248.1,341.2 245.3,344.6 238.1,345" fill="#214e1a" stroke="#214e1a"/>
<polygon points="248.1,341.2 255.3,340.7 252.5,344.2 245.3,344.6" fill="#1e4f1c" stroke="#1e4f1c"/>
<polygon points="255.3,340.7 262.5,340.3 259.7,343.9 252.5,344.2" fill="#1c4f1e" stroke="#1c4f1e"/>
<polygon points="262.5,340.3 269.7,339.9 267,343.5 259.7,343.9" fill="#1a5020" stroke="#1a5020"/>
<polygon points="269.7,339.9 276.9,339.5 274.3,343.1 267,343.5" fill="#184f22" stroke="#184f22"/>
<polygon points="276.9,339.5 284.2,339 281.6,342.7 274.3,343.1" fill="#164e26" stroke="#164e26"/>
<polygon points="284.2,339 291.5,338.6 288.9,342.2 281.6,342.7" fill="#144c29" stroke="#144c29"/>
<polygon points="291.5,338.6 298.8,338.2 296.3,341.8 288.9,342.2" fill="#134a2d" stroke="#134a2d"/>
<polygon points="298.8,338.2 306.1,337.7 303.7,341.4 296.3,341.8" fill="#124a32" stroke="#124a32"/>
<polygon points="306.1,337.7 313.5,337.2 311.1,341 303.7,341.4" fill="#114937" stroke="#114937"/>
<polygon points="313.5,337.2 320.9,336.8 318.5,340.5 311.1,341" fill="#10483c" stroke="#10483c"/>
<polygon points="320.9,336.8 328.3,336.3 326,340.1 318.5,340.5" fill="#104543" stroke="#104543"/>
<polygon points="328.3,336.3 335.8,335.8 333.5,339.7 326,340.1" fill="#0f4249" stroke="#0f4249"/>
<polygon points="335.8,335.8 343.2,335.4 341,339.2 333.5,339.7" fill="#0e3c4d" stroke="#0e3c4d"/>
<polygon points="343.2,335.4 350.7,334.9 348.5,338.8 341,339.2" fill="#0e3650" stroke="#0e3650"/>
<polygon points="350.7,334.9 358.3,334.4 356.1,338.3 348.5,338.8" fill="#0d2f52" stroke="#0d2f52"/>
<polygon points="358.3,334.4 365.8,333.9 363.7,337.8 356.1,338.3" fill="#0c2852" stroke="#0c2852"/>
<polygon points="365.8,333.9 373.4,333.4 371.3,337.4 363.7,337.8" fill="#0c2151" stroke="#0c2151"/>
<polygon points="209.6,346.5 216.7,346.1 213.6,349.5 206.5,349.8" fill="#304015" stroke="#304015"/>
<polygon points="216.7,346.1 223.8,345.7 220.8,349.1 213.6,349.5" fill="#2e4516" stroke="#2e4516"/>
<polygon points="223.8,345.7 230.9,345.4 228,348.8 220.8,349.1" fill="#2b4916" stroke="#2b4916"/>
<polygon points="230.9,345.4 238.1,345 235.2,348.4 228,348.8" fill="#284c17" stroke="#284c17"/>
<polygon points="238.1,345 245.3,344.6 242.4,348.1 235.2,348.4" fill="#254e19" stroke="#254e19"/>
<polygon points="245.3,344.6 252.5,344.2 249.7,347.7 242.4,348.1" fill="#21501b" stroke="#21501b"/>
<polygon points="252.5,344.2 259.7,343.9 257,347.4 249.7,347.7" fill="#1f511d" stroke="#1f511d"/>
<polygon points="259.7,343.9 267,343.5 264.3,347 257,347.4" fill="#1c511f" stroke="#1c511f"/>
<polygon points="267,343.5 274.3,343.1 271.6,346.6 264.3,347" fill="#1a5121" stroke="#1a5121"/>
<polygon points="274.3,343.1 281.6,342.7 279,346.3 271.6,346.6" fill="#175024" stroke="#175024"/>
<polygon points="281.6,342.7 288.9,342.2 286.3,345.9 279,346.3" fill="#164e27" stroke="#164e27"/>
<polygon points="288.9,342.2 296.3,341.8 293.8,345.5 286.3,345.9" fill="#144c2b" stroke="#144c2b"/>
<polygon points="296.3,341.8 303.7,341.4 301.2,345.1 293.8,345.5" fill="#124a2f" stroke="#124a2f"/>
<polygon points="303.7,341.4 311.1,341 308.6,344.7 301.2,345.1" fill="#124a34" stroke="#124a34"/>
<polygon points="311.1,341 318.5,340.5 316.1,344.3 308.6,344.7" fill="#114939" stroke="#114939"/>
<polygon points="318.5,340.5 326,340.1 323.6,343.9 316.1,344.3" fill="#10483f" stroke="#10483f"/>
<polygon points="326,340.1 333.5,339.7 331.2,343.5 323.6,343.9" fill="#0f4446" stroke="#0f4446"/>
<polygon points="333.5,339.7 341,339.2 338.7,343.1 331.2,343.5" fill="#0f404b" stroke="#0f404b"/>
<polygon points="341,339.2 348.5,338.8 346.3,342.6 338.7,343.1" fill="#0e3a4e" stroke="#0e3a4e"/>
<polygon points="348.5,338.8 356.1,338.3 353.9,342.2 346.3,342.6" fill="#0d3350" stroke="#0d3350"/>
<polygon points="356.1,338.3 363.7,337.8 361.5,341.8 353.9,342.2" fill="#0d2c52" stroke="#0d2c52"/>
<polygon points="363.7,337.8 371.3,337.4 369.2,341.3 361.5,341.8" fill="#0c2551" stroke="#0c2551"/>
<polygon points="206.5,349.8 213.6,349.5 210.6,352.8 203.4,353.1" fill="#333b14" stroke="#333b14"/>
<polygon points="213.6,349.5 220.8,349.1 217.8,352.5 210.6,352.8" fill="#314216" stroke="#314216"/>
<polygon points="220.8,349.1 228,348.8 225.1,352.2 217.8,352.5" fill="#2e4716" stroke="#2e4716"/>
<polygon points="228,348.8 235.2,348.4 232.3,351.9 225.1,352.2" fill="#2b4b17" stroke="#2b4b17"/>
<polygon points="235.2,348.4 242.4,348.1 239.6,351.6 232.3,351.9" fill="#284e18" stroke="#284e18"/>
<polygon points="242.4,348.1 249.7,347.7 246.9,351.2 239.6,351.6" fill="#24501a" stroke="#24501a"/>
<polygon points="249.7,347.7 257,347.4 254.2,350.9 246.9,351.2" fill="#21511c" stroke="#21511c"/>
<polygon points="257,347.4 264.3,347 261.6,350.6 254.2,350.9" fill="#1e521e" stroke="#1e521e"/>
<polygon points="264.3,347 271.6,346.6 269,350.2 261.6,350.6" fill="#1c5220" stroke="#1c5220"/>
<polygon points="271.6,346.6 279,346.3 276.4,349.9 269,350.2" fill="#195122" stroke="#195122"/>
<polygon points="279,346.3 286.3,345.9 283.8,349.5 276.4,349.9" fill="#175026" stroke="#175026"/>
<polygon points="286.3,345.9 293.8,345.5 291.2,349.2 283.8,349.5" fill="#154e29" stroke="#154e29"/>
<polygon points="293.8,345.5 301.2,345.1 298.7,348.8 291.2,349.2" fill="#134c2d" stroke="#134c2d"/>
<polygon points="301.2,345.1 308.6,344.7 306.2,348.4 298.7,348.8" fill="#124b32" stroke="#124b32"/>
<polygon points="308.6,344.7 316.1,344.3 313.7,348.1 306.2,348.4" fill="#114a37" stroke="#114a37"/>
<polygon points="316.1,344.3 323.6,343.9 321.3,347.7 313.7,348.1" fill="#11493c" stroke="#11493c"/>
<polygon points="323.6,343.9 331.2,343.5 328.9,347.3 321.3,347.7" fill="#104642" stroke="#104642"/>
<polygon points="331.2,343.5 338.7,343.1 336.5,346.9 328.9,347.3" fill="#0f4349" stroke="#0f4349"/>
<polygon points="338.7,343.1 346.3,342.6 344.1,346.5 336.5,346.9" fill="#0f3d4d" stroke="#0f3d4d"/>
<polygon points="346.3,342.6 353.9,342.2 351.7,346.1 344.1,346.5" fill="#0e374f" stroke="#0e374f"/>
<polygon points="353.9,342.2 361.5,341.8 359.4,345.7 351.7,346.1" fill="#0d3051" stroke="#0d3051"/>
<polygon points="361.5,341.8 369.2,341.3 367.1,345.3 359.4,345.7" fill="#0c2851" stroke="#0c2851"/>
<polygon points="203.4,353.1 210.6,352.8 207.6,356.1 200.4,356.4" fill="#363612" stroke="#363612"/>
<polygon points="210.6,352.8 217.8,352.5 214.9,355.9 207.6,356.1" fill="#343d15" stroke="#343d15"/>
<polygon points="217.8,352.5 225.1,352.2 222.1,355.6 214.9,355.9" fill="#324417" stroke="#324417"/>
<polygon points="225.1,352.2 232.3,351.9 229.4,355.3 222.1,355.6" fill="#2e4917" stroke="#2e4917"/>
<polygon points="232.3,351.9 239.6,351.6 236.8,355 229.4,355.3" fill="#2b4e17" stroke="#2b4e17"/>
<polygon points="239.6,351.6 246.9,351.2 244.1,354.7 236.8,355" fill="#275019" stroke="#275019"/>
<polygon points="246.9,351.2 254.2,350.9 251.5,354.4 244.1,354.7" fill="#23521b" stroke="#23521b"/>
<polygon points="254.2,350.9 261.6,350.6 258.9,354.1 251.5,354.4" fill="#20531d" stroke="#20531d"/>
<polygon points="261.6,350.6 269,350.2 266.3,353.8 258.9,354.1" fill="#1d531f" stroke="#1d531f"/>
<polygon points="269,350.2 276.4,349.9 273.8,353.5 266.3,353.8" fill="#1b5222" stroke="#1b5222"/>
<polygon points="276.4,349.9 283.8,349.5 281.2,353.2 273.8,353.5" fill="#185224" stroke="#185224"/>
<polygon points="283.8,349.5 291.2,349.2 288.7,352.8 281.2,353.2" fill="#164f28" stroke="#164f28"/>
<polygon points="291.2,349.2 298.7,348.8 296.2,352.5 288.7,352.8" fill="#144d2c" stroke="#144d2c"/>
<polygon points="298.7,348.8 306.2,348.4 303.8,352.2 296.2,352.5" fill="#134b30" stroke="#134b30"/>
<polygon points="306.2,348.4 313.7,348.1 311.3,351.8 303.8,352.2" fill="#124b35" stroke="#124b35"/>
<polygon points="313.7,348.1 321.3,347.7 318.9,351.5 311.3,351.8" fill="#114a3a" stroke="#114a3a"/>
<polygon points="321.3,347.7 328.9,347.3 326.6,351.1 318.9,351.5" fill="#10483f" stroke="#10483f"/>
<polygon points="328.9,347.3 336.5,346.9 334.2,350.8 326.6,351.1" fill="#104445" stroke="#104445"/>
<polygon points="336.5,346.9 344.1,346.5 341.9,350.4 334.2,350.8" fill="#0f414b" stroke="#0f414b"/>
<polygon points="344.1,346.5 351.7,346.1 349.5,350 341.9,350.4" fill="#0e3a4d" stroke="#0e3a4d"/>
<polygon points="351.7,346.1 359.4,345.7 357.3,349.6 349.5,350" fill="#0d344f" stroke="#0d344f"/>
<polygon points="359.4,345.7 367.1,345.3 365,349.3 357.3,349.6" fill="#0c2c51" stroke="#0c2c51"/>
<polygon points="200.4,356.4 207.6,356.1 204.6,359.5 197.3,359.7" fill="#383111" stroke="#383111"/>
<polygon points="207.6,356.1 214.9,355.9 211.9,359.2 204.6,359.5" fill="#373813" stroke="#373813"/>
<polygon points="214.9,355.9 222.1,355.6 219.2,359 211.9,359.2" fill="#354116" stroke="#354116"/>
<polygon points="222.1,355.6 229.4,355.3 226.6,358.7 219.2,359" fill="#324717" stroke="#324717"/>
<polygon points="229.4,355.3 236.8,355 233.9,358.5 226.6,358.7" fill="#2e4c17" stroke="#2e4c17"/>
<polygon points="236.8,355 244.1,354.7 241.3,358.2 233.9,358.5" fill="#2a5018" stroke="#2a5018"/>
<polygon points="244.1,354.7 251.5,354.4 248.8,357.9 241.3,358.2" fill="#26521a" stroke="#26521a"/>
<polygon points="251.5,354.4 258.9,354.1 256.2,357.7 248.8,357.9" fill="#22531c" stroke="#22531c"/>
<polygon points="258.9,354.1 266.3,353.8 263.7,357.4 256.2,357.7" fill="#1f531e" stroke="#1f531e"/>
<polygon points="266.3,353.8 273.8,353.5 271.1,357.1 263.7,357.4" fill="#1c5321" stroke="#1c5321"/>
<polygon points="273.8,353.5 281.2,353.2 278.7,356.8 271.1,357.1" fill="#195323" stroke="#195323"/>
<polygon points="281.2,353.2 288.7,352.8 286.2,356.5 278.7,356.8" fill="#175127" stroke="#175127"/>
<polygon points="288.7,352.8 296.2,352.5 293.8,356.2 286.2,356.5" fill="#154f2a" stroke="#154f2a"/>
<polygon points="296.2,352.5 303.8,352.2 301.3,355.9 293.8,356.2" fill="#134c2e" stroke="#134c2e"/>
<polygon points="303.8,352.2 311.3,351.8 309,355.6 301.3,355.9" fill="#124b33" stroke="#124b33"/>
<polygon points="311.3,351.8 318.9,351.5 316.6,355.3 309,355.6" fill="#114a38" stroke="#114a38"/>
<polygon points="318.9,351.5 326.6,351.1 324.2,354.9 316.6,355.3" fill="#10493d" stroke="#10493d"/>
<polygon points="326.6,351.1 334.2,350.8 331.9,354.6 324.2,354.9" fill="#104643" stroke="#104643"/>
<polygon points="334.2,350.8 341.9,350.4 339.6,354.3 331.9,354.6" fill="#0f4248" stroke="#0f4248"/>
<polygon points="341.9,350.4 349.5,350 347.4,353.9 339.6,354.3" fill="#0e3d4c" stroke="#0e3d4c"/>
<polygon points="349.5,350 357.3,349.6 355.1,353.6 347.4,353.9" fill="#0e374e" stroke="#0e374e"/>
<polygon points="357.3,349.6 365,349.3 362.9,353.2 355.1,353.6" fill="#0d304f" stroke="#0d304f"/>
<polygon points="197.3,359.7 204.6,359.5 201.6,362.8 194.3,363" fill="#392d10" stroke="#392d10"/>
<polygon points="204.6,359.5 211.9,359.2 208.9,362.6 201.6,362.8" fill="#393312" stroke="#393312"/>
<polygon points="211.9,359.2 219.2,359 216.3,362.4 208.9,362.6" fill="#373c14" stroke="#373c14"/>
<polygon points="219.2,359 226.6,358.7 223.7,362.1 216.3,362.4" fill="#354517" stroke="#354517"/>
<polygon points="226.6,358.7 233.9,358.5 231.1,361.9 223.7,362.1" fill="#314a18" stroke="#314a18"/>
<polygon points="233.9,358.5 241.3,358.2 238.5,361.7 231.1,361.9" fill="#2c4f18" stroke="#2c4f18"/>
<polygon points="241.3,358.2 248.8,357.9 246,361.5 238.5,361.7" fill="#28521a" stroke="#28521a"/>
<polygon points="248.8,357.9 256.2,357.7 253.5,361.2 246,361.5" fill="#24531c" stroke="#24531c"/>
<polygon points="256.2,357.7 263.7,357.4 261,361 253.5,361.2" fill="#20541e" stroke="#20541e"/>
<polygon points="263.7,357.4 271.1,357.1 268.5,360.7 261,361" fill="#1d5420" stroke="#1d5420"/>
<polygon points="271.1,357.1 278.7,356.8 276.1,360.4 268.5,360.7" fill="#1a5323" stroke="#1a5323"/>
<polygon points="278.7,356.8 286.2,356.5 283.7,360.2 276.1,360.4" fill="#185226" stroke="#185226"/>
<polygon points="286.2,356.5 293.8,356.2 291.3,359.9 283.7,360.2" fill="#165029" stroke="#165029"/>
<polygon points="293.8,356.2 301.3,355.9 298.9,359.6 291.3,359.9" fill="#144d2d" stroke="#144d2d"/>
<polygon points="301.3,355.9 309,355.6 306.6,359.3 298.9,359.6" fill="#134c31" stroke="#134c31"/>
<polygon points="309,355.6 316.6,355.3 314.2,359.1 306.6,359.3" fill="#124b36" stroke="#124b36"/>
<polygon points="316.6,355.3 324.2,354.9 321.9,358.8 314.2,359.1" fill="#114a3b" stroke="#114a3b"/>
<polygon points="324.2,354.9 331.9,354.6 329.7,358.5 321.9,358.8" fill="#104840" stroke="#104840"/>
<polygon points="331.9,354.6 339.6,354.3 337.4,358.1 329.7,358.5" fill="#0f4446" stroke="#0f4446"/>
<polygon points="339.6,354.3 347.4,353.9 345.2,357.8 337.4,358.1" fill="#0f404b" stroke="#0f404b"/>
<polygon points="347.4,353.9 355.1,353.6 353,357.5 345.2,357.8" fill="#0e3a4c" stroke="#0e3a4c"/>
<polygon points="355.1,353.6 362.9,353.2 360.8,357.2 353,357.5" fill="#0d344e" stroke="#0d344e"/>
<polygon points="194.3,363 201.6,362.8 198.6,366.1 191.2,366.3" fill="#3a2a0f" stroke="#3a2a0f"/>
<polygon points="201.6,362.8 208.9,362.6 206,365.9 198.6,366.1" fill="#3a3011" stroke="#3a3011"/>
<polygon points="208.9,362.6 216.3,362.4 213.4,365.8 206,365.9" fill="#3a3713" stroke="#3a3713"/>
<polygon points="216.3,362.4 223.7,362.1 220.8,365.6 213.4,365.8" fill="#374116" stroke="#374116"/>
<polygon points="223.7,362.1 231.1,361.9 228.3,365.4 220.8,365.6" fill="#334918" stroke="#334918"/>
<polygon points="231.1,361.9 238.5,361.7 235.8,365.2 228.3,365.4" fill="#2f4e18" stroke="#2f4e18"/>
<polygon points="238.5,361.7 246,361.5 243.3,365 235.8,365.2" fill="#2a5219" stroke="#2a5219"/>
<polygon points="246,361.5 253.5,361.2 250.8,364.8 243.3,365" fill="#26541b" stroke="#26541b"/>
<polygon points="253.5,361.2 261,361 258.4,364.5 250.8,364.8" fill="#21551d" stroke="#21551d"/>
<polygon points="261,361 268.5,360.7 265.9,364.3 258.4,364.5" fill="#1e5520" stroke="#1e5520"/>
<polygon points="268.5,360.7 276.1,360.4 273.5,364.1 265.9,364.3" fill="#1b5422" stroke="#1b5422"/>
<polygon points="276.1,360.4 283.7,360.2 281.2,363.8 273.5,364.1" fill="#195325" stroke="#195325"/>
<polygon points="283.7,360.2 291.3,359.9 288.8,363.6 281.2,363.8" fill="#175129" stroke="#175129"/>
<polygon points="291.3,359.9 298.9,359.6 296.5,363.4 288.8,363.6" fill="#154e2c" stroke="#154e2c"/>
<polygon points="298.9,359.6 306.6,359.3 304.2,363.1 296.5,363.4" fill="#134c30" stroke="#134c30"/>
<polygon points="306.6,359.3 314.2,359.1 311.9,362.8 304.2,363.1" fill="#124b35" stroke="#124b35"/>
<polygon points="314.2,359.1 321.9,358.8 319.6,362.6 311.9,362.8" fill="#114a39" stroke="#114a39"/>
<polygon points="321.9,358.8 329.7,358.5 327.4,362.3 319.6,362.6" fill="#10493e" stroke="#10493e"/>
<polygon points="329.7,358.5 337.4,358.1 335.2,362 327.4,362.3" fill="#104543" stroke="#104543"/>
<polygon points="337.4,358.1 345.2,357.8 343,361.7 335.2,362" fill="#0f4248" stroke="#0f4248"/>
<polygon points="345.2,357.8 353,357.5 350.8,361.4 343,361.7" fill="#0e3d4b" stroke="#0e3d4b"/>
<polygon points="353,357.5 360.8,357.2 358.7,361.1 350.8,361.4" fill="#0e374c" stroke="#0e374c"/>
<polygon points="191.2,366.3 198.6,366.1 195.6,369.4 188.1,369.6" fill="#3a280e" stroke="#3a280e"/>
<polygon points="198.6,366.1 206,365.9 203,369.3 195.6,369.4" fill="#3b2d10" stroke="#3b2d10"/>
<polygon points="206,365.9 213.4,365.8 210.5,369.1 203,369.3" fill="#3b3412" stroke="#3b3412"/>
<polygon points="213.4,365.8 220.8,365.6 218,369 210.5,369.1" fill="#393d15" stroke="#393d15"/>
<polygon points="220.8,365.6 228.3,365.4 225.5,368.8 218,369" fill="#364718" stroke="#364718"/>
<polygon points="228.3,365.4 235.8,365.2 233,368.6 225.5,368.8" fill="#314d18" stroke="#314d18"/>
<polygon points="235.8,365.2 243.3,365 240.5,368.5 233,368.6" fill="#2c5219" stroke="#2c5219"/>
<polygon points="243.3,365 250.8,364.8 248.1,368.3 240.5,368.5" fill="#27541b" stroke="#27541b"/>
<polygon points="250.8,364.8 258.4,364.5 255.7,368.1 248.1,368.3" fill="#22551d" stroke="#22551d"/>
<polygon points="258.4,364.5 265.9,364.3 263.3,367.9 255.7,368.1" fill="#1f551f" stroke="#1f551f"/>
<polygon points="265.9,364.3 273.5,364.1 271,367.7 263.3,367.9" fill="#1c5522" stroke="#1c5522"/>
<polygon points="273.5,364.1 281.2,363.8 278.7,367.5 271,367.7" fill="#195424" stroke="#195424"/>
<polygon points="281.2,363.8 288.8,363.6 286.3,367.3 278.7,367.5" fill="#175228" stroke="#175228"/>
<polygon points="288.8,363.6 296.5,363.4 294.1,367.1 286.3,367.3" fill="#154f2c" stroke="#154f2c"/>
<polygon points="296.5,363.4 304.2,363.1 301.8,366.9 294.1,367.1" fill="#134d2f" stroke="#134d2f"/>
<polygon points="304.2,363.1 311.9,362.8 309.6,366.6 301.8,366.9" fill="#124c34" stroke="#124c34"/>
<polygon points="311.9,362.8 319.6,362.6 317.3,366.4 309.6,366.6" fill="#114b38" stroke="#114b38"/>
<polygon points="319.6,362.6 327.4,362.3 325.1,366.1 317.3,366.4" fill="#11493c" stroke="#11493c"/>
<polygon points="327.4,362.3 335.2,362 333,365.9 325.1,366.1" fill="#104641" stroke="#104641"/>
<polygon points="335.2,362 343,361.7 340.8,365.6 333,365.9" fill="#0f4346" stroke="#0f4346"/>
<polygon points="343,361.7 350.8,361.4 348.7,365.4 340.8,365.6" fill="#0f3f49" stroke="#0f3f49"/>
<polygon points="350.8,361.4 358.7,361.1 356.6,365.1 348.7,365.4" fill="#0e394a" stroke="#0e394a"/>
<polygon points="188.1,369.6 195.6,369.4 192.6,372.7 185.1,372.8" fill="#3a250d" stroke="#3a250d"/>
<polygon points="195.6,369.4 203,369.3 200,372.6 192.6,372.7" fill="#3c2b0f" stroke="#3c2b0f"/>
<polygon points="203,369.3 210.5,369.1 207.6,372.5 200,372.6" fill="#3c3111" stroke="#3c3111"/>
<polygon points="210.5,369.1 218,369 215.1,372.4 207.6,372.5" fill="#3b3914" stroke="#3b3914"/>
<polygon points="218,369 225.5,368.8 222.6,372.3 215.1,372.4" fill="#384417" stroke="#384417"/>
<polygon points="225.5,368.8 233,368.6 230.2,372.1 222.6,372.3" fill="#334c18" stroke="#334c18"/>
<polygon points="233,368.6 240.5,368.5 237.8,372 230.2,372.1" fill="#2d5218" stroke="#2d5218"/>
<polygon points="240.5,368.5 248.1,368.3 245.4,371.8 237.8,372" fill="#28541b" stroke="#28541b"/>
<polygon points="248.1,368.3 255.7,368.1 253.1,371.7 245.4,371.8" fill="#23561d" stroke="#23561d"/>
<polygon points="255.7,368.1 263.3,367.9 260.7,371.5 253.1,371.7" fill="#20561f" stroke="#20561f"/>
<polygon points="263.3,367.9 271,367.7 268.4,371.3 260.7,371.5" fill="#1d5522" stroke="#1d5522"/>
<polygon points="271,367.7 278.7,367.5 276.1,371.2 268.4,371.3" fill="#195424" stroke="#195424"/>
<polygon points="278.7,367.5 286.3,367.3 283.9,371 276.1,371.2" fill="#175228" stroke="#175228"/>
<polygon points="286.3,367.3 294.1,367.1 291.6,370.8 283.9,371" fill="#15502b" stroke="#15502b"/>
<polygon points="294.1,367.1 301.8,366.9 299.4,370.6 291.6,370.8" fill="#144d2f" stroke="#144d2f"/>
<polygon points="301.8,366.9 309.6,366.6 307.2,370.4 299.4,370.6" fill="#124c33" stroke="#124c33"/>
<polygon points="309.6,366.6 317.3,366.4 315,370.2 307.2,370.4" fill="#124b37" stroke="#124b37"/>
<polygon points="317.3,366.4 325.1,366.1 322.9,370 315,370.2" fill="#114a3b" stroke="#114a3b"/>
<polygon points="325.1,366.1 333,365.9 330.8,369.8 322.9,370" fill="#10473f" stroke="#10473f"/>
<polygon points="333,365.9 340.8,365.6 338.6,369.5 330.8,369.8" fill="#0f4443" stroke="#0f4443"/>
<polygon points="340.8,365.6 348.7,365.4 346.6,369.3 338.6,369.5" fill="#0f4147" stroke="#0f4147"/>
<polygon points="348.7,365.4 356.6,365.1 354.5,369.1 346.6,369.3" fill="#0e3c49" stroke="#0e3c49"/>
<polygon points="185.1,372.8 192.6,372.7 189.6,376.1 182,376.1" fill="#3a230c" stroke="#3a230c"/>
<polygon points="192.6,372.7 200,372.6 197.1,376 189.6,376.1" fill="#3c290e" stroke="#3c290e"/>
<polygon points="200,372.6 207.6,372.5 204.6,375.9 197.1,376" fill="#3d2e11" stroke="#3d2e11"/>
<polygon points="207.6,372.5 215.1,372.4 212.2,375.8 204.6,375.9" fill="#3c3713" stroke="#3c3713"/>
<polygon points="215.1,372.4 222.6,372.3 219.8,375.7 212.2,375.8" fill="#394216" stroke="#394216"/>
<polygon points="222.6,372.3 230.2,372.1 227.4,375.6 219.8,375.7" fill="#344b18" stroke="#344b18"/>
<polygon points="230.2,372.1 237.8,372 235.1,375.5 227.4,375.6" fill="#2f5119" stroke="#2f5119"/>
<polygon points="237.8,372 245.4,371.8 242.7,375.4 235.1,375.5" fill="#29541a" stroke="#29541a"/>
<polygon points="245.4,371.8 253.1,371.7 250.4,375.2 242.7,375.4" fill="#24561d" stroke="#24561d"/>
<polygon points="253.1,371.7 260.7,371.5 258.1,375.1 250.4,375.2" fill="#20561f" stroke="#20561f"/>
<polygon points="260.7,371.5 268.4,371.3 265.9,375 258.1,375.1" fill="#1d5622" stroke="#1d5622"/>
<polygon points="268.4,371.3 276.1,371.2 273.6,374.8 265.9,375" fill="#1a5524" stroke="#1a5524"/>
<polygon points="276.1,371.2 283.9,371 281.4,374.7 273.6,374.8" fill="#185328" stroke="#185328"/>
<polygon points="283.9,371 291.6,370.8 289.2,374.5 281.4,374.7" fill="#16502b" stroke="#16502b"/>
<polygon points="291.6,370.8 299.4,370.6 297,374.4 289.2,374.5" fill="#144d2f" stroke="#144d2f"/>
<polygon points="299.4,370.6 307.2,370.4 304.9,374.2 297,374.4" fill="#134c33" stroke="#134c33"/>
<polygon points="307.2,370.4 315,370.2 312.7,374 304.9,374.2" fill="#124b37" stroke="#124b37"/>
<polygon points="315,370.2 322.9,370 320.6,373.8 312.7,374" fill="#114a3a" stroke="#114a3a"/>
<polygon points="322.9,370 330.8,369.8 328.5,373.6 320.6,373.8" fill="#10483d" stroke="#10483d"/>
<polygon points="330.8,369.8 338.6,369.5 336.5,373.4 328.5,373.6" fill="#104541" stroke="#104541"/>
<polygon points="338.6,369.5 346.6,369.3 344.4,373.2 336.5,373.4" fill="#0f4244" stroke="#0f4244"/>
<polygon points="346.6,369.3 354.5,369.1 352.4,373 344.4,373.2" fill="#0e3e47" stroke="#0e3e47"/>
<polygon points="182,376.1 189.6,376.1 186.6,379.4 179,379.4" fill="#3a220b" stroke="#3a220b"/>
<polygon points="189.6,376.1 197.1,376 194.1,379.3 186.6,379.4" fill="#3c270d" stroke="#3c270d"/>
<polygon points="197.1,376 204.6,375.9 201.7,379.3 194.1,379.3" fill="#3d2d10" stroke="#3d2d10"/>
<polygon points="204.6,375.9 212.2,375.8 209.4,379.2 201.7,379.3" fill="#3d3413" stroke="#3d3413"/>
<polygon points="212.2,375.8 219.8,375.7 217,379.1 209.4,379.2" fill="#3b4016" stroke="#3b4016"/>
<polygon points="219.8,375.7 227.4,375.6 224.7,379.1 217,379.1" fill="#364b18" stroke="#364b18"/>
<polygon points="227.4,375.6 235.1,375.5 232.4,379 224.7,379.1" fill="#305119" stroke="#305119"/>
<polygon points="235.1,375.5 242.7,375.4 240.1,378.9 232.4,379" fill="#2a551a" stroke="#2a551a"/>
<polygon points="242.7,375.4 250.4,375.2 247.8,378.8 240.1,378.9" fill="#24561d" stroke="#24561d"/>
<polygon points="250.4,375.2 258.1,375.1 255.5,378.7 247.8,378.8" fill="#20561f" stroke="#20561f"/>
<polygon points="258.1,375.1 265.9,375 263.3,378.6 255.5,378.7" fill="#1d5622" stroke="#1d5622"/>
<polygon points="265.9,375 273.6,374.8 271.1,378.5 263.3,378.6" fill="#1a5524" stroke="#1a5524"/>
<polygon points="273.6,374.8 281.4,374.7 278.9,378.4 271.1,378.5" fill="#185328" stroke="#185328"/>
<polygon points="281.4,374.7 289.2,374.5 286.8,378.2 278.9,378.4" fill="#16502c" stroke="#16502c"/>
<polygon points="289.2,374.5 297,374.4 294.6,378.1 286.8,378.2" fill="#144e2f" stroke="#144e2f"/>
<polygon points="297,374.4 304.9,374.2 302.5,378 294.6,378.1" fill="#134c32" stroke="#134c32"/>
<polygon points="304.9,374.2 312.7,374 310.4,377.8 302.5,378" fill="#124b36" stroke="#124b36"/>
<polygon points="312.7,374 320.6,373.8 318.4,377.7 310.4,377.8" fill="#114a39" stroke="#114a39"/>
<polygon points="320.6,373.8 328.5,373.6 326.3,377.5 318.4,377.7" fill="#10483c" stroke="#10483c"/>
<polygon points="328.5,373.6 336.5,373.4 334.3,377.4 326.3,377.5" fill="#10463f" stroke="#10463f"/>
<polygon points="336.5,373.4 344.4,373.2 342.3,377.2 334.3,377.4" fill="#0f4242" stroke="#0f4242"/>
<polygon points="344.4,373.2 352.4,373 350.3,377 342.3,377.2" fill="#0e3f44" stroke="#0e3f44"/>
</g>
<path d="M296.6,299.6 C297.1,301.3 297.9,306.4 299.4,310 C300.9,313.6 303.1,318.2 305.4,321.4 C307.7,324.6 310.1,326.8 313,329 C315.9,331.2 319.3,333.2 322.8,334.8 C326.3,336.4 330.4,337.6 334,338.6 C337.6,339.6 341.2,340.3 344.7,341 C348.2,341.7 351.6,342.3 355,342.8 C358.4,343.3 363.7,343.6 365.4,343.8" fill="none" stroke="#f0f0ea" stroke-width="1.25" stroke-linecap="round"/>
<path d="M202.8,352.4 C203.6,353 206.1,354.3 207.4,356 C208.7,357.7 209.8,360.4 210.4,362.6 C211,364.8 211,366.5 211,369 C211,371.5 210.7,376.2 210.6,377.6" fill="none" stroke="#f0f0ea" stroke-width="1.25" stroke-linecap="round"/>
<text x="346.4" y="315.6" font-size="9" text-anchor="middle" font-weight="normal" font-style="normal" fill="#fff" stroke="#fff" stroke-width="0.2">H</text>
<text x="262.5" y="338.2" font-size="9" text-anchor="middle" font-weight="normal" font-style="normal" fill="#fff" stroke="#fff" stroke-width="0.2">M</text>
<text x="197" y="371" font-size="9" text-anchor="middle" font-weight="normal" font-style="normal" fill="#fff" stroke="#fff" stroke-width="0.2">L</text>
<circle cx="173.6" cy="309.4" r="0.9" fill="#111"/>
<circle cx="175.1" cy="327" r="0.9" fill="#111"/>
<circle cx="176.5" cy="345" r="0.9" fill="#111"/>
<circle cx="177.9" cy="363" r="0.9" fill="#111"/>
<circle cx="179.4" cy="381" r="0.9" fill="#111"/>
<circle cx="181" cy="401" r="0.9" fill="#111"/>
<text x="170.4" y="311.6" font-size="7.2" text-anchor="end" font-weight="normal" font-style="normal" fill="#111" textLength="22.2" lengthAdjust="spacingAndGlyphs" stroke="#111" stroke-width="0.2">&#8722;1200</text>
<text x="170.4" y="329.6" font-size="7.2" text-anchor="end" font-weight="normal" font-style="normal" fill="#111" textLength="22.2" lengthAdjust="spacingAndGlyphs" stroke="#111" stroke-width="0.2">&#8722;1000</text>
<text x="170.4" y="347.8" font-size="7.2" text-anchor="end" font-weight="normal" font-style="normal" fill="#111" textLength="17.8" lengthAdjust="spacingAndGlyphs" stroke="#111" stroke-width="0.2">&#8722;800</text>
<text x="170.4" y="365.6" font-size="7.2" text-anchor="end" font-weight="normal" font-style="normal" fill="#111" textLength="17.8" lengthAdjust="spacingAndGlyphs" stroke="#111" stroke-width="0.2">&#8722;600</text>
<text x="170.4" y="383.2" font-size="7.2" text-anchor="end" font-weight="normal" font-style="normal" fill="#111" textLength="17.8" lengthAdjust="spacingAndGlyphs" stroke="#111" stroke-width="0.2">&#8722;400</text>
<text x="170.4" y="399.8" font-size="7.2" text-anchor="end" font-weight="normal" font-style="normal" fill="#111" textLength="17.8" lengthAdjust="spacingAndGlyphs" stroke="#111" stroke-width="0.2">&#8722;200</text>
<circle cx="214.1" cy="406.1" r="0.8" fill="#111"/>
<circle cx="355.6" cy="413.8" r="0.8" fill="#111"/>
<circle cx="247.2" cy="411.2" r="0.8" fill="#111"/>
<circle cx="364.7" cy="401.1" r="0.8" fill="#111"/>
<circle cx="280.2" cy="416.2" r="0.8" fill="#111"/>
<circle cx="373.9" cy="388.5" r="0.8" fill="#111"/>
<circle cx="313.3" cy="421.3" r="0.8" fill="#111"/>
<circle cx="383" cy="375.8" r="0.8" fill="#111"/>
<text x="179" y="410.7" font-size="8.2" text-anchor="middle" font-weight="normal" font-style="normal" fill="#111" transform="rotate(6 179 410.7)" textLength="6.7" lengthAdjust="spacingAndGlyphs" stroke="#111" stroke-width="0.15">25</text>
<text x="209.6" y="419.7" font-size="8.2" text-anchor="middle" font-weight="normal" font-style="normal" fill="#111" transform="rotate(6 209.6 419.7)" textLength="6.7" lengthAdjust="spacingAndGlyphs" stroke="#111" stroke-width="0.15">31</text>
<text x="244.2" y="425.3" font-size="8.2" text-anchor="middle" font-weight="normal" font-style="normal" fill="#111" transform="rotate(6 244.2 425.3)" textLength="6.7" lengthAdjust="spacingAndGlyphs" stroke="#111" stroke-width="0.15">37</text>
<text x="277" y="428.5" font-size="8.2" text-anchor="middle" font-weight="normal" font-style="normal" fill="#111" transform="rotate(6 277 428.5)" textLength="6.7" lengthAdjust="spacingAndGlyphs" stroke="#111" stroke-width="0.15">43</text>
<text x="309" y="433.1" font-size="8.2" text-anchor="middle" font-weight="normal" font-style="normal" fill="#111" transform="rotate(6 309 433.1)" textLength="6.7" lengthAdjust="spacingAndGlyphs" stroke="#111" stroke-width="0.15">49</text>
<text x="342.6" y="437.3" font-size="8.2" text-anchor="middle" font-weight="normal" font-style="normal" fill="#111" transform="rotate(6 342.6 437.3)" textLength="6.7" lengthAdjust="spacingAndGlyphs" stroke="#111" stroke-width="0.15">55</text>
<text x="351.6" y="430" font-size="8" text-anchor="middle" font-weight="normal" font-style="normal" fill="#111" transform="rotate(-3 351.6 430)" textLength="7" lengthAdjust="spacingAndGlyphs" stroke="#111" stroke-width="0.15">15</text>
<text x="364" y="416.8" font-size="8" text-anchor="middle" font-weight="normal" font-style="normal" fill="#111" transform="rotate(-3 364 416.8)" textLength="7" lengthAdjust="spacingAndGlyphs" stroke="#111" stroke-width="0.15">21</text>
<text x="371.8" y="406.2" font-size="8" text-anchor="middle" font-weight="normal" font-style="normal" fill="#111" transform="rotate(-3 371.8 406.2)" textLength="7" lengthAdjust="spacingAndGlyphs" stroke="#111" stroke-width="0.15">27</text>
<text x="382" y="392.6" font-size="8" text-anchor="middle" font-weight="normal" font-style="normal" fill="#111" transform="rotate(-3 382 392.6)" textLength="7" lengthAdjust="spacingAndGlyphs" stroke="#111" stroke-width="0.15">33</text>
<text x="390.6" y="378.4" font-size="8" text-anchor="middle" font-weight="normal" font-style="normal" fill="#111" transform="rotate(-3 390.6 378.4)" textLength="7" lengthAdjust="spacingAndGlyphs" stroke="#111" stroke-width="0.15">39</text>
<text x="399" y="366.6" font-size="8" text-anchor="middle" font-weight="normal" font-style="normal" fill="#111" transform="rotate(-3 399 366.6)" textLength="7" lengthAdjust="spacingAndGlyphs" stroke="#111" stroke-width="0.15">45</text>
<text x="382.4" y="404" font-size="9.4" text-anchor="start" font-weight="bold" font-style="normal" fill="#111" textLength="38.6" lengthAdjust="spacingAndGlyphs">Feed speed</text>
<text x="384" y="417.2" font-size="8.6" text-anchor="start" font-weight="normal" font-style="normal" fill="#222" textLength="34" lengthAdjust="spacingAndGlyphs" stroke="#222" stroke-width="0.15">(mm/min)</text>
<text x="184.4" y="442" font-size="9.4" text-anchor="start" font-weight="bold" font-style="normal" fill="#111" textLength="89" lengthAdjust="spacingAndGlyphs">Spindle rotation angle<tspan font-weight="normal" fill="#222"> (<tspan dy="1.4">&#176;</tspan><tspan dy="-1.4">)</tspan></tspan></text>
<text x="144.2" y="416.2" font-size="9.1" text-anchor="start" font-weight="bold" font-style="normal" fill="#111" transform="rotate(-90 144.2 416.2)" textLength="77" lengthAdjust="spacingAndGlyphs">Residual stress &#963;</text>
<text x="144" y="334.8" font-size="7.8" text-anchor="start" font-weight="normal" font-style="normal" fill="#666" transform="rotate(-90 144 334.8)" textLength="23.6" lengthAdjust="spacingAndGlyphs">(MPa)</text>
<text x="272" y="256.4" font-size="13" text-anchor="start" font-weight="normal" font-style="normal" fill="#111" stroke="#111" stroke-width="0.35"><tspan font-style="italic" font-weight="bold" stroke="none">n</tspan> = 30 r/min</text>
<text x="151.2" y="280.2" font-size="9" font-weight="bold" fill="#111" style="font-family:'Liberation Sans',sans-serif">c</text>
<defs><linearGradient id="cbc" x1="0" y1="0" x2="0" y2="1"><stop offset="0" stop-color="#8a1408"/><stop offset="0.1" stop-color="#d02c10"/><stop offset="0.24" stop-color="#8aa820"/><stop offset="0.4" stop-color="#28d028"/><stop offset="0.6" stop-color="#1cbc40"/><stop offset="0.78" stop-color="#106a98"/><stop offset="0.9" stop-color="#0e2cb8"/><stop offset="1" stop-color="#0c1670"/></linearGradient></defs>
<rect x="157.2" y="232.2" width="4.2" height="23.2" fill="url(#cbc)" stroke="#333" stroke-width="0.8"/>
<text x="164.4" y="236" font-size="7.4" text-anchor="start" font-weight="normal" font-style="normal" fill="#e8202a" textLength="22" lengthAdjust="spacingAndGlyphs" stroke="#e8202a" stroke-width="0.25">&#8722;373.6</text>
<text x="164.4" y="256.4" font-size="7.4" text-anchor="start" font-weight="normal" font-style="normal" fill="#2a1ce0" textLength="22" lengthAdjust="spacingAndGlyphs" stroke="#2a1ce0" stroke-width="0.25">&#8722;933.5</text>
</g>
</svg></body></html>
